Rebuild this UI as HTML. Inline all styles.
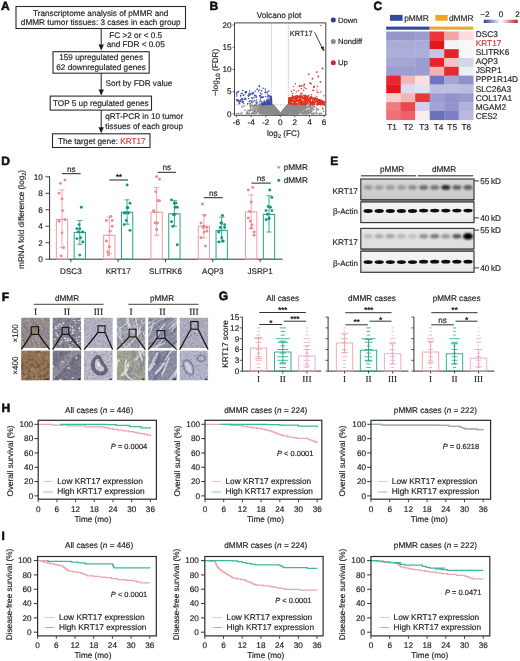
<!DOCTYPE html>
<html><head><meta charset="utf-8"><title>KRT17 figure</title>
<style>html,body{margin:0;padding:0;background:#fff;} svg{display:block;} text{font-family:'Liberation Sans', Arial, sans-serif;text-rendering:geometricPrecision;}</style>
</head><body>
<svg width="520" height="661" viewBox="0 0 520 661">
<rect x="0" y="0" width="520" height="661" fill="#fff"/>
<defs><filter id="gblur" x="0" y="0" width="100%" height="100%"><feGaussianBlur stdDeviation="0.3"/></filter></defs><g filter="url(#gblur)"><rect x="0" y="0" width="520" height="661" fill="#fff"/><text x="1.00" y="9.80" font-size="12" text-anchor="start" fill="#111" font-weight="bold" stroke="#111" stroke-width="0.55">A</text>
<rect x="16.00" y="6.50" width="169.50" height="22.00" fill="#fff" stroke="#2a2a2a" stroke-width="1.1" />
<text x="100.70" y="15.60" font-size="8.2" text-anchor="middle" fill="#222"  stroke="#222" stroke-width="0.16">Transcriptome analysis of pMMR and</text>
<text x="100.70" y="25.40" font-size="8.2" text-anchor="middle" fill="#222"  stroke="#222" stroke-width="0.16">dMMR tumor tissues: 3 cases in each group</text>
<line x1="101.20" y1="28.50" x2="101.20" y2="46.60" stroke="#222" stroke-width="1.0" />
<path d="M98.50,44.60 L103.90,44.60 L101.20,50.60 Z" fill="#1a1a1a"/>
<text x="135.70" y="37.60" font-size="8.2" text-anchor="middle" fill="#222"  stroke="#222" stroke-width="0.16">FC &gt;2 or &lt; 0.5</text>
<text x="135.70" y="47.30" font-size="8.2" text-anchor="middle" fill="#222"  stroke="#222" stroke-width="0.16">and FDR &lt; 0.05</text>
<rect x="53.00" y="51.70" width="96.20" height="21.50" fill="#fff" stroke="#2a2a2a" stroke-width="1.1" />
<text x="101.10" y="60.30" font-size="8.2" text-anchor="middle" fill="#222"  stroke="#222" stroke-width="0.16">159 upregulated genes</text>
<text x="101.10" y="69.60" font-size="8.2" text-anchor="middle" fill="#222"  stroke="#222" stroke-width="0.16">62 downregulated genes</text>
<line x1="101.20" y1="73.20" x2="101.20" y2="91.40" stroke="#222" stroke-width="1.0" />
<path d="M98.50,89.40 L103.90,89.40 L101.20,95.40 Z" fill="#1a1a1a"/>
<text x="105.50" y="86.40" font-size="8.2" text-anchor="start" fill="#222"  stroke="#222" stroke-width="0.16">Sort by FDR value</text>
<rect x="50.20" y="96.10" width="101.30" height="14.00" fill="#fff" stroke="#2a2a2a" stroke-width="1.1" />
<text x="100.85" y="105.60" font-size="8.2" text-anchor="middle" fill="#222"  stroke="#222" stroke-width="0.16">TOP 5 up regulated genes</text>
<line x1="101.20" y1="110.10" x2="101.20" y2="129.20" stroke="#222" stroke-width="1.0" />
<path d="M98.50,127.20 L103.90,127.20 L101.20,133.20 Z" fill="#1a1a1a"/>
<text x="105.20" y="119.40" font-size="8.2" text-anchor="start" fill="#222"  stroke="#222" stroke-width="0.16">qRT-PCR in 10 tumor</text>
<text x="105.20" y="129.40" font-size="8.2" text-anchor="start" fill="#222"  stroke="#222" stroke-width="0.16">tissues of each group</text>
<rect x="52.50" y="133.80" width="97.50" height="13.70" fill="#fff" stroke="#2a2a2a" stroke-width="1.1" />
<text x="57.90" y="144.00" font-size="8.2" text-anchor="start" fill="#222"  stroke="#222" stroke-width="0.16">The target gene: <tspan fill="#d8323c" stroke="#d8323c">KRT17</tspan></text>
<text x="209.50" y="9.80" font-size="12" text-anchor="start" fill="#111" font-weight="bold" stroke="#111" stroke-width="0.55">B</text>
<text x="279.00" y="18.20" font-size="8.2" text-anchor="middle" fill="#222"  stroke="#222" stroke-width="0.16">Volcano plot</text>
<defs><clipPath id="cpB"><rect x="235" y="23.4" width="90.3" height="91.4"/></clipPath></defs>
<g clip-path="url(#cpB)">
<line x1="271.54" y1="22.90" x2="271.54" y2="115.30" stroke="#888" stroke-width="0.6" stroke-dasharray="1,1"/>
<line x1="288.33" y1="22.90" x2="288.33" y2="115.30" stroke="#888" stroke-width="0.6" stroke-dasharray="1,1"/>
<line x1="234.50" y1="104.90" x2="325.80" y2="104.90" stroke="#888" stroke-width="0.6" stroke-dasharray="1.2,1.2"/>
<g fill="#8c8c8c">
<circle cx="263.3" cy="109.4" r="0.85"/>
<circle cx="285.5" cy="110.7" r="0.85"/>
<circle cx="286.9" cy="111.8" r="0.85"/>
<circle cx="295.5" cy="106.3" r="0.85"/>
<circle cx="301.6" cy="104.4" r="0.85"/>
<circle cx="293.9" cy="104.6" r="0.85"/>
<circle cx="269.4" cy="104.3" r="0.85"/>
<circle cx="264.5" cy="104.5" r="0.85"/>
<circle cx="284.1" cy="111.0" r="0.85"/>
<circle cx="289.9" cy="111.9" r="0.85"/>
<circle cx="260.6" cy="109.8" r="0.85"/>
<circle cx="277.9" cy="111.5" r="0.85"/>
<circle cx="279.6" cy="113.2" r="0.85"/>
<circle cx="276.3" cy="109.2" r="0.85"/>
<circle cx="289.5" cy="110.0" r="0.85"/>
<circle cx="288.1" cy="105.9" r="0.85"/>
<circle cx="269.0" cy="105.5" r="0.85"/>
<circle cx="293.5" cy="110.0" r="0.85"/>
<circle cx="271.9" cy="109.5" r="0.85"/>
<circle cx="282.3" cy="112.0" r="0.85"/>
<circle cx="269.5" cy="106.6" r="0.85"/>
<circle cx="288.0" cy="104.9" r="0.85"/>
<circle cx="287.3" cy="112.3" r="0.85"/>
<circle cx="266.2" cy="110.6" r="0.85"/>
<circle cx="274.8" cy="111.0" r="0.85"/>
<circle cx="291.1" cy="106.0" r="0.85"/>
<circle cx="290.0" cy="106.1" r="0.85"/>
<circle cx="270.7" cy="107.1" r="0.85"/>
<circle cx="307.5" cy="107.7" r="0.85"/>
<circle cx="304.9" cy="111.1" r="0.85"/>
<circle cx="274.8" cy="107.5" r="0.85"/>
<circle cx="290.5" cy="105.8" r="0.85"/>
<circle cx="269.5" cy="113.3" r="0.85"/>
<circle cx="272.4" cy="109.0" r="0.85"/>
<circle cx="286.2" cy="113.0" r="0.85"/>
<circle cx="273.7" cy="111.9" r="0.85"/>
<circle cx="288.7" cy="111.9" r="0.85"/>
<circle cx="301.4" cy="105.4" r="0.85"/>
<circle cx="268.8" cy="104.4" r="0.85"/>
<circle cx="271.5" cy="111.5" r="0.85"/>
<circle cx="277.3" cy="111.7" r="0.85"/>
<circle cx="270.0" cy="105.2" r="0.85"/>
<circle cx="279.3" cy="113.2" r="0.85"/>
<circle cx="275.2" cy="110.1" r="0.85"/>
<circle cx="274.5" cy="106.9" r="0.85"/>
<circle cx="310.7" cy="107.6" r="0.85"/>
<circle cx="288.3" cy="108.9" r="0.85"/>
<circle cx="283.5" cy="111.0" r="0.85"/>
<circle cx="310.4" cy="110.2" r="0.85"/>
<circle cx="282.7" cy="113.5" r="0.85"/>
<circle cx="283.2" cy="110.5" r="0.85"/>
<circle cx="299.8" cy="110.6" r="0.85"/>
<circle cx="282.9" cy="113.8" r="0.85"/>
<circle cx="295.8" cy="105.2" r="0.85"/>
<circle cx="288.2" cy="107.2" r="0.85"/>
<circle cx="288.6" cy="110.1" r="0.85"/>
<circle cx="250.6" cy="109.8" r="0.85"/>
<circle cx="287.3" cy="110.0" r="0.85"/>
<circle cx="263.8" cy="109.6" r="0.85"/>
<circle cx="270.9" cy="105.4" r="0.85"/>
<circle cx="278.4" cy="112.5" r="0.85"/>
<circle cx="266.7" cy="111.8" r="0.85"/>
<circle cx="300.3" cy="109.2" r="0.85"/>
<circle cx="291.9" cy="105.7" r="0.85"/>
<circle cx="275.1" cy="113.2" r="0.85"/>
<circle cx="264.9" cy="104.3" r="0.85"/>
<circle cx="273.7" cy="106.8" r="0.85"/>
<circle cx="300.1" cy="107.5" r="0.85"/>
<circle cx="290.7" cy="105.4" r="0.85"/>
<circle cx="257.5" cy="110.1" r="0.85"/>
<circle cx="290.9" cy="106.4" r="0.85"/>
<circle cx="291.0" cy="105.7" r="0.85"/>
<circle cx="292.6" cy="104.7" r="0.85"/>
<circle cx="278.9" cy="112.4" r="0.85"/>
<circle cx="288.6" cy="107.3" r="0.85"/>
<circle cx="268.9" cy="111.9" r="0.85"/>
<circle cx="268.8" cy="109.5" r="0.85"/>
<circle cx="283.4" cy="113.6" r="0.85"/>
<circle cx="281.9" cy="112.7" r="0.85"/>
<circle cx="271.4" cy="105.0" r="0.85"/>
<circle cx="303.2" cy="104.3" r="0.85"/>
<circle cx="285.2" cy="108.1" r="0.85"/>
<circle cx="271.3" cy="107.6" r="0.85"/>
<circle cx="266.4" cy="104.7" r="0.85"/>
<circle cx="265.6" cy="105.4" r="0.85"/>
<circle cx="271.7" cy="107.9" r="0.85"/>
<circle cx="281.7" cy="113.5" r="0.85"/>
<circle cx="278.5" cy="112.6" r="0.85"/>
<circle cx="293.0" cy="110.9" r="0.85"/>
<circle cx="261.0" cy="113.0" r="0.85"/>
<circle cx="295.5" cy="106.9" r="0.85"/>
<circle cx="290.7" cy="112.7" r="0.85"/>
<circle cx="291.4" cy="108.8" r="0.85"/>
<circle cx="298.3" cy="109.4" r="0.85"/>
<circle cx="263.3" cy="105.5" r="0.85"/>
<circle cx="275.8" cy="111.9" r="0.85"/>
<circle cx="311.8" cy="111.3" r="0.85"/>
<circle cx="303.3" cy="104.6" r="0.85"/>
<circle cx="265.7" cy="108.6" r="0.85"/>
<circle cx="282.1" cy="113.3" r="0.85"/>
<circle cx="264.4" cy="111.4" r="0.85"/>
<circle cx="286.1" cy="112.8" r="0.85"/>
<circle cx="291.4" cy="108.3" r="0.85"/>
<circle cx="275.9" cy="113.4" r="0.85"/>
<circle cx="285.9" cy="110.1" r="0.85"/>
<circle cx="278.5" cy="113.1" r="0.85"/>
<circle cx="269.5" cy="108.5" r="0.85"/>
<circle cx="267.4" cy="107.0" r="0.85"/>
<circle cx="297.1" cy="112.0" r="0.85"/>
<circle cx="255.7" cy="108.9" r="0.85"/>
<circle cx="285.5" cy="110.8" r="0.85"/>
<circle cx="296.7" cy="113.4" r="0.85"/>
<circle cx="266.3" cy="108.4" r="0.85"/>
<circle cx="278.9" cy="113.2" r="0.85"/>
<circle cx="296.1" cy="113.3" r="0.85"/>
<circle cx="287.2" cy="111.6" r="0.85"/>
<circle cx="273.2" cy="111.8" r="0.85"/>
<circle cx="281.5" cy="113.1" r="0.85"/>
<circle cx="276.6" cy="113.4" r="0.85"/>
<circle cx="288.5" cy="111.2" r="0.85"/>
<circle cx="289.3" cy="110.1" r="0.85"/>
<circle cx="281.6" cy="112.7" r="0.85"/>
<circle cx="275.5" cy="113.1" r="0.85"/>
<circle cx="275.8" cy="109.4" r="0.85"/>
<circle cx="285.8" cy="109.1" r="0.85"/>
<circle cx="296.4" cy="108.4" r="0.85"/>
<circle cx="285.3" cy="111.2" r="0.85"/>
<circle cx="288.2" cy="112.0" r="0.85"/>
<circle cx="262.6" cy="106.1" r="0.85"/>
<circle cx="290.2" cy="112.9" r="0.85"/>
<circle cx="273.4" cy="113.8" r="0.85"/>
<circle cx="286.0" cy="111.5" r="0.85"/>
<circle cx="275.5" cy="108.3" r="0.85"/>
<circle cx="287.5" cy="112.7" r="0.85"/>
<circle cx="267.7" cy="110.1" r="0.85"/>
<circle cx="289.5" cy="112.7" r="0.85"/>
<circle cx="281.3" cy="113.7" r="0.85"/>
<circle cx="279.5" cy="112.9" r="0.85"/>
<circle cx="286.2" cy="110.0" r="0.85"/>
<circle cx="283.1" cy="112.1" r="0.85"/>
<circle cx="285.7" cy="112.5" r="0.85"/>
<circle cx="287.4" cy="106.0" r="0.85"/>
<circle cx="284.4" cy="111.6" r="0.85"/>
<circle cx="283.1" cy="112.7" r="0.85"/>
<circle cx="264.0" cy="109.2" r="0.85"/>
<circle cx="283.7" cy="112.3" r="0.85"/>
<circle cx="285.2" cy="111.9" r="0.85"/>
<circle cx="273.0" cy="106.2" r="0.85"/>
<circle cx="288.8" cy="112.5" r="0.85"/>
<circle cx="294.6" cy="107.1" r="0.85"/>
<circle cx="292.8" cy="109.2" r="0.85"/>
<circle cx="265.3" cy="113.6" r="0.85"/>
<circle cx="283.9" cy="110.6" r="0.85"/>
<circle cx="270.2" cy="106.0" r="0.85"/>
<circle cx="255.8" cy="111.0" r="0.85"/>
<circle cx="296.8" cy="109.9" r="0.85"/>
<circle cx="279.4" cy="113.1" r="0.85"/>
<circle cx="275.1" cy="109.2" r="0.85"/>
<circle cx="267.8" cy="113.1" r="0.85"/>
<circle cx="265.5" cy="106.6" r="0.85"/>
<circle cx="270.6" cy="107.1" r="0.85"/>
<circle cx="265.1" cy="107.7" r="0.85"/>
<circle cx="273.2" cy="113.6" r="0.85"/>
<circle cx="257.9" cy="111.4" r="0.85"/>
<circle cx="276.7" cy="110.7" r="0.85"/>
<circle cx="282.9" cy="111.2" r="0.85"/>
<circle cx="294.8" cy="113.4" r="0.85"/>
<circle cx="270.5" cy="113.7" r="0.85"/>
<circle cx="264.0" cy="109.1" r="0.85"/>
<circle cx="261.0" cy="113.4" r="0.85"/>
<circle cx="287.7" cy="105.9" r="0.85"/>
<circle cx="276.8" cy="111.8" r="0.85"/>
<circle cx="311.5" cy="109.1" r="0.85"/>
<circle cx="292.3" cy="106.1" r="0.85"/>
<circle cx="270.3" cy="110.4" r="0.85"/>
<circle cx="265.6" cy="104.3" r="0.85"/>
<circle cx="280.4" cy="113.8" r="0.85"/>
<circle cx="284.4" cy="113.2" r="0.85"/>
<circle cx="280.3" cy="113.7" r="0.85"/>
<circle cx="275.9" cy="113.2" r="0.85"/>
<circle cx="266.0" cy="111.5" r="0.85"/>
<circle cx="287.1" cy="113.2" r="0.85"/>
<circle cx="277.6" cy="111.2" r="0.85"/>
<circle cx="264.9" cy="104.8" r="0.85"/>
<circle cx="269.4" cy="104.5" r="0.85"/>
<circle cx="269.5" cy="104.9" r="0.85"/>
<circle cx="261.0" cy="105.9" r="0.85"/>
<circle cx="287.5" cy="108.0" r="0.85"/>
<circle cx="283.3" cy="110.4" r="0.85"/>
<circle cx="263.5" cy="111.5" r="0.85"/>
<circle cx="302.4" cy="107.8" r="0.85"/>
<circle cx="299.5" cy="106.0" r="0.85"/>
<circle cx="273.2" cy="110.0" r="0.85"/>
<circle cx="263.9" cy="112.0" r="0.85"/>
<circle cx="280.6" cy="113.5" r="0.85"/>
<circle cx="290.5" cy="109.4" r="0.85"/>
<circle cx="284.4" cy="111.1" r="0.85"/>
<circle cx="285.6" cy="110.4" r="0.85"/>
<circle cx="282.9" cy="111.6" r="0.85"/>
<circle cx="270.8" cy="110.8" r="0.85"/>
<circle cx="281.6" cy="113.7" r="0.85"/>
<circle cx="298.7" cy="111.0" r="0.85"/>
<circle cx="297.6" cy="107.4" r="0.85"/>
<circle cx="279.0" cy="113.2" r="0.85"/>
<circle cx="305.5" cy="110.7" r="0.85"/>
<circle cx="258.4" cy="106.9" r="0.85"/>
<circle cx="273.4" cy="112.5" r="0.85"/>
<circle cx="285.4" cy="110.1" r="0.85"/>
<circle cx="283.0" cy="111.2" r="0.85"/>
<circle cx="281.2" cy="113.4" r="0.85"/>
<circle cx="274.9" cy="108.7" r="0.85"/>
<circle cx="277.0" cy="110.2" r="0.85"/>
<circle cx="278.3" cy="112.9" r="0.85"/>
<circle cx="267.2" cy="112.8" r="0.85"/>
<circle cx="308.8" cy="111.4" r="0.85"/>
<circle cx="269.0" cy="106.4" r="0.85"/>
<circle cx="254.1" cy="106.8" r="0.85"/>
<circle cx="299.4" cy="106.8" r="0.85"/>
<circle cx="269.4" cy="108.8" r="0.85"/>
<circle cx="288.7" cy="108.6" r="0.85"/>
<circle cx="289.5" cy="110.9" r="0.85"/>
<circle cx="265.0" cy="111.1" r="0.85"/>
<circle cx="296.8" cy="108.8" r="0.85"/>
<circle cx="282.6" cy="112.0" r="0.85"/>
<circle cx="282.0" cy="113.3" r="0.85"/>
<circle cx="275.5" cy="108.4" r="0.85"/>
<circle cx="277.9" cy="112.5" r="0.85"/>
<circle cx="279.8" cy="113.3" r="0.85"/>
<circle cx="260.2" cy="108.8" r="0.85"/>
<circle cx="281.6" cy="113.7" r="0.85"/>
<circle cx="266.5" cy="108.1" r="0.85"/>
<circle cx="258.7" cy="109.9" r="0.85"/>
<circle cx="275.1" cy="109.7" r="0.85"/>
<circle cx="295.5" cy="105.3" r="0.85"/>
<circle cx="260.3" cy="107.7" r="0.85"/>
<circle cx="258.7" cy="107.3" r="0.85"/>
<circle cx="277.0" cy="112.6" r="0.85"/>
<circle cx="293.7" cy="105.5" r="0.85"/>
<circle cx="279.5" cy="113.1" r="0.85"/>
<circle cx="285.1" cy="108.5" r="0.85"/>
<circle cx="279.4" cy="113.5" r="0.85"/>
<circle cx="282.4" cy="112.5" r="0.85"/>
<circle cx="284.8" cy="113.6" r="0.85"/>
<circle cx="287.2" cy="106.9" r="0.85"/>
<circle cx="285.9" cy="109.9" r="0.85"/>
<circle cx="281.7" cy="112.3" r="0.85"/>
<circle cx="289.1" cy="110.8" r="0.85"/>
<circle cx="272.7" cy="112.5" r="0.85"/>
<circle cx="291.2" cy="113.3" r="0.85"/>
<circle cx="273.8" cy="107.2" r="0.85"/>
<circle cx="312.3" cy="108.4" r="0.85"/>
<circle cx="290.6" cy="106.0" r="0.85"/>
<circle cx="300.6" cy="104.3" r="0.85"/>
<circle cx="279.1" cy="112.7" r="0.85"/>
<circle cx="286.7" cy="106.9" r="0.85"/>
<circle cx="275.6" cy="110.9" r="0.85"/>
<circle cx="290.0" cy="113.7" r="0.85"/>
<circle cx="278.5" cy="113.2" r="0.85"/>
<circle cx="297.4" cy="111.6" r="0.85"/>
<circle cx="294.9" cy="106.0" r="0.85"/>
<circle cx="259.1" cy="107.9" r="0.85"/>
<circle cx="287.1" cy="111.4" r="0.85"/>
<circle cx="283.8" cy="113.4" r="0.85"/>
<circle cx="266.3" cy="111.8" r="0.85"/>
<circle cx="264.0" cy="111.8" r="0.85"/>
<circle cx="275.7" cy="109.6" r="0.85"/>
<circle cx="290.8" cy="110.4" r="0.85"/>
<circle cx="285.7" cy="111.3" r="0.85"/>
<circle cx="291.2" cy="113.4" r="0.85"/>
<circle cx="288.9" cy="107.6" r="0.85"/>
<circle cx="293.8" cy="111.5" r="0.85"/>
<circle cx="281.3" cy="113.0" r="0.85"/>
<circle cx="323.1" cy="109.3" r="0.85"/>
<circle cx="283.1" cy="111.4" r="0.85"/>
<circle cx="269.0" cy="107.1" r="0.85"/>
<circle cx="277.4" cy="111.0" r="0.85"/>
<circle cx="287.3" cy="113.2" r="0.85"/>
<circle cx="301.7" cy="110.5" r="0.85"/>
<circle cx="267.5" cy="105.0" r="0.85"/>
<circle cx="302.9" cy="110.0" r="0.85"/>
<circle cx="278.0" cy="113.2" r="0.85"/>
<circle cx="271.9" cy="104.7" r="0.85"/>
<circle cx="281.5" cy="112.8" r="0.85"/>
<circle cx="288.3" cy="112.8" r="0.85"/>
<circle cx="265.4" cy="111.0" r="0.85"/>
<circle cx="287.7" cy="110.4" r="0.85"/>
<circle cx="273.3" cy="108.0" r="0.85"/>
<circle cx="292.8" cy="113.6" r="0.85"/>
<circle cx="285.3" cy="107.9" r="0.85"/>
<circle cx="260.6" cy="106.6" r="0.85"/>
<circle cx="276.5" cy="111.1" r="0.85"/>
<circle cx="275.0" cy="108.6" r="0.85"/>
<circle cx="274.1" cy="107.1" r="0.85"/>
<circle cx="275.1" cy="109.2" r="0.85"/>
<circle cx="272.6" cy="104.8" r="0.85"/>
<circle cx="280.3" cy="113.8" r="0.85"/>
<circle cx="285.0" cy="110.3" r="0.85"/>
<circle cx="272.4" cy="104.8" r="0.85"/>
<circle cx="280.9" cy="113.2" r="0.85"/>
<circle cx="298.5" cy="110.4" r="0.85"/>
<circle cx="273.4" cy="112.7" r="0.85"/>
<circle cx="281.9" cy="112.7" r="0.85"/>
<circle cx="263.8" cy="112.7" r="0.85"/>
<circle cx="273.7" cy="107.4" r="0.85"/>
<circle cx="274.6" cy="111.8" r="0.85"/>
<circle cx="276.1" cy="112.6" r="0.85"/>
<circle cx="268.6" cy="104.6" r="0.85"/>
<circle cx="288.9" cy="104.8" r="0.85"/>
<circle cx="282.0" cy="112.2" r="0.85"/>
<circle cx="269.5" cy="109.1" r="0.85"/>
<circle cx="260.3" cy="113.6" r="0.85"/>
<circle cx="285.2" cy="109.7" r="0.85"/>
<circle cx="295.1" cy="105.2" r="0.85"/>
<circle cx="269.5" cy="106.5" r="0.85"/>
<circle cx="279.0" cy="112.2" r="0.85"/>
<circle cx="276.6" cy="111.2" r="0.85"/>
<circle cx="273.5" cy="108.3" r="0.85"/>
<circle cx="265.2" cy="106.6" r="0.85"/>
<circle cx="265.4" cy="113.7" r="0.85"/>
<circle cx="294.7" cy="107.5" r="0.85"/>
<circle cx="294.3" cy="107.5" r="0.85"/>
<circle cx="270.8" cy="110.7" r="0.85"/>
<circle cx="301.3" cy="106.8" r="0.85"/>
<circle cx="287.8" cy="111.0" r="0.85"/>
<circle cx="274.0" cy="106.9" r="0.85"/>
<circle cx="297.8" cy="108.2" r="0.85"/>
<circle cx="276.7" cy="111.4" r="0.85"/>
<circle cx="283.0" cy="111.2" r="0.85"/>
<circle cx="272.2" cy="112.7" r="0.85"/>
<circle cx="286.5" cy="108.9" r="0.85"/>
<circle cx="290.0" cy="111.7" r="0.85"/>
<circle cx="269.5" cy="108.4" r="0.85"/>
<circle cx="285.5" cy="113.0" r="0.85"/>
<circle cx="276.7" cy="113.5" r="0.85"/>
<circle cx="290.7" cy="106.5" r="0.85"/>
<circle cx="280.3" cy="113.8" r="0.85"/>
<circle cx="285.9" cy="110.5" r="0.85"/>
<circle cx="267.5" cy="104.4" r="0.85"/>
<circle cx="289.9" cy="113.0" r="0.85"/>
<circle cx="273.2" cy="109.8" r="0.85"/>
<circle cx="283.4" cy="110.5" r="0.85"/>
<circle cx="291.5" cy="111.8" r="0.85"/>
<circle cx="270.8" cy="112.3" r="0.85"/>
<circle cx="292.7" cy="111.9" r="0.85"/>
<circle cx="274.2" cy="113.4" r="0.85"/>
<circle cx="273.6" cy="111.1" r="0.85"/>
<circle cx="268.8" cy="107.0" r="0.85"/>
<circle cx="307.8" cy="110.2" r="0.85"/>
<circle cx="294.2" cy="105.6" r="0.85"/>
<circle cx="274.6" cy="111.4" r="0.85"/>
<circle cx="283.2" cy="112.4" r="0.85"/>
<circle cx="288.6" cy="110.2" r="0.85"/>
<circle cx="265.2" cy="105.7" r="0.85"/>
<circle cx="298.7" cy="109.6" r="0.85"/>
<circle cx="271.2" cy="113.6" r="0.85"/>
<circle cx="264.5" cy="104.4" r="0.85"/>
<circle cx="286.5" cy="107.9" r="0.85"/>
<circle cx="280.2" cy="113.7" r="0.85"/>
<circle cx="305.3" cy="111.5" r="0.85"/>
<circle cx="277.1" cy="113.3" r="0.85"/>
<circle cx="297.5" cy="113.5" r="0.85"/>
<circle cx="285.8" cy="110.5" r="0.85"/>
<circle cx="287.8" cy="107.2" r="0.85"/>
<circle cx="296.3" cy="111.2" r="0.85"/>
<circle cx="263.9" cy="107.3" r="0.85"/>
<circle cx="278.6" cy="113.7" r="0.85"/>
<circle cx="291.4" cy="109.3" r="0.85"/>
<circle cx="301.7" cy="107.5" r="0.85"/>
<circle cx="283.8" cy="112.8" r="0.85"/>
<circle cx="283.6" cy="110.0" r="0.85"/>
<circle cx="298.3" cy="110.4" r="0.85"/>
<circle cx="267.9" cy="104.3" r="0.85"/>
<circle cx="265.5" cy="105.9" r="0.85"/>
<circle cx="280.7" cy="113.8" r="0.85"/>
<circle cx="295.3" cy="111.3" r="0.85"/>
<circle cx="270.4" cy="105.0" r="0.85"/>
<circle cx="278.8" cy="113.0" r="0.85"/>
<circle cx="284.1" cy="110.1" r="0.85"/>
<circle cx="275.2" cy="112.8" r="0.85"/>
<circle cx="277.1" cy="110.4" r="0.85"/>
<circle cx="270.8" cy="113.2" r="0.85"/>
<circle cx="273.9" cy="113.5" r="0.85"/>
<circle cx="287.6" cy="111.2" r="0.85"/>
<circle cx="288.0" cy="110.9" r="0.85"/>
<circle cx="279.6" cy="113.1" r="0.85"/>
<circle cx="286.2" cy="108.2" r="0.85"/>
<circle cx="275.4" cy="108.2" r="0.85"/>
<circle cx="290.2" cy="106.8" r="0.85"/>
<circle cx="281.6" cy="112.5" r="0.85"/>
<circle cx="290.8" cy="113.0" r="0.85"/>
<circle cx="272.0" cy="108.0" r="0.85"/>
<circle cx="289.8" cy="107.2" r="0.85"/>
<circle cx="277.5" cy="112.5" r="0.85"/>
<circle cx="276.4" cy="111.1" r="0.85"/>
<circle cx="292.0" cy="111.9" r="0.85"/>
<circle cx="270.2" cy="111.2" r="0.85"/>
<circle cx="283.1" cy="112.0" r="0.85"/>
<circle cx="292.8" cy="105.5" r="0.85"/>
<circle cx="283.7" cy="111.1" r="0.85"/>
<circle cx="295.5" cy="107.3" r="0.85"/>
<circle cx="286.4" cy="106.8" r="0.85"/>
<circle cx="273.2" cy="107.6" r="0.85"/>
<circle cx="279.9" cy="113.4" r="0.85"/>
<circle cx="283.0" cy="113.5" r="0.85"/>
<circle cx="277.9" cy="111.2" r="0.85"/>
<circle cx="269.6" cy="110.4" r="0.85"/>
<circle cx="282.5" cy="113.7" r="0.85"/>
<circle cx="276.0" cy="112.1" r="0.85"/>
<circle cx="284.1" cy="111.4" r="0.85"/>
<circle cx="293.4" cy="104.4" r="0.85"/>
<circle cx="285.0" cy="111.1" r="0.85"/>
<circle cx="292.1" cy="108.6" r="0.85"/>
<circle cx="282.7" cy="112.8" r="0.85"/>
<circle cx="278.8" cy="112.2" r="0.85"/>
<circle cx="302.6" cy="106.1" r="0.85"/>
<circle cx="277.0" cy="113.1" r="0.85"/>
<circle cx="266.5" cy="106.2" r="0.85"/>
<circle cx="274.9" cy="107.4" r="0.85"/>
<circle cx="288.3" cy="108.8" r="0.85"/>
<circle cx="293.9" cy="109.9" r="0.85"/>
<circle cx="245.0" cy="110.1" r="0.85"/>
<circle cx="263.0" cy="111.6" r="0.85"/>
<circle cx="250.4" cy="107.4" r="0.85"/>
<circle cx="276.5" cy="110.3" r="0.85"/>
<circle cx="283.4" cy="110.9" r="0.85"/>
<circle cx="287.9" cy="105.6" r="0.85"/>
<circle cx="292.1" cy="105.7" r="0.85"/>
<circle cx="290.9" cy="105.1" r="0.85"/>
<circle cx="287.3" cy="110.7" r="0.85"/>
<circle cx="260.0" cy="107.1" r="0.85"/>
<circle cx="273.2" cy="105.7" r="0.85"/>
<circle cx="276.5" cy="111.5" r="0.85"/>
<circle cx="282.9" cy="111.4" r="0.85"/>
<circle cx="280.2" cy="113.8" r="0.85"/>
<circle cx="283.3" cy="110.8" r="0.85"/>
<circle cx="275.9" cy="111.4" r="0.85"/>
<circle cx="272.6" cy="110.5" r="0.85"/>
<circle cx="250.9" cy="109.4" r="0.85"/>
<circle cx="265.0" cy="107.3" r="0.85"/>
<circle cx="276.0" cy="111.9" r="0.85"/>
<circle cx="306.0" cy="113.4" r="0.85"/>
<circle cx="291.1" cy="106.8" r="0.85"/>
<circle cx="292.7" cy="112.4" r="0.85"/>
<circle cx="283.8" cy="110.2" r="0.85"/>
<circle cx="289.6" cy="108.6" r="0.85"/>
<circle cx="272.2" cy="109.7" r="0.85"/>
<circle cx="286.6" cy="110.4" r="0.85"/>
<circle cx="256.0" cy="106.7" r="0.85"/>
<circle cx="270.6" cy="110.8" r="0.85"/>
<circle cx="275.8" cy="113.5" r="0.85"/>
<circle cx="259.4" cy="109.4" r="0.85"/>
<circle cx="262.5" cy="106.1" r="0.85"/>
<circle cx="281.3" cy="113.1" r="0.85"/>
<circle cx="281.2" cy="112.9" r="0.85"/>
<circle cx="290.8" cy="104.9" r="0.85"/>
<circle cx="285.1" cy="111.7" r="0.85"/>
<circle cx="282.3" cy="112.3" r="0.85"/>
<circle cx="282.5" cy="113.4" r="0.85"/>
<circle cx="264.6" cy="113.3" r="0.85"/>
<circle cx="279.9" cy="113.6" r="0.85"/>
<circle cx="296.8" cy="111.4" r="0.85"/>
<circle cx="277.7" cy="112.9" r="0.85"/>
<circle cx="268.2" cy="105.9" r="0.85"/>
<circle cx="267.1" cy="107.9" r="0.85"/>
<circle cx="274.3" cy="108.1" r="0.85"/>
<circle cx="289.8" cy="105.7" r="0.85"/>
<circle cx="289.9" cy="104.3" r="0.85"/>
<circle cx="252.0" cy="110.1" r="0.85"/>
<circle cx="263.4" cy="109.5" r="0.85"/>
<circle cx="254.6" cy="110.4" r="0.85"/>
<circle cx="299.8" cy="104.4" r="0.85"/>
<circle cx="275.3" cy="113.1" r="0.85"/>
<circle cx="302.2" cy="104.3" r="0.85"/>
<circle cx="264.9" cy="106.3" r="0.85"/>
<circle cx="276.1" cy="109.6" r="0.85"/>
<circle cx="277.4" cy="112.8" r="0.85"/>
<circle cx="293.8" cy="110.1" r="0.85"/>
<circle cx="274.3" cy="112.8" r="0.85"/>
<circle cx="263.9" cy="104.8" r="0.85"/>
<circle cx="289.9" cy="104.9" r="0.85"/>
<circle cx="276.0" cy="108.8" r="0.85"/>
<circle cx="273.2" cy="107.0" r="0.85"/>
<circle cx="277.2" cy="111.5" r="0.85"/>
<circle cx="273.1" cy="105.6" r="0.85"/>
<circle cx="288.3" cy="110.9" r="0.85"/>
<circle cx="288.1" cy="113.8" r="0.85"/>
<circle cx="284.5" cy="113.0" r="0.85"/>
<circle cx="266.0" cy="110.0" r="0.85"/>
<circle cx="281.7" cy="112.9" r="0.85"/>
<circle cx="269.6" cy="113.0" r="0.85"/>
<circle cx="264.1" cy="104.3" r="0.85"/>
<circle cx="255.7" cy="104.3" r="0.85"/>
<circle cx="289.5" cy="104.9" r="0.85"/>
<circle cx="292.0" cy="110.8" r="0.85"/>
<circle cx="286.2" cy="106.8" r="0.85"/>
<circle cx="289.0" cy="108.4" r="0.85"/>
<circle cx="314.3" cy="106.8" r="0.85"/>
<circle cx="260.1" cy="106.5" r="0.85"/>
<circle cx="295.1" cy="112.8" r="0.85"/>
<circle cx="293.7" cy="111.4" r="0.85"/>
<circle cx="276.0" cy="113.7" r="0.85"/>
<circle cx="271.5" cy="106.9" r="0.85"/>
<circle cx="275.7" cy="112.5" r="0.85"/>
<circle cx="267.3" cy="106.1" r="0.85"/>
<circle cx="295.2" cy="110.7" r="0.85"/>
<circle cx="290.7" cy="111.8" r="0.85"/>
<circle cx="287.3" cy="109.3" r="0.85"/>
<circle cx="276.6" cy="109.8" r="0.85"/>
<circle cx="272.5" cy="107.6" r="0.85"/>
<circle cx="296.7" cy="106.4" r="0.85"/>
<circle cx="281.3" cy="113.7" r="0.85"/>
<circle cx="288.3" cy="110.9" r="0.85"/>
<circle cx="307.7" cy="113.6" r="0.85"/>
<circle cx="295.4" cy="110.3" r="0.85"/>
<circle cx="285.2" cy="113.4" r="0.85"/>
<circle cx="290.3" cy="105.3" r="0.85"/>
<circle cx="313.0" cy="109.6" r="0.85"/>
<circle cx="284.8" cy="109.2" r="0.85"/>
<circle cx="299.0" cy="108.2" r="0.85"/>
<circle cx="274.1" cy="108.7" r="0.85"/>
<circle cx="277.5" cy="112.4" r="0.85"/>
<circle cx="268.3" cy="109.2" r="0.85"/>
<circle cx="286.9" cy="109.3" r="0.85"/>
<circle cx="299.4" cy="109.1" r="0.85"/>
<circle cx="284.2" cy="113.4" r="0.85"/>
<circle cx="289.3" cy="106.8" r="0.85"/>
<circle cx="293.0" cy="110.7" r="0.85"/>
<circle cx="294.3" cy="112.6" r="0.85"/>
<circle cx="279.4" cy="113.3" r="0.85"/>
<circle cx="282.9" cy="113.5" r="0.85"/>
<circle cx="306.7" cy="106.2" r="0.85"/>
<circle cx="277.1" cy="111.1" r="0.85"/>
<circle cx="280.2" cy="113.7" r="0.85"/>
<circle cx="305.5" cy="111.9" r="0.85"/>
<circle cx="276.6" cy="111.5" r="0.85"/>
<circle cx="299.9" cy="109.1" r="0.85"/>
<circle cx="281.6" cy="112.6" r="0.85"/>
<circle cx="305.2" cy="112.6" r="0.85"/>
<circle cx="282.6" cy="111.2" r="0.85"/>
<circle cx="272.7" cy="107.0" r="0.85"/>
<circle cx="297.7" cy="105.3" r="0.85"/>
<circle cx="260.6" cy="112.0" r="0.85"/>
<circle cx="260.3" cy="111.8" r="0.85"/>
<circle cx="260.8" cy="111.9" r="0.85"/>
<circle cx="259.7" cy="104.3" r="0.85"/>
<circle cx="273.9" cy="107.6" r="0.85"/>
<circle cx="290.5" cy="110.2" r="0.85"/>
<circle cx="283.4" cy="111.5" r="0.85"/>
<circle cx="286.9" cy="106.5" r="0.85"/>
<circle cx="298.0" cy="105.4" r="0.85"/>
<circle cx="273.4" cy="108.1" r="0.85"/>
<circle cx="279.2" cy="112.9" r="0.85"/>
<circle cx="267.2" cy="109.5" r="0.85"/>
<circle cx="292.0" cy="108.2" r="0.85"/>
<circle cx="292.2" cy="111.6" r="0.85"/>
<circle cx="275.7" cy="109.4" r="0.85"/>
<circle cx="288.2" cy="107.4" r="0.85"/>
<circle cx="272.1" cy="113.0" r="0.85"/>
<circle cx="262.9" cy="107.6" r="0.85"/>
<circle cx="295.1" cy="107.3" r="0.85"/>
<circle cx="277.4" cy="112.8" r="0.85"/>
<circle cx="295.0" cy="109.9" r="0.85"/>
<circle cx="280.8" cy="113.7" r="0.85"/>
<circle cx="294.6" cy="107.4" r="0.85"/>
<circle cx="266.3" cy="108.2" r="0.85"/>
<circle cx="301.9" cy="104.7" r="0.85"/>
<circle cx="285.0" cy="109.7" r="0.85"/>
<circle cx="276.7" cy="110.9" r="0.85"/>
<circle cx="263.8" cy="113.6" r="0.85"/>
<circle cx="304.9" cy="107.8" r="0.85"/>
<circle cx="270.3" cy="109.9" r="0.85"/>
<circle cx="292.1" cy="113.4" r="0.85"/>
<circle cx="273.9" cy="108.9" r="0.85"/>
<circle cx="265.7" cy="107.8" r="0.85"/>
<circle cx="263.8" cy="113.7" r="0.85"/>
<circle cx="292.1" cy="106.9" r="0.85"/>
<circle cx="289.0" cy="113.0" r="0.85"/>
<circle cx="291.2" cy="109.7" r="0.85"/>
<circle cx="264.0" cy="111.5" r="0.85"/>
<circle cx="264.4" cy="106.4" r="0.85"/>
<circle cx="291.7" cy="112.1" r="0.85"/>
<circle cx="291.0" cy="105.2" r="0.85"/>
<circle cx="293.1" cy="108.5" r="0.85"/>
<circle cx="282.3" cy="113.2" r="0.85"/>
<circle cx="275.0" cy="110.6" r="0.85"/>
<circle cx="295.9" cy="104.7" r="0.85"/>
<circle cx="268.8" cy="111.4" r="0.85"/>
<circle cx="279.4" cy="112.8" r="0.85"/>
<circle cx="283.4" cy="111.5" r="0.85"/>
<circle cx="295.2" cy="112.8" r="0.85"/>
<circle cx="285.0" cy="110.9" r="0.85"/>
<circle cx="273.8" cy="110.2" r="0.85"/>
<circle cx="303.7" cy="104.3" r="0.85"/>
<circle cx="289.7" cy="112.3" r="0.85"/>
<circle cx="286.9" cy="113.5" r="0.85"/>
<circle cx="281.5" cy="113.5" r="0.85"/>
<circle cx="294.1" cy="105.9" r="0.85"/>
<circle cx="284.4" cy="113.3" r="0.85"/>
<circle cx="272.7" cy="112.5" r="0.85"/>
<circle cx="294.4" cy="108.4" r="0.85"/>
<circle cx="280.1" cy="113.7" r="0.85"/>
<circle cx="279.6" cy="113.3" r="0.85"/>
<circle cx="293.6" cy="107.4" r="0.85"/>
<circle cx="276.1" cy="113.5" r="0.85"/>
<circle cx="281.6" cy="112.9" r="0.85"/>
<circle cx="272.3" cy="107.0" r="0.85"/>
<circle cx="286.1" cy="109.6" r="0.85"/>
<circle cx="283.1" cy="110.4" r="0.85"/>
<circle cx="303.2" cy="113.4" r="0.85"/>
<circle cx="298.9" cy="110.3" r="0.85"/>
<circle cx="281.1" cy="113.1" r="0.85"/>
<circle cx="274.3" cy="108.3" r="0.85"/>
<circle cx="298.3" cy="108.3" r="0.85"/>
<circle cx="280.4" cy="113.7" r="0.85"/>
<circle cx="275.7" cy="112.4" r="0.85"/>
<circle cx="292.7" cy="110.0" r="0.85"/>
<circle cx="314.6" cy="106.4" r="0.85"/>
<circle cx="300.7" cy="106.3" r="0.85"/>
<circle cx="277.3" cy="113.6" r="0.85"/>
<circle cx="276.6" cy="111.4" r="0.85"/>
<circle cx="298.1" cy="113.0" r="0.85"/>
<circle cx="271.6" cy="108.3" r="0.85"/>
<circle cx="303.0" cy="110.0" r="0.85"/>
<circle cx="281.1" cy="112.9" r="0.85"/>
<circle cx="301.9" cy="110.8" r="0.85"/>
<circle cx="291.3" cy="107.6" r="0.85"/>
<circle cx="273.9" cy="111.3" r="0.85"/>
<circle cx="283.0" cy="110.8" r="0.85"/>
<circle cx="290.7" cy="104.8" r="0.85"/>
<circle cx="262.5" cy="106.3" r="0.85"/>
<circle cx="297.3" cy="111.8" r="0.85"/>
<circle cx="275.2" cy="110.5" r="0.85"/>
<circle cx="284.1" cy="111.7" r="0.85"/>
<circle cx="274.3" cy="109.1" r="0.85"/>
<circle cx="265.4" cy="109.1" r="0.85"/>
<circle cx="294.8" cy="107.0" r="0.85"/>
<circle cx="281.5" cy="113.6" r="0.85"/>
<circle cx="273.9" cy="107.1" r="0.85"/>
<circle cx="275.6" cy="111.0" r="0.85"/>
<circle cx="287.1" cy="108.1" r="0.85"/>
<circle cx="268.3" cy="107.9" r="0.85"/>
<circle cx="292.6" cy="105.7" r="0.85"/>
<circle cx="278.8" cy="113.2" r="0.85"/>
<circle cx="270.8" cy="111.7" r="0.85"/>
<circle cx="275.4" cy="111.8" r="0.85"/>
<circle cx="262.8" cy="113.5" r="0.85"/>
<circle cx="288.2" cy="109.5" r="0.85"/>
<circle cx="270.3" cy="112.8" r="0.85"/>
<circle cx="281.1" cy="113.6" r="0.85"/>
<circle cx="301.3" cy="108.7" r="0.85"/>
<circle cx="285.0" cy="108.7" r="0.85"/>
<circle cx="302.8" cy="112.9" r="0.85"/>
<circle cx="273.1" cy="111.9" r="0.85"/>
<circle cx="285.7" cy="107.8" r="0.85"/>
<circle cx="296.6" cy="108.2" r="0.85"/>
<circle cx="305.7" cy="106.8" r="0.85"/>
<circle cx="261.7" cy="106.9" r="0.85"/>
<circle cx="273.3" cy="111.6" r="0.85"/>
<circle cx="306.8" cy="104.3" r="0.85"/>
<circle cx="270.0" cy="105.9" r="0.85"/>
<circle cx="277.8" cy="112.0" r="0.85"/>
<circle cx="278.7" cy="112.7" r="0.85"/>
<circle cx="291.5" cy="112.3" r="0.85"/>
<circle cx="297.6" cy="108.6" r="0.85"/>
<circle cx="259.3" cy="109.8" r="0.85"/>
<circle cx="301.2" cy="104.5" r="0.85"/>
<circle cx="268.7" cy="110.3" r="0.85"/>
<circle cx="282.6" cy="111.8" r="0.85"/>
<circle cx="270.5" cy="104.8" r="0.85"/>
<circle cx="262.4" cy="105.7" r="0.85"/>
<circle cx="279.7" cy="113.7" r="0.85"/>
<circle cx="299.2" cy="112.6" r="0.85"/>
<circle cx="272.9" cy="109.2" r="0.85"/>
<circle cx="310.7" cy="112.2" r="0.85"/>
<circle cx="308.7" cy="109.9" r="0.85"/>
<circle cx="283.4" cy="113.7" r="0.85"/>
<circle cx="281.7" cy="113.5" r="0.85"/>
<circle cx="284.0" cy="111.4" r="0.85"/>
<circle cx="263.9" cy="108.4" r="0.85"/>
<circle cx="270.4" cy="110.3" r="0.85"/>
<circle cx="293.2" cy="108.0" r="0.85"/>
<circle cx="294.4" cy="113.5" r="0.85"/>
<circle cx="287.9" cy="105.4" r="0.85"/>
<circle cx="276.4" cy="109.5" r="0.85"/>
<circle cx="292.2" cy="104.7" r="0.85"/>
<circle cx="304.8" cy="113.6" r="0.85"/>
<circle cx="267.9" cy="109.1" r="0.85"/>
<circle cx="272.8" cy="113.0" r="0.85"/>
<circle cx="262.7" cy="108.3" r="0.85"/>
<circle cx="283.7" cy="113.1" r="0.85"/>
<circle cx="279.4" cy="113.8" r="0.85"/>
<circle cx="305.9" cy="108.3" r="0.85"/>
<circle cx="285.5" cy="111.9" r="0.85"/>
<circle cx="280.5" cy="113.7" r="0.85"/>
<circle cx="279.8" cy="113.3" r="0.85"/>
<circle cx="269.8" cy="104.3" r="0.85"/>
<circle cx="287.2" cy="111.7" r="0.85"/>
<circle cx="265.7" cy="110.0" r="0.85"/>
<circle cx="271.6" cy="105.7" r="0.85"/>
<circle cx="286.7" cy="107.5" r="0.85"/>
<circle cx="274.5" cy="111.9" r="0.85"/>
<circle cx="275.2" cy="108.8" r="0.85"/>
<circle cx="289.2" cy="105.9" r="0.85"/>
<circle cx="286.6" cy="107.9" r="0.85"/>
<circle cx="274.1" cy="111.3" r="0.85"/>
<circle cx="269.1" cy="104.6" r="0.85"/>
<circle cx="258.5" cy="105.6" r="0.85"/>
<circle cx="301.8" cy="112.7" r="0.85"/>
<circle cx="294.0" cy="111.3" r="0.85"/>
<circle cx="279.5" cy="113.5" r="0.85"/>
<circle cx="283.7" cy="111.8" r="0.85"/>
<circle cx="267.2" cy="109.3" r="0.85"/>
<circle cx="281.3" cy="113.0" r="0.85"/>
<circle cx="278.2" cy="113.5" r="0.85"/>
<circle cx="286.1" cy="107.1" r="0.85"/>
<circle cx="287.7" cy="110.8" r="0.85"/>
<circle cx="287.3" cy="106.0" r="0.85"/>
<circle cx="277.1" cy="110.3" r="0.85"/>
<circle cx="267.8" cy="104.7" r="0.85"/>
<circle cx="275.4" cy="113.3" r="0.85"/>
<circle cx="285.3" cy="108.5" r="0.85"/>
<circle cx="277.8" cy="111.1" r="0.85"/>
<circle cx="283.9" cy="111.4" r="0.85"/>
<circle cx="262.9" cy="108.8" r="0.85"/>
<circle cx="275.8" cy="113.4" r="0.85"/>
<circle cx="281.2" cy="113.5" r="0.85"/>
<circle cx="285.8" cy="110.5" r="0.85"/>
<circle cx="286.9" cy="107.5" r="0.85"/>
<circle cx="290.8" cy="104.5" r="0.85"/>
<circle cx="262.0" cy="109.4" r="0.85"/>
<circle cx="285.0" cy="113.4" r="0.85"/>
<circle cx="283.4" cy="112.3" r="0.85"/>
<circle cx="279.9" cy="113.3" r="0.85"/>
<circle cx="290.8" cy="104.3" r="0.85"/>
<circle cx="300.4" cy="111.4" r="0.85"/>
<circle cx="260.1" cy="105.3" r="0.85"/>
<circle cx="280.4" cy="113.7" r="0.85"/>
<circle cx="290.7" cy="106.9" r="0.85"/>
<circle cx="283.1" cy="112.3" r="0.85"/>
<circle cx="275.0" cy="110.1" r="0.85"/>
<circle cx="292.2" cy="108.5" r="0.85"/>
<circle cx="268.2" cy="111.6" r="0.85"/>
<circle cx="283.4" cy="110.7" r="0.85"/>
<circle cx="286.4" cy="113.7" r="0.85"/>
<circle cx="274.7" cy="107.8" r="0.85"/>
<circle cx="278.6" cy="112.0" r="0.85"/>
<circle cx="270.3" cy="111.1" r="0.85"/>
<circle cx="297.6" cy="108.7" r="0.85"/>
<circle cx="292.4" cy="112.9" r="0.85"/>
<circle cx="266.8" cy="108.1" r="0.85"/>
<circle cx="279.1" cy="113.1" r="0.85"/>
<circle cx="269.9" cy="108.1" r="0.85"/>
<circle cx="268.9" cy="109.6" r="0.85"/>
<circle cx="291.3" cy="104.6" r="0.85"/>
<circle cx="278.2" cy="113.2" r="0.85"/>
<circle cx="292.1" cy="112.6" r="0.85"/>
<circle cx="264.5" cy="109.1" r="0.85"/>
<circle cx="288.2" cy="106.3" r="0.85"/>
<circle cx="289.2" cy="105.4" r="0.85"/>
<circle cx="266.5" cy="111.8" r="0.85"/>
<circle cx="293.0" cy="107.3" r="0.85"/>
<circle cx="244.0" cy="106.1" r="0.85"/>
<circle cx="283.0" cy="112.8" r="0.85"/>
<circle cx="272.1" cy="112.8" r="0.85"/>
<circle cx="296.7" cy="111.3" r="0.85"/>
<circle cx="282.7" cy="113.5" r="0.85"/>
<circle cx="298.5" cy="109.9" r="0.85"/>
<circle cx="272.1" cy="113.6" r="0.85"/>
<circle cx="288.6" cy="110.2" r="0.85"/>
<circle cx="271.6" cy="104.4" r="0.85"/>
<circle cx="275.2" cy="113.4" r="0.85"/>
<circle cx="275.3" cy="109.2" r="0.85"/>
<circle cx="286.5" cy="113.3" r="0.85"/>
<circle cx="252.8" cy="107.0" r="0.85"/>
<circle cx="278.5" cy="113.2" r="0.85"/>
<circle cx="282.7" cy="112.6" r="0.85"/>
<circle cx="283.7" cy="110.7" r="0.85"/>
<circle cx="288.0" cy="113.1" r="0.85"/>
<circle cx="298.8" cy="112.9" r="0.85"/>
<circle cx="290.1" cy="107.9" r="0.85"/>
<circle cx="274.2" cy="108.2" r="0.85"/>
<circle cx="274.7" cy="109.8" r="0.85"/>
<circle cx="290.0" cy="112.1" r="0.85"/>
<circle cx="265.0" cy="111.4" r="0.85"/>
<circle cx="276.8" cy="111.7" r="0.85"/>
<circle cx="281.0" cy="113.0" r="0.85"/>
<circle cx="292.6" cy="108.4" r="0.85"/>
<circle cx="299.1" cy="107.2" r="0.85"/>
<circle cx="274.0" cy="109.2" r="0.85"/>
<circle cx="287.1" cy="110.7" r="0.85"/>
<circle cx="278.5" cy="112.6" r="0.85"/>
<circle cx="259.6" cy="108.6" r="0.85"/>
<circle cx="254.9" cy="105.4" r="0.85"/>
<circle cx="280.8" cy="113.5" r="0.85"/>
<circle cx="275.6" cy="111.8" r="0.85"/>
<circle cx="278.5" cy="112.4" r="0.85"/>
<circle cx="268.3" cy="109.4" r="0.85"/>
<circle cx="274.3" cy="113.4" r="0.85"/>
<circle cx="283.0" cy="113.6" r="0.85"/>
<circle cx="290.2" cy="107.5" r="0.85"/>
<circle cx="285.0" cy="110.0" r="0.85"/>
<circle cx="270.1" cy="110.1" r="0.85"/>
<circle cx="277.1" cy="113.3" r="0.85"/>
<circle cx="277.5" cy="111.7" r="0.85"/>
<circle cx="285.7" cy="109.8" r="0.85"/>
<circle cx="280.9" cy="113.8" r="0.85"/>
<circle cx="289.9" cy="106.4" r="0.85"/>
<circle cx="267.5" cy="112.7" r="0.85"/>
<circle cx="277.0" cy="111.8" r="0.85"/>
<circle cx="289.5" cy="107.1" r="0.85"/>
<circle cx="288.4" cy="107.0" r="0.85"/>
<circle cx="273.3" cy="107.8" r="0.85"/>
<circle cx="266.2" cy="109.4" r="0.85"/>
<circle cx="286.2" cy="108.3" r="0.85"/>
<circle cx="282.5" cy="113.4" r="0.85"/>
<circle cx="265.2" cy="106.9" r="0.85"/>
<circle cx="310.7" cy="110.0" r="0.85"/>
<circle cx="257.6" cy="111.0" r="0.85"/>
<circle cx="274.8" cy="111.1" r="0.85"/>
<circle cx="274.6" cy="110.2" r="0.85"/>
<circle cx="272.1" cy="110.5" r="0.85"/>
<circle cx="279.7" cy="113.6" r="0.85"/>
<circle cx="277.8" cy="112.4" r="0.85"/>
<circle cx="282.8" cy="113.2" r="0.85"/>
<circle cx="294.0" cy="113.2" r="0.85"/>
<circle cx="258.0" cy="109.1" r="0.85"/>
<circle cx="267.5" cy="106.5" r="0.85"/>
<circle cx="279.9" cy="113.6" r="0.85"/>
<circle cx="262.1" cy="108.6" r="0.85"/>
<circle cx="287.8" cy="110.9" r="0.85"/>
<circle cx="279.7" cy="113.1" r="0.85"/>
<circle cx="277.6" cy="111.8" r="0.85"/>
<circle cx="298.0" cy="109.4" r="0.85"/>
<circle cx="296.3" cy="111.5" r="0.85"/>
<circle cx="267.6" cy="105.0" r="0.85"/>
<circle cx="268.2" cy="113.7" r="0.85"/>
<circle cx="270.8" cy="113.2" r="0.85"/>
<circle cx="266.2" cy="106.3" r="0.85"/>
<circle cx="299.0" cy="110.1" r="0.85"/>
<circle cx="286.7" cy="108.2" r="0.85"/>
<circle cx="268.3" cy="104.3" r="0.85"/>
<circle cx="266.0" cy="106.3" r="0.85"/>
<circle cx="294.7" cy="104.9" r="0.85"/>
<circle cx="280.3" cy="113.8" r="0.85"/>
<circle cx="289.0" cy="106.7" r="0.85"/>
<circle cx="278.8" cy="112.1" r="0.85"/>
<circle cx="296.3" cy="105.6" r="0.85"/>
<circle cx="285.5" cy="109.1" r="0.85"/>
<circle cx="301.3" cy="111.7" r="0.85"/>
<circle cx="268.4" cy="111.5" r="0.85"/>
<circle cx="282.3" cy="112.7" r="0.85"/>
<circle cx="290.1" cy="109.4" r="0.85"/>
<circle cx="279.5" cy="113.8" r="0.85"/>
<circle cx="272.2" cy="111.7" r="0.85"/>
<circle cx="292.8" cy="107.3" r="0.85"/>
<circle cx="286.5" cy="112.2" r="0.85"/>
<circle cx="291.7" cy="105.5" r="0.85"/>
<circle cx="282.2" cy="113.0" r="0.85"/>
<circle cx="293.4" cy="110.2" r="0.85"/>
<circle cx="304.9" cy="109.0" r="0.85"/>
<circle cx="290.5" cy="104.4" r="0.85"/>
<circle cx="256.1" cy="113.2" r="0.85"/>
<circle cx="301.5" cy="106.0" r="0.85"/>
<circle cx="283.1" cy="112.5" r="0.85"/>
<circle cx="273.5" cy="109.5" r="0.85"/>
<circle cx="294.3" cy="106.8" r="0.85"/>
<circle cx="280.4" cy="113.7" r="0.85"/>
<circle cx="291.8" cy="109.1" r="0.85"/>
<circle cx="279.5" cy="113.4" r="0.85"/>
<circle cx="287.0" cy="107.6" r="0.85"/>
<circle cx="297.9" cy="109.8" r="0.85"/>
<circle cx="265.2" cy="108.1" r="0.85"/>
<circle cx="268.5" cy="107.8" r="0.85"/>
<circle cx="287.5" cy="109.1" r="0.85"/>
<circle cx="287.3" cy="105.5" r="0.85"/>
<circle cx="304.6" cy="106.1" r="0.85"/>
<circle cx="285.2" cy="112.8" r="0.85"/>
<circle cx="291.1" cy="110.8" r="0.85"/>
<circle cx="262.3" cy="107.1" r="0.85"/>
<circle cx="253.3" cy="105.8" r="0.85"/>
<circle cx="271.0" cy="105.8" r="0.85"/>
<circle cx="297.4" cy="106.3" r="0.85"/>
<circle cx="277.2" cy="111.9" r="0.85"/>
<circle cx="285.8" cy="113.7" r="0.85"/>
<circle cx="280.0" cy="113.5" r="0.85"/>
<circle cx="276.0" cy="113.4" r="0.85"/>
<circle cx="275.1" cy="112.0" r="0.85"/>
<circle cx="264.9" cy="107.8" r="0.85"/>
<circle cx="270.3" cy="107.4" r="0.85"/>
<circle cx="283.4" cy="111.0" r="0.85"/>
<circle cx="295.1" cy="109.5" r="0.85"/>
<circle cx="290.0" cy="105.5" r="0.85"/>
<circle cx="281.4" cy="113.4" r="0.85"/>
<circle cx="262.7" cy="104.7" r="0.85"/>
<circle cx="310.5" cy="105.9" r="0.85"/>
<circle cx="289.1" cy="113.3" r="0.85"/>
<circle cx="282.6" cy="111.1" r="0.85"/>
<circle cx="273.0" cy="108.4" r="0.85"/>
<circle cx="292.1" cy="111.7" r="0.85"/>
<circle cx="277.1" cy="112.1" r="0.85"/>
<circle cx="261.2" cy="110.4" r="0.85"/>
<circle cx="297.6" cy="108.1" r="0.85"/>
<circle cx="290.4" cy="112.8" r="0.85"/>
<circle cx="278.3" cy="111.5" r="0.85"/>
<circle cx="284.3" cy="112.9" r="0.85"/>
<circle cx="289.7" cy="104.4" r="0.85"/>
<circle cx="270.9" cy="110.5" r="0.85"/>
<circle cx="263.2" cy="104.5" r="0.85"/>
<circle cx="266.7" cy="104.4" r="0.85"/>
<circle cx="281.0" cy="113.8" r="0.85"/>
<circle cx="271.7" cy="109.1" r="0.85"/>
<circle cx="289.3" cy="112.1" r="0.85"/>
<circle cx="264.0" cy="108.4" r="0.85"/>
<circle cx="280.3" cy="113.8" r="0.85"/>
<circle cx="279.4" cy="113.8" r="0.85"/>
<circle cx="274.8" cy="109.7" r="0.85"/>
<circle cx="291.0" cy="106.5" r="0.85"/>
<circle cx="264.3" cy="113.3" r="0.85"/>
<circle cx="283.9" cy="109.6" r="0.85"/>
<circle cx="273.3" cy="112.5" r="0.85"/>
<circle cx="276.0" cy="112.8" r="0.85"/>
<circle cx="284.3" cy="113.3" r="0.85"/>
<circle cx="286.9" cy="106.9" r="0.85"/>
<circle cx="281.9" cy="112.2" r="0.85"/>
<circle cx="275.0" cy="110.3" r="0.85"/>
<circle cx="273.8" cy="106.7" r="0.85"/>
<circle cx="265.3" cy="107.9" r="0.85"/>
<circle cx="273.4" cy="110.0" r="0.85"/>
<circle cx="284.7" cy="113.1" r="0.85"/>
<circle cx="292.1" cy="107.1" r="0.85"/>
<circle cx="271.8" cy="110.3" r="0.85"/>
<circle cx="265.2" cy="113.4" r="0.85"/>
<circle cx="295.9" cy="106.2" r="0.85"/>
<circle cx="280.3" cy="113.8" r="0.85"/>
<circle cx="259.0" cy="113.5" r="0.85"/>
<circle cx="297.2" cy="105.5" r="0.85"/>
<circle cx="268.1" cy="105.2" r="0.85"/>
<circle cx="294.7" cy="112.5" r="0.85"/>
<circle cx="306.8" cy="113.3" r="0.85"/>
<circle cx="280.1" cy="113.7" r="0.85"/>
<circle cx="273.5" cy="113.3" r="0.85"/>
<circle cx="277.4" cy="111.0" r="0.85"/>
<circle cx="271.9" cy="107.6" r="0.85"/>
<circle cx="297.3" cy="104.4" r="0.85"/>
<circle cx="279.3" cy="112.7" r="0.85"/>
<circle cx="293.5" cy="111.9" r="0.85"/>
<circle cx="268.5" cy="104.3" r="0.85"/>
<circle cx="275.9" cy="109.8" r="0.85"/>
<circle cx="273.6" cy="106.0" r="0.85"/>
<circle cx="322.5" cy="107.9" r="0.85"/>
<circle cx="275.6" cy="111.5" r="0.85"/>
<circle cx="270.7" cy="109.4" r="0.85"/>
<circle cx="287.5" cy="106.0" r="0.85"/>
<circle cx="287.7" cy="109.7" r="0.85"/>
<circle cx="294.3" cy="110.6" r="0.85"/>
<circle cx="283.5" cy="112.3" r="0.85"/>
<circle cx="285.0" cy="108.3" r="0.85"/>
<circle cx="279.3" cy="113.5" r="0.85"/>
<circle cx="273.2" cy="110.7" r="0.85"/>
<circle cx="264.3" cy="109.6" r="0.85"/>
<circle cx="290.2" cy="105.1" r="0.85"/>
<circle cx="281.9" cy="112.7" r="0.85"/>
<circle cx="293.4" cy="110.5" r="0.85"/>
<circle cx="293.9" cy="109.9" r="0.85"/>
<circle cx="276.4" cy="111.5" r="0.85"/>
<circle cx="251.8" cy="113.5" r="0.85"/>
<circle cx="274.8" cy="109.7" r="0.85"/>
<circle cx="303.6" cy="107.9" r="0.85"/>
<circle cx="278.7" cy="112.7" r="0.85"/>
<circle cx="299.0" cy="104.9" r="0.85"/>
<circle cx="263.9" cy="106.2" r="0.85"/>
<circle cx="267.2" cy="107.7" r="0.85"/>
<circle cx="279.4" cy="113.3" r="0.85"/>
<circle cx="267.6" cy="113.8" r="0.85"/>
<circle cx="289.8" cy="107.2" r="0.85"/>
<circle cx="298.6" cy="105.1" r="0.85"/>
<circle cx="290.3" cy="109.2" r="0.85"/>
<circle cx="281.6" cy="112.7" r="0.85"/>
<circle cx="265.3" cy="111.8" r="0.85"/>
<circle cx="309.1" cy="104.9" r="0.85"/>
<circle cx="282.4" cy="113.5" r="0.85"/>
<circle cx="280.3" cy="113.8" r="0.85"/>
<circle cx="275.2" cy="110.9" r="0.85"/>
<circle cx="290.5" cy="111.2" r="0.85"/>
<circle cx="283.3" cy="111.6" r="0.85"/>
<circle cx="282.7" cy="111.5" r="0.85"/>
<circle cx="281.4" cy="113.0" r="0.85"/>
<circle cx="284.4" cy="113.3" r="0.85"/>
<circle cx="285.4" cy="113.2" r="0.85"/>
<circle cx="299.5" cy="107.9" r="0.85"/>
<circle cx="270.8" cy="106.2" r="0.85"/>
<circle cx="300.4" cy="108.2" r="0.85"/>
<circle cx="291.4" cy="105.5" r="0.85"/>
<circle cx="293.7" cy="108.7" r="0.85"/>
<circle cx="276.8" cy="110.7" r="0.85"/>
<circle cx="288.0" cy="107.6" r="0.85"/>
<circle cx="272.9" cy="105.6" r="0.85"/>
<circle cx="292.9" cy="109.6" r="0.85"/>
<circle cx="303.0" cy="106.9" r="0.85"/>
<circle cx="297.2" cy="104.9" r="0.85"/>
<circle cx="313.9" cy="109.3" r="0.85"/>
<circle cx="282.7" cy="111.1" r="0.85"/>
<circle cx="261.5" cy="109.7" r="0.85"/>
<circle cx="270.3" cy="109.7" r="0.85"/>
<circle cx="290.4" cy="106.7" r="0.85"/>
<circle cx="294.5" cy="111.9" r="0.85"/>
<circle cx="259.9" cy="109.6" r="0.85"/>
<circle cx="280.2" cy="113.8" r="0.85"/>
<circle cx="292.4" cy="110.9" r="0.85"/>
<circle cx="275.3" cy="111.2" r="0.85"/>
<circle cx="285.1" cy="113.3" r="0.85"/>
<circle cx="279.6" cy="113.7" r="0.85"/>
<circle cx="303.7" cy="107.9" r="0.85"/>
<circle cx="283.7" cy="110.5" r="0.85"/>
<circle cx="291.3" cy="113.5" r="0.85"/>
<circle cx="264.2" cy="105.4" r="0.85"/>
<circle cx="261.2" cy="104.6" r="0.85"/>
<circle cx="285.2" cy="110.0" r="0.85"/>
<circle cx="262.1" cy="106.4" r="0.85"/>
<circle cx="294.5" cy="113.5" r="0.85"/>
<circle cx="283.4" cy="113.4" r="0.85"/>
<circle cx="292.5" cy="111.5" r="0.85"/>
<circle cx="266.9" cy="108.7" r="0.85"/>
<circle cx="285.3" cy="108.4" r="0.85"/>
<circle cx="283.8" cy="111.4" r="0.85"/>
<circle cx="308.0" cy="107.6" r="0.85"/>
<circle cx="283.9" cy="111.4" r="0.85"/>
<circle cx="260.0" cy="108.3" r="0.85"/>
<circle cx="275.4" cy="112.3" r="0.85"/>
<circle cx="259.7" cy="105.0" r="0.85"/>
<circle cx="288.1" cy="110.9" r="0.85"/>
<circle cx="282.7" cy="112.0" r="0.85"/>
<circle cx="270.0" cy="110.6" r="0.85"/>
<circle cx="275.9" cy="109.6" r="0.85"/>
<circle cx="297.8" cy="112.4" r="0.85"/>
<circle cx="280.4" cy="113.7" r="0.85"/>
<circle cx="282.5" cy="112.0" r="0.85"/>
<circle cx="261.9" cy="105.5" r="0.85"/>
<circle cx="269.9" cy="104.8" r="0.85"/>
<circle cx="282.8" cy="111.2" r="0.85"/>
<circle cx="262.4" cy="113.6" r="0.85"/>
<circle cx="276.5" cy="112.1" r="0.85"/>
<circle cx="294.4" cy="112.1" r="0.85"/>
<circle cx="302.1" cy="106.0" r="0.85"/>
<circle cx="289.1" cy="105.2" r="0.85"/>
<circle cx="276.7" cy="113.2" r="0.85"/>
<circle cx="293.6" cy="106.7" r="0.85"/>
<circle cx="271.9" cy="109.7" r="0.85"/>
<circle cx="275.8" cy="110.4" r="0.85"/>
<circle cx="269.8" cy="110.4" r="0.85"/>
<circle cx="291.4" cy="108.8" r="0.85"/>
<circle cx="282.9" cy="111.5" r="0.85"/>
<circle cx="283.6" cy="110.0" r="0.85"/>
<circle cx="250.7" cy="106.4" r="0.85"/>
<circle cx="295.2" cy="106.3" r="0.85"/>
<circle cx="292.4" cy="110.2" r="0.85"/>
<circle cx="294.4" cy="104.8" r="0.85"/>
<circle cx="303.8" cy="110.5" r="0.85"/>
<circle cx="282.5" cy="113.6" r="0.85"/>
<circle cx="284.8" cy="109.9" r="0.85"/>
<circle cx="291.5" cy="107.7" r="0.85"/>
<circle cx="270.7" cy="111.3" r="0.85"/>
<circle cx="292.7" cy="105.0" r="0.85"/>
<circle cx="252.1" cy="113.7" r="0.85"/>
<circle cx="282.7" cy="112.0" r="0.85"/>
<circle cx="273.7" cy="108.4" r="0.85"/>
<circle cx="288.8" cy="108.9" r="0.85"/>
<circle cx="308.7" cy="106.1" r="0.85"/>
<circle cx="276.5" cy="111.1" r="0.85"/>
<circle cx="294.2" cy="113.1" r="0.85"/>
<circle cx="280.9" cy="113.2" r="0.85"/>
<circle cx="302.8" cy="104.5" r="0.85"/>
<circle cx="265.4" cy="108.8" r="0.85"/>
<circle cx="289.4" cy="104.3" r="0.85"/>
<circle cx="274.6" cy="108.9" r="0.85"/>
<circle cx="269.1" cy="104.5" r="0.85"/>
<circle cx="276.9" cy="109.8" r="0.85"/>
<circle cx="291.5" cy="104.3" r="0.85"/>
<circle cx="289.8" cy="108.4" r="0.85"/>
<circle cx="271.3" cy="104.7" r="0.85"/>
<circle cx="284.2" cy="110.3" r="0.85"/>
<circle cx="263.0" cy="109.0" r="0.85"/>
<circle cx="287.2" cy="107.8" r="0.85"/>
<circle cx="254.9" cy="108.5" r="0.85"/>
<circle cx="265.4" cy="105.6" r="0.85"/>
<circle cx="272.2" cy="110.8" r="0.85"/>
<circle cx="266.3" cy="113.3" r="0.85"/>
<circle cx="267.8" cy="106.9" r="0.85"/>
<circle cx="288.2" cy="105.2" r="0.85"/>
<circle cx="277.6" cy="112.3" r="0.85"/>
<circle cx="279.2" cy="113.8" r="0.85"/>
<circle cx="268.5" cy="110.6" r="0.85"/>
<circle cx="297.7" cy="104.6" r="0.85"/>
<circle cx="263.7" cy="106.8" r="0.85"/>
<circle cx="310.4" cy="104.4" r="0.85"/>
<circle cx="292.3" cy="106.6" r="0.85"/>
<circle cx="303.2" cy="112.6" r="0.85"/>
<circle cx="297.9" cy="106.0" r="0.85"/>
<circle cx="277.2" cy="111.2" r="0.85"/>
<circle cx="274.4" cy="109.2" r="0.85"/>
<circle cx="253.2" cy="105.9" r="0.85"/>
<circle cx="261.6" cy="105.8" r="0.85"/>
<circle cx="261.0" cy="106.7" r="0.85"/>
<circle cx="285.3" cy="112.0" r="0.85"/>
<circle cx="286.3" cy="111.4" r="0.85"/>
<circle cx="281.0" cy="113.8" r="0.85"/>
<circle cx="281.1" cy="112.9" r="0.85"/>
<circle cx="290.6" cy="104.7" r="0.85"/>
<circle cx="316.5" cy="110.8" r="0.85"/>
<circle cx="272.7" cy="109.2" r="0.85"/>
<circle cx="278.0" cy="111.7" r="0.85"/>
<circle cx="297.1" cy="105.0" r="0.85"/>
<circle cx="289.7" cy="113.3" r="0.85"/>
<circle cx="278.6" cy="111.9" r="0.85"/>
<circle cx="294.9" cy="108.4" r="0.85"/>
<circle cx="277.3" cy="113.6" r="0.85"/>
<circle cx="278.4" cy="111.5" r="0.85"/>
<circle cx="264.4" cy="110.0" r="0.85"/>
<circle cx="269.5" cy="109.6" r="0.85"/>
<circle cx="261.9" cy="112.6" r="0.85"/>
<circle cx="276.2" cy="109.5" r="0.85"/>
<circle cx="272.9" cy="105.0" r="0.85"/>
<circle cx="264.5" cy="105.8" r="0.85"/>
<circle cx="281.7" cy="113.2" r="0.85"/>
<circle cx="290.0" cy="107.3" r="0.85"/>
<circle cx="308.0" cy="110.6" r="0.85"/>
<circle cx="283.9" cy="110.6" r="0.85"/>
<circle cx="277.5" cy="110.5" r="0.85"/>
<circle cx="284.8" cy="113.2" r="0.85"/>
<circle cx="271.0" cy="104.6" r="0.85"/>
<circle cx="263.8" cy="104.3" r="0.85"/>
<circle cx="278.0" cy="112.6" r="0.85"/>
<circle cx="280.9" cy="113.4" r="0.85"/>
<circle cx="279.4" cy="113.1" r="0.85"/>
<circle cx="281.3" cy="113.1" r="0.85"/>
<circle cx="294.7" cy="109.4" r="0.85"/>
<circle cx="261.2" cy="110.0" r="0.85"/>
<circle cx="292.6" cy="113.7" r="0.85"/>
<circle cx="281.2" cy="113.0" r="0.85"/>
<circle cx="278.0" cy="111.9" r="0.85"/>
<circle cx="274.5" cy="110.4" r="0.85"/>
<circle cx="291.9" cy="111.9" r="0.85"/>
<circle cx="270.6" cy="106.3" r="0.85"/>
<circle cx="278.4" cy="113.1" r="0.85"/>
<circle cx="263.4" cy="108.5" r="0.85"/>
<circle cx="281.5" cy="112.7" r="0.85"/>
<circle cx="274.8" cy="109.2" r="0.85"/>
<circle cx="305.2" cy="112.2" r="0.85"/>
<circle cx="280.0" cy="113.7" r="0.85"/>
<circle cx="275.6" cy="108.3" r="0.85"/>
<circle cx="281.6" cy="113.1" r="0.85"/>
<circle cx="272.3" cy="105.0" r="0.85"/>
<circle cx="296.6" cy="113.6" r="0.85"/>
<circle cx="277.0" cy="110.0" r="0.85"/>
<circle cx="275.1" cy="108.9" r="0.85"/>
<circle cx="270.9" cy="106.4" r="0.85"/>
<circle cx="264.9" cy="105.3" r="0.85"/>
<circle cx="254.4" cy="111.7" r="0.85"/>
<circle cx="295.8" cy="104.7" r="0.85"/>
<circle cx="290.1" cy="112.6" r="0.85"/>
<circle cx="276.8" cy="112.7" r="0.85"/>
<circle cx="263.7" cy="112.4" r="0.85"/>
<circle cx="287.1" cy="105.8" r="0.85"/>
<circle cx="265.5" cy="104.4" r="0.85"/>
<circle cx="249.1" cy="110.5" r="0.85"/>
<circle cx="275.1" cy="111.8" r="0.85"/>
<circle cx="282.8" cy="112.1" r="0.85"/>
<circle cx="262.2" cy="106.1" r="0.85"/>
<circle cx="290.2" cy="110.3" r="0.85"/>
<circle cx="272.0" cy="104.3" r="0.85"/>
<circle cx="302.8" cy="108.2" r="0.85"/>
<circle cx="275.0" cy="108.1" r="0.85"/>
<circle cx="298.5" cy="113.3" r="0.85"/>
<circle cx="286.1" cy="107.9" r="0.85"/>
<circle cx="281.7" cy="112.8" r="0.85"/>
<circle cx="288.0" cy="107.2" r="0.85"/>
<circle cx="291.8" cy="108.7" r="0.85"/>
<circle cx="276.7" cy="109.5" r="0.85"/>
<circle cx="262.4" cy="111.6" r="0.85"/>
<circle cx="270.2" cy="111.5" r="0.85"/>
<circle cx="310.5" cy="108.6" r="0.85"/>
<circle cx="274.0" cy="108.4" r="0.85"/>
<circle cx="284.7" cy="108.7" r="0.85"/>
<circle cx="277.5" cy="112.6" r="0.85"/>
<circle cx="291.6" cy="107.5" r="0.85"/>
<circle cx="286.7" cy="110.6" r="0.85"/>
<circle cx="294.4" cy="107.6" r="0.85"/>
<circle cx="290.1" cy="111.3" r="0.85"/>
<circle cx="284.9" cy="112.4" r="0.85"/>
<circle cx="271.0" cy="108.7" r="0.85"/>
<circle cx="258.9" cy="105.6" r="0.85"/>
<circle cx="275.3" cy="110.2" r="0.85"/>
<circle cx="276.9" cy="112.3" r="0.85"/>
<circle cx="297.6" cy="104.4" r="0.85"/>
<circle cx="303.9" cy="105.4" r="0.85"/>
<circle cx="302.6" cy="113.6" r="0.85"/>
<circle cx="291.0" cy="111.8" r="0.85"/>
<circle cx="299.9" cy="104.9" r="0.85"/>
<circle cx="302.0" cy="107.9" r="0.85"/>
<circle cx="292.8" cy="109.6" r="0.85"/>
<circle cx="285.1" cy="111.3" r="0.85"/>
<circle cx="285.9" cy="108.3" r="0.85"/>
<circle cx="288.0" cy="108.3" r="0.85"/>
<circle cx="289.3" cy="112.2" r="0.85"/>
<circle cx="269.8" cy="112.7" r="0.85"/>
<circle cx="257.4" cy="106.1" r="0.85"/>
<circle cx="283.0" cy="112.9" r="0.85"/>
<circle cx="292.8" cy="113.6" r="0.85"/>
<circle cx="276.7" cy="109.6" r="0.85"/>
<circle cx="294.6" cy="105.4" r="0.85"/>
<circle cx="290.1" cy="104.5" r="0.85"/>
<circle cx="275.2" cy="113.4" r="0.85"/>
<circle cx="272.5" cy="104.8" r="0.85"/>
<circle cx="280.0" cy="113.5" r="0.85"/>
<circle cx="258.1" cy="109.4" r="0.85"/>
<circle cx="293.0" cy="104.5" r="0.85"/>
<circle cx="284.7" cy="109.0" r="0.85"/>
<circle cx="262.8" cy="104.5" r="0.85"/>
<circle cx="284.4" cy="109.3" r="0.85"/>
<circle cx="284.2" cy="111.0" r="0.85"/>
<circle cx="292.1" cy="106.0" r="0.85"/>
<circle cx="267.2" cy="108.2" r="0.85"/>
<circle cx="268.4" cy="105.4" r="0.85"/>
<circle cx="264.7" cy="111.9" r="0.85"/>
<circle cx="297.7" cy="104.4" r="0.85"/>
<circle cx="273.8" cy="108.5" r="0.85"/>
<circle cx="288.9" cy="104.3" r="0.85"/>
<circle cx="276.3" cy="112.7" r="0.85"/>
<circle cx="285.8" cy="110.4" r="0.85"/>
<circle cx="274.5" cy="110.6" r="0.85"/>
<circle cx="299.9" cy="109.2" r="0.85"/>
<circle cx="268.2" cy="110.9" r="0.85"/>
<circle cx="278.9" cy="113.6" r="0.85"/>
<circle cx="308.2" cy="113.2" r="0.85"/>
<circle cx="271.0" cy="106.3" r="0.85"/>
<circle cx="275.0" cy="107.6" r="0.85"/>
<circle cx="272.4" cy="111.2" r="0.85"/>
<circle cx="273.7" cy="111.4" r="0.85"/>
<circle cx="278.4" cy="111.9" r="0.85"/>
<circle cx="293.3" cy="104.4" r="0.85"/>
<circle cx="254.5" cy="106.5" r="0.85"/>
<circle cx="260.6" cy="108.8" r="0.85"/>
<circle cx="280.7" cy="113.5" r="0.85"/>
<circle cx="300.2" cy="104.3" r="0.85"/>
<circle cx="270.4" cy="108.6" r="0.85"/>
<circle cx="291.3" cy="109.2" r="0.85"/>
<circle cx="260.6" cy="108.7" r="0.85"/>
<circle cx="273.5" cy="106.2" r="0.85"/>
<circle cx="253.4" cy="108.9" r="0.85"/>
<circle cx="291.0" cy="107.7" r="0.85"/>
<circle cx="291.0" cy="105.7" r="0.85"/>
<circle cx="302.3" cy="105.5" r="0.85"/>
<circle cx="282.3" cy="111.7" r="0.85"/>
<circle cx="285.6" cy="110.8" r="0.85"/>
<circle cx="269.1" cy="106.2" r="0.85"/>
<circle cx="269.1" cy="110.1" r="0.85"/>
<circle cx="285.2" cy="113.6" r="0.85"/>
<circle cx="302.3" cy="108.6" r="0.85"/>
<circle cx="281.6" cy="112.8" r="0.85"/>
<circle cx="268.9" cy="106.9" r="0.85"/>
<circle cx="293.9" cy="109.1" r="0.85"/>
<circle cx="311.9" cy="107.0" r="0.85"/>
<circle cx="282.5" cy="112.9" r="0.85"/>
<circle cx="281.6" cy="113.4" r="0.85"/>
<circle cx="259.3" cy="108.6" r="0.85"/>
<circle cx="289.2" cy="108.7" r="0.85"/>
<circle cx="297.8" cy="109.7" r="0.85"/>
<circle cx="291.5" cy="109.2" r="0.85"/>
<circle cx="288.6" cy="105.2" r="0.85"/>
<circle cx="294.7" cy="112.1" r="0.85"/>
<circle cx="278.3" cy="113.8" r="0.85"/>
<circle cx="272.1" cy="112.1" r="0.85"/>
<circle cx="318.5" cy="109.6" r="0.85"/>
<circle cx="281.7" cy="112.3" r="0.85"/>
<circle cx="271.1" cy="112.7" r="0.85"/>
<circle cx="292.1" cy="107.8" r="0.85"/>
<circle cx="272.3" cy="113.2" r="0.85"/>
<circle cx="271.3" cy="112.2" r="0.85"/>
<circle cx="273.9" cy="110.5" r="0.85"/>
<circle cx="268.9" cy="105.7" r="0.85"/>
<circle cx="281.2" cy="113.1" r="0.85"/>
<circle cx="271.4" cy="107.9" r="0.85"/>
<circle cx="273.7" cy="107.5" r="0.85"/>
<circle cx="283.4" cy="111.0" r="0.85"/>
<circle cx="276.9" cy="110.4" r="0.85"/>
<circle cx="265.8" cy="111.3" r="0.85"/>
<circle cx="290.5" cy="108.9" r="0.85"/>
<circle cx="269.4" cy="108.6" r="0.85"/>
<circle cx="248.8" cy="113.6" r="0.85"/>
<circle cx="267.7" cy="104.5" r="0.85"/>
<circle cx="284.9" cy="108.9" r="0.85"/>
<circle cx="270.2" cy="111.9" r="0.85"/>
<circle cx="288.6" cy="104.5" r="0.85"/>
<circle cx="281.3" cy="113.1" r="0.85"/>
<circle cx="300.0" cy="108.2" r="0.85"/>
<circle cx="276.4" cy="110.7" r="0.85"/>
<circle cx="281.1" cy="112.9" r="0.85"/>
<circle cx="293.7" cy="109.2" r="0.85"/>
<circle cx="285.3" cy="112.2" r="0.85"/>
<circle cx="295.7" cy="104.7" r="0.85"/>
<circle cx="280.8" cy="113.6" r="0.85"/>
<circle cx="289.2" cy="110.1" r="0.85"/>
<circle cx="260.5" cy="110.6" r="0.85"/>
<circle cx="268.4" cy="109.5" r="0.85"/>
<circle cx="271.6" cy="109.7" r="0.85"/>
<circle cx="279.8" cy="113.2" r="0.85"/>
<circle cx="295.3" cy="105.9" r="0.85"/>
<circle cx="289.1" cy="109.5" r="0.85"/>
<circle cx="292.9" cy="107.9" r="0.85"/>
<circle cx="297.0" cy="108.5" r="0.85"/>
<circle cx="272.6" cy="111.5" r="0.85"/>
<circle cx="255.0" cy="104.9" r="0.85"/>
<circle cx="271.4" cy="106.1" r="0.85"/>
<circle cx="279.9" cy="113.6" r="0.85"/>
<circle cx="293.7" cy="111.0" r="0.85"/>
<circle cx="274.5" cy="113.1" r="0.85"/>
<circle cx="284.5" cy="109.9" r="0.85"/>
<circle cx="267.4" cy="111.1" r="0.85"/>
<circle cx="278.3" cy="112.3" r="0.85"/>
<circle cx="272.5" cy="111.5" r="0.85"/>
<circle cx="279.7" cy="113.2" r="0.85"/>
<circle cx="268.2" cy="107.4" r="0.85"/>
<circle cx="271.8" cy="108.5" r="0.85"/>
<circle cx="293.1" cy="106.2" r="0.85"/>
<circle cx="290.2" cy="109.2" r="0.85"/>
<circle cx="279.7" cy="113.2" r="0.85"/>
<circle cx="272.2" cy="104.9" r="0.85"/>
<circle cx="310.2" cy="110.3" r="0.85"/>
<circle cx="285.0" cy="112.0" r="0.85"/>
<circle cx="278.1" cy="113.6" r="0.85"/>
<circle cx="276.7" cy="112.6" r="0.85"/>
<circle cx="281.4" cy="113.5" r="0.85"/>
<circle cx="270.2" cy="108.4" r="0.85"/>
<circle cx="282.4" cy="112.4" r="0.85"/>
<circle cx="285.1" cy="110.2" r="0.85"/>
<circle cx="268.6" cy="107.3" r="0.85"/>
<circle cx="266.8" cy="108.7" r="0.85"/>
<circle cx="309.9" cy="106.4" r="0.85"/>
<circle cx="252.6" cy="105.8" r="0.85"/>
<circle cx="296.6" cy="109.3" r="0.85"/>
<circle cx="292.5" cy="109.2" r="0.85"/>
<circle cx="271.0" cy="110.2" r="0.85"/>
<circle cx="284.7" cy="112.1" r="0.85"/>
<circle cx="274.4" cy="110.7" r="0.85"/>
<circle cx="294.2" cy="106.5" r="0.85"/>
<circle cx="288.4" cy="109.5" r="0.85"/>
<circle cx="273.3" cy="110.3" r="0.85"/>
<circle cx="270.5" cy="108.3" r="0.85"/>
<circle cx="279.0" cy="112.8" r="0.85"/>
<circle cx="281.8" cy="113.6" r="0.85"/>
<circle cx="310.8" cy="111.1" r="0.85"/>
<circle cx="284.1" cy="113.4" r="0.85"/>
<circle cx="276.7" cy="112.9" r="0.85"/>
<circle cx="284.7" cy="108.9" r="0.85"/>
<circle cx="272.8" cy="108.5" r="0.85"/>
<circle cx="285.0" cy="108.7" r="0.85"/>
<circle cx="269.8" cy="104.5" r="0.85"/>
<circle cx="264.2" cy="109.8" r="0.85"/>
<circle cx="271.3" cy="106.9" r="0.85"/>
<circle cx="268.6" cy="108.7" r="0.85"/>
<circle cx="252.2" cy="113.1" r="0.85"/>
<circle cx="260.1" cy="105.5" r="0.85"/>
<circle cx="281.8" cy="112.8" r="0.85"/>
<circle cx="260.8" cy="107.8" r="0.85"/>
<circle cx="267.7" cy="105.1" r="0.85"/>
<circle cx="283.0" cy="110.8" r="0.85"/>
<circle cx="297.0" cy="110.0" r="0.85"/>
<circle cx="283.2" cy="111.7" r="0.85"/>
<circle cx="274.1" cy="111.2" r="0.85"/>
<circle cx="270.7" cy="111.5" r="0.85"/>
<circle cx="300.4" cy="110.6" r="0.85"/>
<circle cx="274.0" cy="108.5" r="0.85"/>
<circle cx="271.3" cy="105.1" r="0.85"/>
<circle cx="289.0" cy="104.7" r="0.85"/>
<circle cx="284.0" cy="111.9" r="0.85"/>
<circle cx="267.9" cy="105.4" r="0.85"/>
<circle cx="273.0" cy="105.7" r="0.85"/>
<circle cx="275.9" cy="109.8" r="0.85"/>
<circle cx="277.4" cy="110.4" r="0.85"/>
<circle cx="280.4" cy="113.7" r="0.85"/>
<circle cx="274.8" cy="109.7" r="0.85"/>
<circle cx="292.6" cy="109.4" r="0.85"/>
<circle cx="296.7" cy="113.3" r="0.85"/>
<circle cx="269.8" cy="113.3" r="0.85"/>
<circle cx="283.8" cy="110.3" r="0.85"/>
<circle cx="260.1" cy="113.0" r="0.85"/>
<circle cx="275.8" cy="112.0" r="0.85"/>
<circle cx="259.0" cy="104.4" r="0.85"/>
<circle cx="280.9" cy="113.2" r="0.85"/>
<circle cx="285.0" cy="108.3" r="0.85"/>
<circle cx="290.7" cy="110.9" r="0.85"/>
<circle cx="283.6" cy="113.5" r="0.85"/>
<circle cx="285.5" cy="110.1" r="0.85"/>
<circle cx="273.2" cy="109.0" r="0.85"/>
<circle cx="303.6" cy="104.3" r="0.85"/>
<circle cx="286.2" cy="113.1" r="0.85"/>
<circle cx="267.9" cy="108.5" r="0.85"/>
<circle cx="283.4" cy="110.4" r="0.85"/>
<circle cx="284.8" cy="110.9" r="0.85"/>
<circle cx="278.3" cy="111.6" r="0.85"/>
<circle cx="261.6" cy="107.6" r="0.85"/>
<circle cx="278.5" cy="111.8" r="0.85"/>
<circle cx="276.6" cy="111.7" r="0.85"/>
<circle cx="274.8" cy="108.6" r="0.85"/>
<circle cx="303.9" cy="104.3" r="0.85"/>
<circle cx="283.8" cy="110.1" r="0.85"/>
<circle cx="281.7" cy="113.7" r="0.85"/>
<circle cx="260.0" cy="107.5" r="0.85"/>
<circle cx="275.2" cy="109.6" r="0.85"/>
<circle cx="273.0" cy="106.3" r="0.85"/>
<circle cx="269.9" cy="107.4" r="0.85"/>
<circle cx="275.7" cy="111.9" r="0.85"/>
<circle cx="279.5" cy="113.2" r="0.85"/>
<circle cx="299.3" cy="106.4" r="0.85"/>
<circle cx="279.6" cy="113.5" r="0.85"/>
<circle cx="261.9" cy="107.8" r="0.85"/>
<circle cx="294.5" cy="108.7" r="0.85"/>
<circle cx="277.3" cy="112.4" r="0.85"/>
<circle cx="263.1" cy="108.0" r="0.85"/>
<circle cx="272.9" cy="111.5" r="0.85"/>
<circle cx="284.9" cy="108.4" r="0.85"/>
<circle cx="260.7" cy="105.3" r="0.85"/>
<circle cx="263.0" cy="112.1" r="0.85"/>
<circle cx="264.9" cy="106.0" r="0.85"/>
<circle cx="279.5" cy="112.9" r="0.85"/>
<circle cx="299.6" cy="105.8" r="0.85"/>
<circle cx="285.4" cy="111.2" r="0.85"/>
<circle cx="249.7" cy="110.8" r="0.85"/>
<circle cx="288.9" cy="110.9" r="0.85"/>
<circle cx="300.7" cy="108.1" r="0.85"/>
<circle cx="289.9" cy="110.8" r="0.85"/>
<circle cx="291.5" cy="109.6" r="0.85"/>
<circle cx="302.4" cy="106.8" r="0.85"/>
<circle cx="279.6" cy="113.2" r="0.85"/>
<circle cx="273.6" cy="108.8" r="0.85"/>
<circle cx="281.0" cy="113.1" r="0.85"/>
<circle cx="286.0" cy="112.4" r="0.85"/>
<circle cx="280.3" cy="113.8" r="0.85"/>
<circle cx="278.4" cy="113.7" r="0.85"/>
<circle cx="292.3" cy="111.2" r="0.85"/>
<circle cx="299.4" cy="112.0" r="0.85"/>
<circle cx="310.1" cy="104.6" r="0.85"/>
<circle cx="274.7" cy="109.5" r="0.85"/>
<circle cx="291.8" cy="113.5" r="0.85"/>
<circle cx="259.9" cy="107.6" r="0.85"/>
<circle cx="264.4" cy="113.1" r="0.85"/>
<circle cx="261.7" cy="112.5" r="0.85"/>
<circle cx="289.5" cy="109.2" r="0.85"/>
<circle cx="271.4" cy="113.3" r="0.85"/>
<circle cx="259.5" cy="109.9" r="0.85"/>
<circle cx="272.3" cy="105.7" r="0.85"/>
<circle cx="278.3" cy="112.5" r="0.85"/>
<circle cx="293.3" cy="104.5" r="0.85"/>
<circle cx="285.7" cy="108.8" r="0.85"/>
<circle cx="277.3" cy="113.0" r="0.85"/>
<circle cx="295.5" cy="104.3" r="0.85"/>
<circle cx="276.0" cy="111.4" r="0.85"/>
<circle cx="281.6" cy="112.9" r="0.85"/>
<circle cx="296.4" cy="106.3" r="0.85"/>
<circle cx="287.9" cy="105.6" r="0.85"/>
<circle cx="267.1" cy="110.0" r="0.85"/>
<circle cx="281.7" cy="113.0" r="0.85"/>
<circle cx="279.1" cy="113.1" r="0.85"/>
<circle cx="303.2" cy="106.2" r="0.85"/>
<circle cx="250.3" cy="110.4" r="0.85"/>
<circle cx="274.4" cy="110.6" r="0.85"/>
<circle cx="286.3" cy="110.8" r="0.85"/>
<circle cx="286.5" cy="113.1" r="0.85"/>
<circle cx="286.2" cy="108.4" r="0.85"/>
<circle cx="264.3" cy="104.8" r="0.85"/>
<circle cx="288.4" cy="113.6" r="0.85"/>
<circle cx="271.9" cy="111.1" r="0.85"/>
<circle cx="290.9" cy="109.7" r="0.85"/>
<circle cx="310.9" cy="110.0" r="0.85"/>
<circle cx="285.0" cy="108.4" r="0.85"/>
<circle cx="301.2" cy="105.1" r="0.85"/>
<circle cx="292.9" cy="104.7" r="0.85"/>
<circle cx="283.1" cy="111.7" r="0.85"/>
<circle cx="264.0" cy="105.2" r="0.85"/>
<circle cx="283.9" cy="110.4" r="0.85"/>
<circle cx="284.8" cy="113.5" r="0.85"/>
<circle cx="280.7" cy="113.8" r="0.85"/>
<circle cx="273.3" cy="109.7" r="0.85"/>
<circle cx="268.2" cy="105.0" r="0.85"/>
<circle cx="273.2" cy="107.7" r="0.85"/>
<circle cx="265.1" cy="106.7" r="0.85"/>
<circle cx="297.9" cy="107.7" r="0.85"/>
<circle cx="272.3" cy="108.3" r="0.85"/>
<circle cx="287.1" cy="109.3" r="0.85"/>
<circle cx="283.5" cy="111.9" r="0.85"/>
<circle cx="272.2" cy="111.9" r="0.85"/>
<circle cx="300.3" cy="105.2" r="0.85"/>
<circle cx="275.3" cy="113.1" r="0.85"/>
<circle cx="299.2" cy="107.3" r="0.85"/>
<circle cx="294.0" cy="112.0" r="0.85"/>
<circle cx="287.0" cy="109.5" r="0.85"/>
<circle cx="275.4" cy="111.0" r="0.85"/>
<circle cx="274.4" cy="106.8" r="0.85"/>
<circle cx="270.8" cy="105.6" r="0.85"/>
<circle cx="273.4" cy="110.1" r="0.85"/>
<circle cx="297.8" cy="105.7" r="0.85"/>
<circle cx="280.7" cy="113.5" r="0.85"/>
<circle cx="286.1" cy="112.7" r="0.85"/>
<circle cx="287.8" cy="108.2" r="0.85"/>
<circle cx="278.3" cy="112.1" r="0.85"/>
<circle cx="272.6" cy="106.2" r="0.85"/>
<circle cx="289.4" cy="107.6" r="0.85"/>
<circle cx="270.3" cy="105.3" r="0.85"/>
<circle cx="281.5" cy="113.5" r="0.85"/>
<circle cx="266.3" cy="110.4" r="0.85"/>
<circle cx="298.8" cy="110.4" r="0.85"/>
<circle cx="287.0" cy="111.0" r="0.85"/>
<circle cx="293.1" cy="108.1" r="0.85"/>
<circle cx="287.1" cy="108.0" r="0.85"/>
<circle cx="262.8" cy="110.7" r="0.85"/>
<circle cx="269.0" cy="109.8" r="0.85"/>
<circle cx="273.3" cy="108.9" r="0.85"/>
<circle cx="272.0" cy="104.3" r="0.85"/>
<circle cx="300.6" cy="109.4" r="0.85"/>
<circle cx="263.7" cy="104.8" r="0.85"/>
<circle cx="293.0" cy="113.5" r="0.85"/>
<circle cx="296.4" cy="109.3" r="0.85"/>
<circle cx="290.8" cy="108.2" r="0.85"/>
<circle cx="308.4" cy="111.5" r="0.85"/>
<circle cx="278.4" cy="113.3" r="0.85"/>
<circle cx="285.6" cy="108.4" r="0.85"/>
<circle cx="280.2" cy="113.7" r="0.85"/>
<circle cx="282.7" cy="111.8" r="0.85"/>
<circle cx="296.1" cy="112.5" r="0.85"/>
<circle cx="285.7" cy="111.9" r="0.85"/>
<circle cx="277.5" cy="112.8" r="0.85"/>
<circle cx="277.1" cy="110.8" r="0.85"/>
<circle cx="291.7" cy="112.9" r="0.85"/>
<circle cx="264.4" cy="106.9" r="0.85"/>
<circle cx="264.1" cy="104.7" r="0.85"/>
<circle cx="285.3" cy="109.2" r="0.85"/>
<circle cx="289.8" cy="104.7" r="0.85"/>
<circle cx="270.3" cy="108.3" r="0.85"/>
<circle cx="256.9" cy="108.5" r="0.85"/>
<circle cx="281.4" cy="112.8" r="0.85"/>
<circle cx="277.5" cy="112.7" r="0.85"/>
<circle cx="282.0" cy="112.9" r="0.85"/>
<circle cx="287.8" cy="108.1" r="0.85"/>
<circle cx="278.0" cy="112.3" r="0.85"/>
<circle cx="277.9" cy="112.4" r="0.85"/>
<circle cx="276.5" cy="113.4" r="0.85"/>
<circle cx="290.5" cy="106.5" r="0.85"/>
<circle cx="286.8" cy="106.4" r="0.85"/>
<circle cx="259.3" cy="112.6" r="0.85"/>
<circle cx="253.1" cy="111.9" r="0.85"/>
<circle cx="264.7" cy="104.7" r="0.85"/>
<circle cx="269.2" cy="107.5" r="0.85"/>
<circle cx="295.6" cy="110.2" r="0.85"/>
<circle cx="289.4" cy="104.3" r="0.85"/>
<circle cx="285.8" cy="110.1" r="0.85"/>
<circle cx="275.6" cy="112.2" r="0.85"/>
<circle cx="278.8" cy="112.2" r="0.85"/>
<circle cx="273.5" cy="106.1" r="0.85"/>
<circle cx="277.3" cy="112.3" r="0.85"/>
<circle cx="295.2" cy="110.6" r="0.85"/>
<circle cx="274.7" cy="111.4" r="0.85"/>
<circle cx="288.0" cy="105.8" r="0.85"/>
<circle cx="292.9" cy="109.3" r="0.85"/>
<circle cx="271.0" cy="110.5" r="0.85"/>
<circle cx="275.1" cy="109.8" r="0.85"/>
<circle cx="280.1" cy="113.6" r="0.85"/>
<circle cx="291.8" cy="104.4" r="0.85"/>
<circle cx="281.1" cy="113.6" r="0.85"/>
<circle cx="291.1" cy="112.4" r="0.85"/>
<circle cx="286.3" cy="109.6" r="0.85"/>
<circle cx="286.9" cy="107.2" r="0.85"/>
<circle cx="282.0" cy="112.3" r="0.85"/>
<circle cx="278.3" cy="111.4" r="0.85"/>
<circle cx="276.0" cy="112.7" r="0.85"/>
<circle cx="286.2" cy="107.6" r="0.85"/>
<circle cx="284.2" cy="109.8" r="0.85"/>
<circle cx="274.8" cy="113.8" r="0.85"/>
<circle cx="275.3" cy="113.6" r="0.85"/>
<circle cx="258.2" cy="105.6" r="0.85"/>
<circle cx="296.9" cy="112.1" r="0.85"/>
<circle cx="285.5" cy="108.7" r="0.85"/>
<circle cx="282.3" cy="111.5" r="0.85"/>
<circle cx="304.2" cy="107.5" r="0.85"/>
<circle cx="274.0" cy="113.2" r="0.85"/>
<circle cx="273.2" cy="108.7" r="0.85"/>
<circle cx="303.1" cy="112.8" r="0.85"/>
<circle cx="287.4" cy="112.3" r="0.85"/>
<circle cx="268.3" cy="106.4" r="0.85"/>
<circle cx="293.7" cy="113.4" r="0.85"/>
<circle cx="284.4" cy="111.5" r="0.85"/>
<circle cx="290.3" cy="111.0" r="0.85"/>
<circle cx="284.4" cy="110.6" r="0.85"/>
<circle cx="273.9" cy="109.8" r="0.85"/>
<circle cx="276.9" cy="112.2" r="0.85"/>
<circle cx="290.9" cy="113.0" r="0.85"/>
<circle cx="279.7" cy="113.4" r="0.85"/>
<circle cx="292.1" cy="112.6" r="0.85"/>
<circle cx="302.9" cy="104.6" r="0.85"/>
<circle cx="265.2" cy="108.4" r="0.85"/>
<circle cx="299.6" cy="106.4" r="0.85"/>
<circle cx="290.1" cy="113.1" r="0.85"/>
<circle cx="277.6" cy="113.4" r="0.85"/>
<circle cx="271.0" cy="107.0" r="0.85"/>
<circle cx="272.9" cy="113.0" r="0.85"/>
<circle cx="293.2" cy="107.0" r="0.85"/>
<circle cx="246.9" cy="111.9" r="0.85"/>
<circle cx="288.2" cy="106.3" r="0.85"/>
<circle cx="257.1" cy="105.7" r="0.85"/>
<circle cx="280.5" cy="113.6" r="0.85"/>
<circle cx="279.8" cy="113.4" r="0.85"/>
<circle cx="274.3" cy="112.9" r="0.85"/>
<circle cx="273.1" cy="109.1" r="0.85"/>
<circle cx="287.7" cy="113.2" r="0.85"/>
<circle cx="270.5" cy="104.4" r="0.85"/>
<circle cx="269.3" cy="109.3" r="0.85"/>
<circle cx="263.8" cy="112.7" r="0.85"/>
<circle cx="280.8" cy="113.3" r="0.85"/>
<circle cx="283.6" cy="111.2" r="0.85"/>
<circle cx="268.7" cy="110.9" r="0.85"/>
<circle cx="294.9" cy="110.5" r="0.85"/>
<circle cx="290.3" cy="110.4" r="0.85"/>
<circle cx="275.7" cy="110.9" r="0.85"/>
<circle cx="275.8" cy="110.4" r="0.85"/>
<circle cx="297.1" cy="111.2" r="0.85"/>
<circle cx="284.3" cy="111.6" r="0.85"/>
<circle cx="281.0" cy="113.4" r="0.85"/>
<circle cx="286.7" cy="107.9" r="0.85"/>
<circle cx="256.4" cy="107.0" r="0.85"/>
<circle cx="265.2" cy="104.8" r="0.85"/>
<circle cx="267.9" cy="104.7" r="0.85"/>
<circle cx="265.2" cy="105.7" r="0.85"/>
<circle cx="266.6" cy="112.7" r="0.85"/>
<circle cx="265.4" cy="105.5" r="0.85"/>
<circle cx="291.1" cy="109.3" r="0.85"/>
<circle cx="288.1" cy="112.1" r="0.85"/>
<circle cx="265.1" cy="110.6" r="0.85"/>
<circle cx="300.0" cy="109.8" r="0.85"/>
<circle cx="293.2" cy="110.2" r="0.85"/>
<circle cx="282.7" cy="113.8" r="0.85"/>
<circle cx="262.2" cy="109.4" r="0.85"/>
<circle cx="268.8" cy="106.0" r="0.85"/>
<circle cx="277.7" cy="110.9" r="0.85"/>
<circle cx="289.9" cy="108.2" r="0.85"/>
<circle cx="304.4" cy="110.7" r="0.85"/>
<circle cx="278.8" cy="112.7" r="0.85"/>
<circle cx="297.0" cy="104.8" r="0.85"/>
<circle cx="282.1" cy="112.2" r="0.85"/>
<circle cx="270.7" cy="104.9" r="0.85"/>
<circle cx="281.8" cy="112.0" r="0.85"/>
<circle cx="286.7" cy="112.6" r="0.85"/>
<circle cx="276.4" cy="109.6" r="0.85"/>
<circle cx="259.1" cy="110.8" r="0.85"/>
<circle cx="251.5" cy="105.2" r="0.85"/>
<circle cx="303.4" cy="107.1" r="0.85"/>
<circle cx="276.0" cy="111.2" r="0.85"/>
<circle cx="296.6" cy="107.6" r="0.85"/>
<circle cx="272.6" cy="107.3" r="0.85"/>
<circle cx="248.1" cy="110.3" r="0.85"/>
<circle cx="283.8" cy="113.8" r="0.85"/>
<circle cx="293.9" cy="113.7" r="0.85"/>
<circle cx="274.6" cy="108.5" r="0.85"/>
<circle cx="284.4" cy="110.6" r="0.85"/>
<circle cx="300.2" cy="112.7" r="0.85"/>
<circle cx="277.1" cy="111.0" r="0.85"/>
<circle cx="294.0" cy="105.5" r="0.85"/>
<circle cx="258.0" cy="110.0" r="0.85"/>
<circle cx="276.0" cy="109.6" r="0.85"/>
<circle cx="282.2" cy="112.0" r="0.85"/>
<circle cx="283.2" cy="113.2" r="0.85"/>
<circle cx="280.7" cy="113.6" r="0.85"/>
<circle cx="272.0" cy="105.1" r="0.85"/>
<circle cx="288.4" cy="104.8" r="0.85"/>
<circle cx="275.0" cy="111.5" r="0.85"/>
<circle cx="270.8" cy="105.7" r="0.85"/>
<circle cx="287.3" cy="113.5" r="0.85"/>
<circle cx="270.3" cy="113.6" r="0.85"/>
<circle cx="274.7" cy="110.5" r="0.85"/>
<circle cx="304.6" cy="111.4" r="0.85"/>
<circle cx="290.9" cy="105.2" r="0.85"/>
<circle cx="283.5" cy="110.0" r="0.85"/>
<circle cx="305.6" cy="107.0" r="0.85"/>
<circle cx="295.9" cy="110.7" r="0.85"/>
<circle cx="282.4" cy="112.3" r="0.85"/>
<circle cx="260.0" cy="107.7" r="0.85"/>
<circle cx="260.3" cy="108.3" r="0.85"/>
<circle cx="273.1" cy="108.0" r="0.85"/>
<circle cx="282.9" cy="113.6" r="0.85"/>
<circle cx="287.4" cy="112.5" r="0.85"/>
<circle cx="301.3" cy="110.8" r="0.85"/>
<circle cx="275.6" cy="113.5" r="0.85"/>
<circle cx="260.6" cy="109.5" r="0.85"/>
<circle cx="280.1" cy="113.7" r="0.85"/>
<circle cx="261.4" cy="111.8" r="0.85"/>
<circle cx="289.4" cy="105.9" r="0.85"/>
<circle cx="295.9" cy="113.4" r="0.85"/>
<circle cx="276.4" cy="109.9" r="0.85"/>
<circle cx="273.1" cy="105.6" r="0.85"/>
<circle cx="280.2" cy="113.7" r="0.85"/>
<circle cx="285.2" cy="108.6" r="0.85"/>
<circle cx="273.2" cy="108.7" r="0.85"/>
<circle cx="265.2" cy="110.0" r="0.85"/>
<circle cx="276.6" cy="110.2" r="0.85"/>
<circle cx="277.9" cy="112.0" r="0.85"/>
<circle cx="282.7" cy="112.0" r="0.85"/>
<circle cx="297.3" cy="107.0" r="0.85"/>
<circle cx="295.0" cy="106.0" r="0.85"/>
<circle cx="291.7" cy="113.6" r="0.85"/>
<circle cx="267.1" cy="106.4" r="0.85"/>
<circle cx="262.4" cy="113.1" r="0.85"/>
<circle cx="271.2" cy="106.9" r="0.85"/>
<circle cx="280.3" cy="113.8" r="0.85"/>
<circle cx="262.7" cy="104.6" r="0.85"/>
<circle cx="250.7" cy="108.0" r="0.85"/>
<circle cx="273.1" cy="107.0" r="0.85"/>
<circle cx="287.9" cy="108.8" r="0.85"/>
<circle cx="293.2" cy="106.2" r="0.85"/>
<circle cx="262.4" cy="112.7" r="0.85"/>
<circle cx="275.3" cy="112.7" r="0.85"/>
<circle cx="297.3" cy="110.8" r="0.85"/>
<circle cx="268.2" cy="110.2" r="0.85"/>
<circle cx="260.7" cy="105.3" r="0.85"/>
<circle cx="279.7" cy="113.3" r="0.85"/>
<circle cx="275.8" cy="110.7" r="0.85"/>
<circle cx="260.2" cy="109.7" r="0.85"/>
<circle cx="286.1" cy="108.2" r="0.85"/>
<circle cx="290.4" cy="112.1" r="0.85"/>
<circle cx="267.7" cy="110.1" r="0.85"/>
<circle cx="264.8" cy="109.7" r="0.85"/>
<circle cx="286.5" cy="107.3" r="0.85"/>
<circle cx="302.6" cy="112.8" r="0.85"/>
<circle cx="281.5" cy="112.7" r="0.85"/>
<circle cx="287.5" cy="109.7" r="0.85"/>
<circle cx="263.5" cy="109.3" r="0.85"/>
<circle cx="276.4" cy="110.5" r="0.85"/>
<circle cx="273.2" cy="110.1" r="0.85"/>
<circle cx="293.6" cy="105.7" r="0.85"/>
<circle cx="287.8" cy="111.2" r="0.85"/>
<circle cx="264.7" cy="112.3" r="0.85"/>
<circle cx="281.2" cy="113.3" r="0.85"/>
<circle cx="272.1" cy="112.8" r="0.85"/>
<circle cx="290.0" cy="108.9" r="0.85"/>
<circle cx="281.3" cy="113.4" r="0.85"/>
<circle cx="268.2" cy="109.6" r="0.85"/>
<circle cx="277.9" cy="113.7" r="0.85"/>
<circle cx="283.9" cy="109.6" r="0.85"/>
<circle cx="269.3" cy="106.3" r="0.85"/>
<circle cx="293.2" cy="107.8" r="0.85"/>
<circle cx="287.1" cy="109.6" r="0.85"/>
<circle cx="295.6" cy="109.5" r="0.85"/>
<circle cx="288.0" cy="106.7" r="0.85"/>
<circle cx="312.6" cy="105.5" r="0.85"/>
<circle cx="287.8" cy="109.5" r="0.85"/>
<circle cx="271.3" cy="107.5" r="0.85"/>
<circle cx="292.0" cy="105.6" r="0.85"/>
<circle cx="293.1" cy="112.7" r="0.85"/>
<circle cx="260.4" cy="113.1" r="0.85"/>
<circle cx="285.6" cy="112.8" r="0.85"/>
<circle cx="292.9" cy="111.8" r="0.85"/>
<circle cx="285.9" cy="112.6" r="0.85"/>
<circle cx="281.2" cy="113.3" r="0.85"/>
<circle cx="266.0" cy="112.6" r="0.85"/>
<circle cx="296.7" cy="111.1" r="0.85"/>
<circle cx="268.5" cy="107.0" r="0.85"/>
<circle cx="280.3" cy="113.8" r="0.85"/>
<circle cx="281.4" cy="112.6" r="0.85"/>
<circle cx="260.0" cy="106.5" r="0.85"/>
<circle cx="265.7" cy="104.4" r="0.85"/>
<circle cx="287.8" cy="106.7" r="0.85"/>
<circle cx="278.7" cy="111.9" r="0.85"/>
<circle cx="280.1" cy="113.7" r="0.85"/>
<circle cx="308.8" cy="104.8" r="0.85"/>
<circle cx="281.7" cy="113.2" r="0.85"/>
<circle cx="303.0" cy="112.2" r="0.85"/>
<circle cx="282.7" cy="113.0" r="0.85"/>
<circle cx="298.2" cy="112.6" r="0.85"/>
<circle cx="266.0" cy="105.5" r="0.85"/>
<circle cx="264.7" cy="113.1" r="0.85"/>
<circle cx="292.7" cy="105.9" r="0.85"/>
<circle cx="281.5" cy="112.9" r="0.85"/>
<circle cx="294.7" cy="113.2" r="0.85"/>
<circle cx="296.5" cy="109.2" r="0.85"/>
<circle cx="293.2" cy="107.2" r="0.85"/>
<circle cx="268.4" cy="112.7" r="0.85"/>
<circle cx="261.5" cy="112.4" r="0.85"/>
<circle cx="267.1" cy="108.9" r="0.85"/>
<circle cx="276.6" cy="111.0" r="0.85"/>
<circle cx="291.4" cy="108.3" r="0.85"/>
<circle cx="263.5" cy="112.6" r="0.85"/>
<circle cx="288.6" cy="111.7" r="0.85"/>
<circle cx="278.5" cy="112.7" r="0.85"/>
<circle cx="309.2" cy="113.1" r="0.85"/>
<circle cx="264.5" cy="107.7" r="0.85"/>
<circle cx="273.7" cy="108.7" r="0.85"/>
<circle cx="279.8" cy="113.2" r="0.85"/>
<circle cx="285.8" cy="107.5" r="0.85"/>
<circle cx="290.3" cy="108.6" r="0.85"/>
<circle cx="273.5" cy="111.0" r="0.85"/>
<circle cx="269.9" cy="104.5" r="0.85"/>
<circle cx="309.8" cy="107.2" r="0.85"/>
<circle cx="278.6" cy="112.6" r="0.85"/>
<circle cx="300.1" cy="108.5" r="0.85"/>
<circle cx="264.4" cy="108.9" r="0.85"/>
<circle cx="291.5" cy="105.0" r="0.85"/>
<circle cx="269.0" cy="107.2" r="0.85"/>
<circle cx="298.2" cy="111.1" r="0.85"/>
<circle cx="276.8" cy="111.4" r="0.85"/>
<circle cx="274.4" cy="106.8" r="0.85"/>
<circle cx="271.3" cy="105.9" r="0.85"/>
<circle cx="277.1" cy="113.4" r="0.85"/>
<circle cx="286.1" cy="108.3" r="0.85"/>
<circle cx="277.2" cy="110.6" r="0.85"/>
<circle cx="278.0" cy="112.3" r="0.85"/>
<circle cx="260.3" cy="112.1" r="0.85"/>
<circle cx="278.1" cy="111.2" r="0.85"/>
<circle cx="279.8" cy="113.3" r="0.85"/>
<circle cx="280.1" cy="113.7" r="0.85"/>
<circle cx="279.4" cy="113.5" r="0.85"/>
<circle cx="273.9" cy="111.3" r="0.85"/>
<circle cx="277.8" cy="111.7" r="0.85"/>
<circle cx="293.2" cy="109.7" r="0.85"/>
<circle cx="274.4" cy="112.0" r="0.85"/>
<circle cx="263.0" cy="112.1" r="0.85"/>
<circle cx="299.8" cy="107.6" r="0.85"/>
<circle cx="302.2" cy="109.3" r="0.85"/>
<circle cx="301.7" cy="113.2" r="0.85"/>
<circle cx="301.2" cy="109.8" r="0.85"/>
<circle cx="277.7" cy="111.9" r="0.85"/>
<circle cx="281.9" cy="112.7" r="0.85"/>
<circle cx="288.1" cy="107.0" r="0.85"/>
<circle cx="266.0" cy="109.8" r="0.85"/>
<circle cx="290.5" cy="111.2" r="0.85"/>
<circle cx="276.8" cy="109.7" r="0.85"/>
<circle cx="293.4" cy="104.3" r="0.85"/>
<circle cx="268.3" cy="113.4" r="0.85"/>
<circle cx="286.5" cy="113.1" r="0.85"/>
<circle cx="286.6" cy="110.3" r="0.85"/>
<circle cx="268.9" cy="104.3" r="0.85"/>
<circle cx="294.6" cy="104.3" r="0.85"/>
<circle cx="295.6" cy="111.0" r="0.85"/>
<circle cx="271.1" cy="107.3" r="0.85"/>
<circle cx="294.3" cy="111.4" r="0.85"/>
<circle cx="294.2" cy="108.7" r="0.85"/>
<circle cx="267.3" cy="107.0" r="0.85"/>
<circle cx="298.2" cy="112.9" r="0.85"/>
<circle cx="293.3" cy="109.3" r="0.85"/>
<circle cx="262.3" cy="113.4" r="0.85"/>
<circle cx="266.9" cy="110.7" r="0.85"/>
<circle cx="255.9" cy="111.1" r="0.85"/>
<circle cx="273.3" cy="111.2" r="0.85"/>
<circle cx="281.0" cy="113.3" r="0.85"/>
<circle cx="281.5" cy="113.3" r="0.85"/>
<circle cx="278.3" cy="112.9" r="0.85"/>
<circle cx="270.1" cy="107.4" r="0.85"/>
<circle cx="275.2" cy="107.8" r="0.85"/>
<circle cx="276.0" cy="113.2" r="0.85"/>
<circle cx="296.7" cy="108.4" r="0.85"/>
<circle cx="301.4" cy="112.8" r="0.85"/>
<circle cx="273.3" cy="108.6" r="0.85"/>
<circle cx="273.3" cy="108.6" r="0.85"/>
<circle cx="276.0" cy="112.7" r="0.85"/>
<circle cx="277.9" cy="111.3" r="0.85"/>
<circle cx="294.5" cy="109.9" r="0.85"/>
<circle cx="309.8" cy="106.9" r="0.85"/>
<circle cx="302.7" cy="105.6" r="0.85"/>
<circle cx="259.9" cy="104.8" r="0.85"/>
<circle cx="288.1" cy="110.5" r="0.85"/>
<circle cx="277.3" cy="112.3" r="0.85"/>
<circle cx="279.4" cy="113.4" r="0.85"/>
<circle cx="309.3" cy="104.4" r="0.85"/>
<circle cx="277.9" cy="111.6" r="0.85"/>
<circle cx="292.0" cy="112.2" r="0.85"/>
<circle cx="283.5" cy="110.5" r="0.85"/>
<circle cx="293.3" cy="113.7" r="0.85"/>
<circle cx="273.1" cy="107.0" r="0.85"/>
<circle cx="278.6" cy="113.6" r="0.85"/>
<circle cx="279.0" cy="113.4" r="0.85"/>
<circle cx="265.7" cy="109.6" r="0.85"/>
<circle cx="283.1" cy="112.7" r="0.85"/>
<circle cx="301.9" cy="108.6" r="0.85"/>
<circle cx="273.0" cy="109.8" r="0.85"/>
<circle cx="294.6" cy="110.8" r="0.85"/>
<circle cx="275.8" cy="110.9" r="0.85"/>
<circle cx="254.9" cy="110.3" r="0.85"/>
<circle cx="272.1" cy="107.2" r="0.85"/>
<circle cx="303.0" cy="106.9" r="0.85"/>
<circle cx="300.5" cy="104.6" r="0.85"/>
<circle cx="275.0" cy="109.2" r="0.85"/>
<circle cx="291.5" cy="107.3" r="0.85"/>
<circle cx="287.0" cy="109.4" r="0.85"/>
<circle cx="283.4" cy="111.4" r="0.85"/>
<circle cx="269.9" cy="110.8" r="0.85"/>
<circle cx="292.4" cy="107.8" r="0.85"/>
<circle cx="305.0" cy="108.4" r="0.85"/>
<circle cx="273.9" cy="108.3" r="0.85"/>
<circle cx="293.8" cy="107.4" r="0.85"/>
<circle cx="287.3" cy="112.0" r="0.85"/>
<circle cx="296.4" cy="106.3" r="0.85"/>
<circle cx="285.2" cy="111.1" r="0.85"/>
<circle cx="273.3" cy="105.7" r="0.85"/>
<circle cx="286.5" cy="107.9" r="0.85"/>
<circle cx="284.0" cy="113.0" r="0.85"/>
<circle cx="270.2" cy="112.1" r="0.85"/>
<circle cx="292.5" cy="104.4" r="0.85"/>
<circle cx="283.3" cy="112.2" r="0.85"/>
<circle cx="264.0" cy="110.4" r="0.85"/>
<circle cx="280.1" cy="113.6" r="0.85"/>
<circle cx="304.9" cy="111.4" r="0.85"/>
<circle cx="274.2" cy="107.5" r="0.85"/>
<circle cx="288.5" cy="110.8" r="0.85"/>
<circle cx="267.9" cy="106.0" r="0.85"/>
<circle cx="288.2" cy="111.3" r="0.85"/>
<circle cx="276.0" cy="111.9" r="0.85"/>
<circle cx="260.8" cy="111.8" r="0.85"/>
<circle cx="272.3" cy="105.2" r="0.85"/>
<circle cx="281.1" cy="113.2" r="0.85"/>
<circle cx="304.4" cy="109.0" r="0.85"/>
<circle cx="286.2" cy="110.7" r="0.85"/>
<circle cx="292.0" cy="104.4" r="0.85"/>
<circle cx="279.8" cy="113.2" r="0.85"/>
<circle cx="286.8" cy="106.7" r="0.85"/>
<circle cx="279.1" cy="112.7" r="0.85"/>
<circle cx="260.2" cy="108.6" r="0.85"/>
<circle cx="273.6" cy="110.2" r="0.85"/>
<circle cx="277.2" cy="112.3" r="0.85"/>
<circle cx="283.1" cy="113.2" r="0.85"/>
<circle cx="285.9" cy="107.2" r="0.85"/>
<circle cx="268.2" cy="111.8" r="0.85"/>
<circle cx="295.7" cy="108.4" r="0.85"/>
<circle cx="272.3" cy="108.6" r="0.85"/>
<circle cx="276.2" cy="112.3" r="0.85"/>
<circle cx="301.0" cy="107.7" r="0.85"/>
<circle cx="284.0" cy="109.5" r="0.85"/>
<circle cx="293.3" cy="112.9" r="0.85"/>
<circle cx="256.8" cy="112.4" r="0.85"/>
<circle cx="292.5" cy="105.5" r="0.85"/>
<circle cx="281.4" cy="112.6" r="0.85"/>
<circle cx="289.6" cy="106.7" r="0.85"/>
<circle cx="278.3" cy="112.4" r="0.85"/>
<circle cx="280.9" cy="113.2" r="0.85"/>
<circle cx="286.3" cy="113.7" r="0.85"/>
<circle cx="261.7" cy="110.7" r="0.85"/>
<circle cx="287.1" cy="107.2" r="0.85"/>
<circle cx="291.5" cy="104.3" r="0.85"/>
<circle cx="266.8" cy="111.1" r="0.85"/>
<circle cx="262.8" cy="109.4" r="0.85"/>
<circle cx="261.8" cy="104.4" r="0.85"/>
<circle cx="272.2" cy="108.4" r="0.85"/>
<circle cx="262.5" cy="105.2" r="0.85"/>
<circle cx="285.8" cy="111.2" r="0.85"/>
<circle cx="289.5" cy="105.2" r="0.85"/>
<circle cx="263.7" cy="109.8" r="0.85"/>
<circle cx="283.3" cy="113.6" r="0.85"/>
<circle cx="299.0" cy="108.4" r="0.85"/>
<circle cx="274.7" cy="108.5" r="0.85"/>
<circle cx="299.2" cy="106.0" r="0.85"/>
<circle cx="290.0" cy="113.7" r="0.85"/>
<circle cx="260.0" cy="113.1" r="0.85"/>
<circle cx="273.3" cy="109.6" r="0.85"/>
<circle cx="291.6" cy="105.5" r="0.85"/>
<circle cx="289.9" cy="112.7" r="0.85"/>
<circle cx="283.8" cy="113.1" r="0.85"/>
<circle cx="292.5" cy="108.5" r="0.85"/>
<circle cx="297.4" cy="106.4" r="0.85"/>
<circle cx="285.3" cy="113.8" r="0.85"/>
<circle cx="269.5" cy="106.3" r="0.85"/>
<circle cx="284.7" cy="109.7" r="0.85"/>
<circle cx="275.7" cy="108.4" r="0.85"/>
<circle cx="268.2" cy="111.0" r="0.85"/>
<circle cx="276.8" cy="111.5" r="0.85"/>
<circle cx="307.0" cy="111.8" r="0.85"/>
<circle cx="280.5" cy="113.7" r="0.85"/>
<circle cx="277.7" cy="111.1" r="0.85"/>
<circle cx="289.8" cy="110.2" r="0.85"/>
<circle cx="279.4" cy="113.0" r="0.85"/>
<circle cx="283.1" cy="112.4" r="0.85"/>
<circle cx="280.6" cy="113.8" r="0.85"/>
<circle cx="270.1" cy="112.6" r="0.85"/>
<circle cx="262.2" cy="106.9" r="0.85"/>
<circle cx="284.9" cy="108.5" r="0.85"/>
<circle cx="263.5" cy="105.1" r="0.85"/>
<circle cx="291.0" cy="109.7" r="0.85"/>
<circle cx="258.9" cy="107.0" r="0.85"/>
<circle cx="278.9" cy="113.7" r="0.85"/>
<circle cx="282.0" cy="112.8" r="0.85"/>
<circle cx="295.3" cy="104.3" r="0.85"/>
<circle cx="279.6" cy="113.2" r="0.85"/>
<circle cx="273.9" cy="106.2" r="0.85"/>
<circle cx="289.2" cy="111.9" r="0.85"/>
<circle cx="277.6" cy="111.9" r="0.85"/>
<circle cx="272.5" cy="111.3" r="0.85"/>
<circle cx="285.0" cy="110.3" r="0.85"/>
<circle cx="304.8" cy="104.9" r="0.85"/>
<circle cx="292.4" cy="109.9" r="0.85"/>
<circle cx="247.5" cy="112.5" r="0.85"/>
<circle cx="281.7" cy="112.6" r="0.85"/>
<circle cx="285.1" cy="108.7" r="0.85"/>
<circle cx="273.2" cy="109.6" r="0.85"/>
<circle cx="271.8" cy="112.0" r="0.85"/>
<circle cx="281.2" cy="113.4" r="0.85"/>
<circle cx="275.9" cy="112.8" r="0.85"/>
<circle cx="287.8" cy="108.1" r="0.85"/>
<circle cx="274.0" cy="110.1" r="0.85"/>
<circle cx="261.1" cy="112.7" r="0.85"/>
<circle cx="301.3" cy="107.2" r="0.85"/>
<circle cx="292.2" cy="109.8" r="0.85"/>
<circle cx="260.3" cy="110.0" r="0.85"/>
<circle cx="261.4" cy="110.1" r="0.85"/>
<circle cx="273.1" cy="106.1" r="0.85"/>
<circle cx="271.6" cy="113.4" r="0.85"/>
<circle cx="271.5" cy="112.3" r="0.85"/>
<circle cx="297.8" cy="104.7" r="0.85"/>
<circle cx="261.3" cy="105.5" r="0.85"/>
<circle cx="305.2" cy="104.3" r="0.85"/>
<circle cx="276.9" cy="111.3" r="0.85"/>
<circle cx="255.1" cy="113.4" r="0.85"/>
<circle cx="271.7" cy="107.8" r="0.85"/>
<circle cx="286.3" cy="108.1" r="0.85"/>
<circle cx="288.6" cy="105.9" r="0.85"/>
<circle cx="279.5" cy="113.7" r="0.85"/>
<circle cx="287.0" cy="108.7" r="0.85"/>
<circle cx="307.4" cy="111.2" r="0.85"/>
<circle cx="309.5" cy="106.1" r="0.85"/>
<circle cx="265.1" cy="108.4" r="0.85"/>
<circle cx="281.6" cy="113.7" r="0.85"/>
<circle cx="277.3" cy="111.4" r="0.85"/>
<circle cx="291.0" cy="104.9" r="0.85"/>
<circle cx="284.6" cy="113.6" r="0.85"/>
<circle cx="282.0" cy="112.0" r="0.85"/>
<circle cx="267.9" cy="111.4" r="0.85"/>
<circle cx="269.9" cy="106.3" r="0.85"/>
<circle cx="290.2" cy="109.2" r="0.85"/>
<circle cx="283.2" cy="112.1" r="0.85"/>
<circle cx="279.0" cy="112.6" r="0.85"/>
<circle cx="293.2" cy="104.3" r="0.85"/>
<circle cx="275.1" cy="110.3" r="0.85"/>
<circle cx="284.8" cy="109.2" r="0.85"/>
<circle cx="292.1" cy="112.0" r="0.85"/>
<circle cx="271.0" cy="107.0" r="0.85"/>
<circle cx="303.8" cy="105.0" r="0.85"/>
<circle cx="289.9" cy="111.8" r="0.85"/>
<circle cx="274.6" cy="112.2" r="0.85"/>
<circle cx="263.8" cy="113.1" r="0.85"/>
<circle cx="292.1" cy="107.4" r="0.85"/>
<circle cx="274.3" cy="107.7" r="0.85"/>
<circle cx="269.5" cy="109.9" r="0.85"/>
<circle cx="288.1" cy="109.5" r="0.85"/>
<circle cx="277.6" cy="112.6" r="0.85"/>
<circle cx="277.0" cy="113.4" r="0.85"/>
<circle cx="255.0" cy="111.6" r="0.85"/>
<circle cx="283.2" cy="111.9" r="0.85"/>
<circle cx="288.8" cy="110.5" r="0.85"/>
<circle cx="304.2" cy="104.4" r="0.85"/>
<circle cx="269.7" cy="109.0" r="0.85"/>
<circle cx="285.3" cy="107.9" r="0.85"/>
<circle cx="253.2" cy="110.0" r="0.85"/>
<circle cx="279.2" cy="113.0" r="0.85"/>
<circle cx="278.5" cy="112.3" r="0.85"/>
<circle cx="274.8" cy="112.7" r="0.85"/>
<circle cx="287.0" cy="109.4" r="0.85"/>
<circle cx="281.8" cy="112.4" r="0.85"/>
<circle cx="288.0" cy="113.1" r="0.85"/>
<circle cx="279.0" cy="112.3" r="0.85"/>
<circle cx="290.2" cy="106.2" r="0.85"/>
<circle cx="276.1" cy="111.1" r="0.85"/>
<circle cx="282.8" cy="111.3" r="0.85"/>
<circle cx="285.7" cy="111.1" r="0.85"/>
<circle cx="265.4" cy="105.0" r="0.85"/>
<circle cx="286.9" cy="113.6" r="0.85"/>
<circle cx="279.0" cy="112.6" r="0.85"/>
<circle cx="285.8" cy="112.3" r="0.85"/>
<circle cx="286.1" cy="110.4" r="0.85"/>
<circle cx="273.2" cy="108.5" r="0.85"/>
<circle cx="284.9" cy="112.7" r="0.85"/>
<circle cx="295.3" cy="109.0" r="0.85"/>
<circle cx="273.9" cy="109.3" r="0.85"/>
<circle cx="270.3" cy="113.3" r="0.85"/>
<circle cx="294.0" cy="110.1" r="0.85"/>
<circle cx="269.0" cy="104.3" r="0.85"/>
<circle cx="283.8" cy="111.4" r="0.85"/>
<circle cx="300.1" cy="108.5" r="0.85"/>
<circle cx="271.6" cy="113.6" r="0.85"/>
<circle cx="264.7" cy="104.3" r="0.85"/>
<circle cx="267.5" cy="107.4" r="0.85"/>
<circle cx="286.8" cy="113.2" r="0.85"/>
<circle cx="269.0" cy="109.1" r="0.85"/>
<circle cx="278.8" cy="113.4" r="0.85"/>
<circle cx="250.1" cy="105.2" r="0.85"/>
<circle cx="289.0" cy="104.5" r="0.85"/>
<circle cx="281.9" cy="111.9" r="0.85"/>
<circle cx="276.5" cy="113.1" r="0.85"/>
<circle cx="272.3" cy="110.6" r="0.85"/>
<circle cx="261.4" cy="111.4" r="0.85"/>
<circle cx="289.0" cy="104.5" r="0.85"/>
<circle cx="293.3" cy="112.8" r="0.85"/>
<circle cx="299.6" cy="105.3" r="0.85"/>
<circle cx="292.1" cy="107.7" r="0.85"/>
<circle cx="267.4" cy="109.2" r="0.85"/>
<circle cx="271.2" cy="111.4" r="0.85"/>
<circle cx="266.1" cy="110.4" r="0.85"/>
<circle cx="276.0" cy="109.7" r="0.85"/>
<circle cx="277.7" cy="110.9" r="0.85"/>
<circle cx="270.3" cy="108.2" r="0.85"/>
<circle cx="294.2" cy="109.6" r="0.85"/>
<circle cx="287.6" cy="110.7" r="0.85"/>
<circle cx="269.5" cy="108.9" r="0.85"/>
<circle cx="281.3" cy="112.7" r="0.85"/>
<circle cx="274.7" cy="112.4" r="0.85"/>
<circle cx="302.0" cy="113.4" r="0.85"/>
<circle cx="258.6" cy="105.8" r="0.85"/>
<circle cx="268.3" cy="105.3" r="0.85"/>
<circle cx="316.7" cy="107.9" r="0.85"/>
<circle cx="281.0" cy="113.6" r="0.85"/>
<circle cx="275.6" cy="111.9" r="0.85"/>
<circle cx="283.8" cy="112.3" r="0.85"/>
<circle cx="293.2" cy="104.9" r="0.85"/>
<circle cx="294.1" cy="107.2" r="0.85"/>
<circle cx="308.2" cy="111.7" r="0.85"/>
<circle cx="290.5" cy="112.2" r="0.85"/>
<circle cx="277.0" cy="110.0" r="0.85"/>
<circle cx="288.1" cy="110.0" r="0.85"/>
<circle cx="296.9" cy="106.1" r="0.85"/>
<circle cx="277.8" cy="113.4" r="0.85"/>
<circle cx="290.2" cy="105.4" r="0.85"/>
<circle cx="305.5" cy="105.7" r="0.85"/>
<circle cx="277.9" cy="111.1" r="0.85"/>
<circle cx="282.4" cy="111.5" r="0.85"/>
<circle cx="277.1" cy="110.0" r="0.85"/>
<circle cx="271.1" cy="106.6" r="0.85"/>
<circle cx="287.9" cy="112.3" r="0.85"/>
<circle cx="275.3" cy="110.2" r="0.85"/>
<circle cx="268.8" cy="108.1" r="0.85"/>
<circle cx="281.4" cy="112.5" r="0.85"/>
<circle cx="277.3" cy="112.5" r="0.85"/>
<circle cx="293.5" cy="109.3" r="0.85"/>
<circle cx="261.8" cy="108.4" r="0.85"/>
<circle cx="268.6" cy="108.7" r="0.85"/>
<circle cx="303.6" cy="104.4" r="0.85"/>
<circle cx="292.4" cy="109.0" r="0.85"/>
<circle cx="293.9" cy="112.5" r="0.85"/>
<circle cx="275.6" cy="109.5" r="0.85"/>
<circle cx="266.4" cy="105.2" r="0.85"/>
<circle cx="285.3" cy="111.6" r="0.85"/>
<circle cx="264.0" cy="106.1" r="0.85"/>
<circle cx="273.7" cy="113.6" r="0.85"/>
<circle cx="289.9" cy="111.6" r="0.85"/>
<circle cx="281.9" cy="112.3" r="0.85"/>
<circle cx="296.6" cy="107.7" r="0.85"/>
<circle cx="293.2" cy="108.1" r="0.85"/>
<circle cx="304.6" cy="112.2" r="0.85"/>
<circle cx="284.9" cy="113.7" r="0.85"/>
<circle cx="305.6" cy="112.3" r="0.85"/>
<circle cx="276.5" cy="110.1" r="0.85"/>
<circle cx="289.7" cy="105.1" r="0.85"/>
<circle cx="309.4" cy="112.9" r="0.85"/>
<circle cx="292.5" cy="106.7" r="0.85"/>
<circle cx="302.3" cy="105.9" r="0.85"/>
<circle cx="268.7" cy="113.7" r="0.85"/>
<circle cx="288.7" cy="106.7" r="0.85"/>
<circle cx="280.9" cy="113.6" r="0.85"/>
<circle cx="289.2" cy="110.8" r="0.85"/>
<circle cx="266.0" cy="107.3" r="0.85"/>
<circle cx="269.3" cy="108.5" r="0.85"/>
<circle cx="265.1" cy="107.6" r="0.85"/>
<circle cx="289.4" cy="104.8" r="0.85"/>
<circle cx="269.2" cy="104.5" r="0.85"/>
<circle cx="300.1" cy="109.4" r="0.85"/>
<circle cx="286.6" cy="110.1" r="0.85"/>
<circle cx="288.1" cy="111.7" r="0.85"/>
<circle cx="285.6" cy="111.1" r="0.85"/>
<circle cx="312.6" cy="113.7" r="0.85"/>
<circle cx="276.9" cy="111.8" r="0.85"/>
<circle cx="275.0" cy="107.7" r="0.85"/>
<circle cx="280.5" cy="113.7" r="0.85"/>
<circle cx="274.3" cy="108.1" r="0.85"/>
<circle cx="282.6" cy="112.3" r="0.85"/>
<circle cx="268.9" cy="109.1" r="0.85"/>
<circle cx="267.6" cy="107.6" r="0.85"/>
<circle cx="284.9" cy="108.7" r="0.85"/>
<circle cx="282.4" cy="112.3" r="0.85"/>
<circle cx="273.9" cy="106.9" r="0.85"/>
<circle cx="281.0" cy="113.0" r="0.85"/>
<circle cx="282.2" cy="112.7" r="0.85"/>
<circle cx="270.0" cy="110.2" r="0.85"/>
<circle cx="289.3" cy="110.3" r="0.85"/>
<circle cx="265.1" cy="108.9" r="0.85"/>
<circle cx="280.8" cy="113.2" r="0.85"/>
<circle cx="303.8" cy="108.1" r="0.85"/>
<circle cx="284.6" cy="108.9" r="0.85"/>
<circle cx="261.6" cy="108.5" r="0.85"/>
<circle cx="270.2" cy="105.1" r="0.85"/>
<circle cx="279.2" cy="113.1" r="0.85"/>
<circle cx="313.3" cy="106.6" r="0.85"/>
<circle cx="266.3" cy="104.5" r="0.85"/>
<circle cx="290.4" cy="113.0" r="0.85"/>
<circle cx="261.5" cy="112.7" r="0.85"/>
<circle cx="299.8" cy="105.1" r="0.85"/>
<circle cx="261.7" cy="105.2" r="0.85"/>
<circle cx="286.7" cy="112.4" r="0.85"/>
<circle cx="284.6" cy="110.0" r="0.85"/>
<circle cx="280.1" cy="113.6" r="0.85"/>
<circle cx="278.9" cy="112.5" r="0.85"/>
<circle cx="298.7" cy="106.1" r="0.85"/>
<circle cx="284.2" cy="112.8" r="0.85"/>
<circle cx="279.4" cy="113.0" r="0.85"/>
<circle cx="281.5" cy="112.5" r="0.85"/>
<circle cx="275.5" cy="112.3" r="0.85"/>
<circle cx="283.5" cy="110.1" r="0.85"/>
<circle cx="283.7" cy="110.9" r="0.85"/>
<circle cx="272.0" cy="105.0" r="0.85"/>
<circle cx="262.4" cy="112.6" r="0.85"/>
<circle cx="284.1" cy="112.7" r="0.85"/>
<circle cx="284.7" cy="109.6" r="0.85"/>
<circle cx="273.4" cy="107.0" r="0.85"/>
<circle cx="270.0" cy="104.8" r="0.85"/>
<circle cx="277.4" cy="112.3" r="0.85"/>
<circle cx="260.0" cy="105.3" r="0.85"/>
<circle cx="278.7" cy="113.2" r="0.85"/>
<circle cx="278.6" cy="112.1" r="0.85"/>
<circle cx="265.0" cy="107.7" r="0.85"/>
<circle cx="284.7" cy="111.9" r="0.85"/>
<circle cx="267.7" cy="110.9" r="0.85"/>
<circle cx="276.9" cy="111.5" r="0.85"/>
<circle cx="304.4" cy="107.2" r="0.85"/>
<circle cx="282.9" cy="112.1" r="0.85"/>
<circle cx="278.0" cy="112.8" r="0.85"/>
<circle cx="271.7" cy="105.1" r="0.85"/>
<circle cx="259.9" cy="106.1" r="0.85"/>
<circle cx="296.8" cy="109.3" r="0.85"/>
<circle cx="280.9" cy="113.4" r="0.85"/>
<circle cx="297.3" cy="107.6" r="0.85"/>
<circle cx="284.4" cy="113.2" r="0.85"/>
<circle cx="264.6" cy="108.2" r="0.85"/>
<circle cx="268.4" cy="112.6" r="0.85"/>
<circle cx="278.0" cy="112.9" r="0.85"/>
<circle cx="262.6" cy="109.3" r="0.85"/>
<circle cx="287.3" cy="112.4" r="0.85"/>
<circle cx="302.5" cy="106.3" r="0.85"/>
<circle cx="297.6" cy="112.0" r="0.85"/>
<circle cx="275.8" cy="109.6" r="0.85"/>
<circle cx="278.2" cy="112.2" r="0.85"/>
<circle cx="297.6" cy="104.5" r="0.85"/>
<circle cx="291.4" cy="112.3" r="0.85"/>
<circle cx="293.5" cy="104.3" r="0.85"/>
<circle cx="307.6" cy="110.9" r="0.85"/>
<circle cx="290.0" cy="104.6" r="0.85"/>
<circle cx="306.0" cy="110.7" r="0.85"/>
<circle cx="281.1" cy="113.2" r="0.85"/>
<circle cx="281.2" cy="113.3" r="0.85"/>
<circle cx="281.2" cy="113.3" r="0.85"/>
<circle cx="280.8" cy="113.3" r="0.85"/>
<circle cx="261.4" cy="105.5" r="0.85"/>
<circle cx="267.6" cy="113.6" r="0.85"/>
<circle cx="290.2" cy="106.2" r="0.85"/>
<circle cx="278.5" cy="112.1" r="0.85"/>
<circle cx="293.9" cy="104.6" r="0.85"/>
<circle cx="279.9" cy="113.8" r="0.85"/>
<circle cx="285.2" cy="108.1" r="0.85"/>
<circle cx="271.3" cy="113.3" r="0.85"/>
<circle cx="272.3" cy="111.6" r="0.85"/>
<circle cx="289.8" cy="104.6" r="0.85"/>
<circle cx="282.8" cy="111.5" r="0.85"/>
<circle cx="277.2" cy="111.7" r="0.85"/>
<circle cx="296.6" cy="108.0" r="0.85"/>
<circle cx="293.3" cy="112.1" r="0.85"/>
<circle cx="266.4" cy="104.3" r="0.85"/>
<circle cx="294.1" cy="111.3" r="0.85"/>
<circle cx="265.4" cy="104.6" r="0.85"/>
<circle cx="288.3" cy="113.0" r="0.85"/>
<circle cx="260.0" cy="108.9" r="0.85"/>
<circle cx="300.4" cy="104.5" r="0.85"/>
<circle cx="298.8" cy="110.8" r="0.85"/>
<circle cx="281.4" cy="112.6" r="0.85"/>
<circle cx="293.5" cy="109.1" r="0.85"/>
<circle cx="268.2" cy="108.9" r="0.85"/>
<circle cx="265.9" cy="113.4" r="0.85"/>
<circle cx="275.6" cy="110.5" r="0.85"/>
<circle cx="297.0" cy="107.8" r="0.85"/>
<circle cx="290.9" cy="107.1" r="0.85"/>
<circle cx="282.1" cy="111.8" r="0.85"/>
<circle cx="290.0" cy="110.5" r="0.85"/>
<circle cx="301.9" cy="105.5" r="0.85"/>
<circle cx="296.3" cy="110.2" r="0.85"/>
<circle cx="279.9" cy="113.8" r="0.85"/>
<circle cx="280.8" cy="113.4" r="0.85"/>
<circle cx="275.2" cy="112.7" r="0.85"/>
<circle cx="277.1" cy="110.9" r="0.85"/>
<circle cx="287.8" cy="111.4" r="0.85"/>
<circle cx="271.5" cy="111.1" r="0.85"/>
<circle cx="289.8" cy="108.3" r="0.85"/>
<circle cx="279.2" cy="113.1" r="0.85"/>
<circle cx="285.2" cy="111.5" r="0.85"/>
<circle cx="288.5" cy="107.8" r="0.85"/>
<circle cx="273.6" cy="109.2" r="0.85"/>
<circle cx="289.7" cy="105.3" r="0.85"/>
<circle cx="276.6" cy="110.5" r="0.85"/>
<circle cx="293.2" cy="110.2" r="0.85"/>
<circle cx="292.1" cy="111.7" r="0.85"/>
<circle cx="290.1" cy="108.9" r="0.85"/>
<circle cx="295.2" cy="109.2" r="0.85"/>
<circle cx="269.6" cy="106.1" r="0.85"/>
<circle cx="297.9" cy="112.6" r="0.85"/>
<circle cx="277.7" cy="113.4" r="0.85"/>
<circle cx="300.7" cy="104.5" r="0.85"/>
<circle cx="284.2" cy="110.2" r="0.85"/>
<circle cx="282.3" cy="113.5" r="0.85"/>
<circle cx="292.1" cy="107.3" r="0.85"/>
<circle cx="285.4" cy="113.5" r="0.85"/>
<circle cx="288.7" cy="113.3" r="0.85"/>
<circle cx="297.0" cy="113.4" r="0.85"/>
<circle cx="286.8" cy="107.4" r="0.85"/>
<circle cx="291.7" cy="106.7" r="0.85"/>
<circle cx="293.8" cy="112.1" r="0.85"/>
<circle cx="286.1" cy="113.0" r="0.85"/>
<circle cx="300.1" cy="110.9" r="0.85"/>
<circle cx="242.0" cy="106.9" r="0.85"/>
<circle cx="303.1" cy="107.8" r="0.85"/>
<circle cx="262.5" cy="109.7" r="0.85"/>
<circle cx="268.7" cy="109.9" r="0.85"/>
<circle cx="279.0" cy="112.4" r="0.85"/>
<circle cx="290.8" cy="106.3" r="0.85"/>
<circle cx="271.7" cy="105.1" r="0.85"/>
<circle cx="323.7" cy="111.5" r="0.85"/>
<circle cx="297.6" cy="105.0" r="0.85"/>
<circle cx="264.2" cy="106.5" r="0.85"/>
<circle cx="294.0" cy="106.0" r="0.85"/>
<circle cx="281.4" cy="112.7" r="0.85"/>
<circle cx="271.7" cy="104.3" r="0.85"/>
<circle cx="282.2" cy="112.5" r="0.85"/>
<circle cx="276.6" cy="111.6" r="0.85"/>
<circle cx="303.3" cy="113.4" r="0.85"/>
<circle cx="282.8" cy="113.2" r="0.85"/>
<circle cx="282.9" cy="110.8" r="0.85"/>
<circle cx="287.6" cy="112.1" r="0.85"/>
<circle cx="281.6" cy="112.6" r="0.85"/>
<circle cx="281.8" cy="112.5" r="0.85"/>
<circle cx="286.2" cy="107.5" r="0.85"/>
<circle cx="292.9" cy="105.4" r="0.85"/>
<circle cx="279.1" cy="112.4" r="0.85"/>
<circle cx="283.9" cy="110.9" r="0.85"/>
<circle cx="271.6" cy="104.7" r="0.85"/>
<circle cx="277.2" cy="112.7" r="0.85"/>
<circle cx="298.3" cy="109.0" r="0.85"/>
<circle cx="277.3" cy="112.3" r="0.85"/>
<circle cx="274.8" cy="113.6" r="0.85"/>
<circle cx="266.0" cy="110.8" r="0.85"/>
<circle cx="291.1" cy="106.8" r="0.85"/>
<circle cx="282.2" cy="112.6" r="0.85"/>
<circle cx="268.3" cy="107.9" r="0.85"/>
<circle cx="270.8" cy="104.9" r="0.85"/>
<circle cx="270.9" cy="111.8" r="0.85"/>
<circle cx="279.2" cy="113.4" r="0.85"/>
<circle cx="279.1" cy="113.3" r="0.85"/>
<circle cx="285.8" cy="113.3" r="0.85"/>
<circle cx="286.9" cy="107.8" r="0.85"/>
<circle cx="290.1" cy="104.8" r="0.85"/>
<circle cx="279.5" cy="113.2" r="0.85"/>
<circle cx="271.7" cy="104.7" r="0.85"/>
<circle cx="290.4" cy="108.5" r="0.85"/>
<circle cx="281.9" cy="113.6" r="0.85"/>
<circle cx="274.9" cy="111.6" r="0.85"/>
<circle cx="288.4" cy="111.2" r="0.85"/>
<circle cx="272.5" cy="108.3" r="0.85"/>
<circle cx="298.6" cy="105.5" r="0.85"/>
<circle cx="280.4" cy="113.8" r="0.85"/>
<circle cx="289.9" cy="106.6" r="0.85"/>
<circle cx="273.2" cy="107.8" r="0.85"/>
<circle cx="282.8" cy="112.2" r="0.85"/>
<circle cx="279.7" cy="113.2" r="0.85"/>
<circle cx="277.7" cy="113.4" r="0.85"/>
<circle cx="265.9" cy="110.3" r="0.85"/>
<circle cx="287.9" cy="106.7" r="0.85"/>
<circle cx="276.7" cy="113.3" r="0.85"/>
<circle cx="291.1" cy="108.8" r="0.85"/>
<circle cx="293.1" cy="110.0" r="0.85"/>
<circle cx="270.7" cy="106.8" r="0.85"/>
<circle cx="267.5" cy="106.5" r="0.85"/>
<circle cx="284.9" cy="109.8" r="0.85"/>
<circle cx="300.0" cy="108.6" r="0.85"/>
<circle cx="317.0" cy="109.2" r="0.85"/>
<circle cx="283.7" cy="111.7" r="0.85"/>
<circle cx="286.6" cy="108.9" r="0.85"/>
<circle cx="272.4" cy="112.5" r="0.85"/>
<circle cx="279.5" cy="113.0" r="0.85"/>
<circle cx="287.6" cy="107.1" r="0.85"/>
<circle cx="298.3" cy="104.9" r="0.85"/>
<circle cx="304.3" cy="107.1" r="0.85"/>
<circle cx="282.2" cy="112.2" r="0.85"/>
<circle cx="280.0" cy="113.6" r="0.85"/>
<circle cx="270.9" cy="105.9" r="0.85"/>
<circle cx="285.6" cy="109.5" r="0.85"/>
<circle cx="288.3" cy="105.1" r="0.85"/>
<circle cx="286.5" cy="108.0" r="0.85"/>
<circle cx="293.0" cy="110.7" r="0.85"/>
<circle cx="291.5" cy="110.1" r="0.85"/>
<circle cx="291.1" cy="107.1" r="0.85"/>
<circle cx="288.2" cy="112.4" r="0.85"/>
<circle cx="285.0" cy="112.2" r="0.85"/>
<circle cx="283.6" cy="111.1" r="0.85"/>
<circle cx="271.1" cy="109.6" r="0.85"/>
<circle cx="267.2" cy="108.1" r="0.85"/>
<circle cx="278.5" cy="113.6" r="0.85"/>
<circle cx="294.7" cy="107.2" r="0.85"/>
<circle cx="263.2" cy="109.9" r="0.85"/>
<circle cx="288.4" cy="106.1" r="0.85"/>
<circle cx="278.2" cy="113.6" r="0.85"/>
<circle cx="285.3" cy="109.7" r="0.85"/>
<circle cx="297.1" cy="107.6" r="0.85"/>
<circle cx="272.3" cy="106.6" r="0.85"/>
<circle cx="288.5" cy="104.5" r="0.85"/>
<circle cx="296.8" cy="108.0" r="0.85"/>
<circle cx="285.3" cy="112.7" r="0.85"/>
<circle cx="297.3" cy="110.2" r="0.85"/>
<circle cx="267.4" cy="104.6" r="0.85"/>
<circle cx="306.4" cy="107.4" r="0.85"/>
<circle cx="300.5" cy="105.4" r="0.85"/>
<circle cx="298.7" cy="105.8" r="0.85"/>
<circle cx="272.7" cy="108.5" r="0.85"/>
<circle cx="293.5" cy="111.8" r="0.85"/>
<circle cx="308.0" cy="111.5" r="0.85"/>
<circle cx="266.6" cy="107.0" r="0.85"/>
<circle cx="277.4" cy="113.5" r="0.85"/>
<circle cx="260.2" cy="111.5" r="0.85"/>
<circle cx="271.5" cy="109.4" r="0.85"/>
<circle cx="278.4" cy="111.6" r="0.85"/>
<circle cx="266.1" cy="113.5" r="0.85"/>
<circle cx="267.4" cy="104.9" r="0.85"/>
<circle cx="301.9" cy="107.8" r="0.85"/>
<circle cx="267.4" cy="109.4" r="0.85"/>
<circle cx="263.1" cy="104.5" r="0.85"/>
<circle cx="282.2" cy="112.5" r="0.85"/>
<circle cx="298.2" cy="104.3" r="0.85"/>
<circle cx="302.9" cy="109.9" r="0.85"/>
<circle cx="279.7" cy="113.3" r="0.85"/>
<circle cx="265.2" cy="106.2" r="0.85"/>
<circle cx="278.1" cy="112.6" r="0.85"/>
<circle cx="294.9" cy="107.7" r="0.85"/>
<circle cx="274.5" cy="111.5" r="0.85"/>
<circle cx="286.7" cy="106.7" r="0.85"/>
<circle cx="265.7" cy="111.7" r="0.85"/>
<circle cx="267.5" cy="106.5" r="0.85"/>
<circle cx="261.2" cy="105.5" r="0.85"/>
<circle cx="274.5" cy="108.2" r="0.85"/>
<circle cx="292.2" cy="104.8" r="0.85"/>
<circle cx="266.4" cy="106.9" r="0.85"/>
<circle cx="275.2" cy="108.3" r="0.85"/>
<circle cx="296.0" cy="113.0" r="0.85"/>
<circle cx="293.2" cy="104.3" r="0.85"/>
<circle cx="294.9" cy="112.4" r="0.85"/>
<circle cx="310.6" cy="104.8" r="0.85"/>
<circle cx="288.4" cy="106.8" r="0.85"/>
<circle cx="271.1" cy="109.5" r="0.85"/>
<circle cx="285.0" cy="111.8" r="0.85"/>
<circle cx="278.4" cy="112.4" r="0.85"/>
<circle cx="279.7" cy="113.4" r="0.85"/>
<circle cx="283.5" cy="111.6" r="0.85"/>
<circle cx="269.1" cy="104.5" r="0.85"/>
<circle cx="272.5" cy="109.7" r="0.85"/>
<circle cx="269.9" cy="113.1" r="0.85"/>
<circle cx="278.3" cy="113.6" r="0.85"/>
<circle cx="267.9" cy="106.9" r="0.85"/>
<circle cx="274.2" cy="108.9" r="0.85"/>
<circle cx="257.2" cy="105.9" r="0.85"/>
<circle cx="273.6" cy="111.7" r="0.85"/>
<circle cx="272.4" cy="112.0" r="0.85"/>
<circle cx="274.7" cy="109.1" r="0.85"/>
<circle cx="286.1" cy="110.0" r="0.85"/>
<circle cx="279.0" cy="113.7" r="0.85"/>
<circle cx="265.1" cy="109.1" r="0.85"/>
<circle cx="271.6" cy="104.5" r="0.85"/>
<circle cx="276.7" cy="112.8" r="0.85"/>
<circle cx="279.6" cy="113.1" r="0.85"/>
<circle cx="289.4" cy="111.4" r="0.85"/>
<circle cx="279.5" cy="113.1" r="0.85"/>
<circle cx="294.4" cy="105.0" r="0.85"/>
<circle cx="299.8" cy="105.2" r="0.85"/>
<circle cx="286.9" cy="112.3" r="0.85"/>
<circle cx="301.7" cy="107.6" r="0.85"/>
<circle cx="287.1" cy="111.2" r="0.85"/>
<circle cx="295.9" cy="109.2" r="0.85"/>
<circle cx="272.0" cy="104.5" r="0.85"/>
<circle cx="294.7" cy="113.4" r="0.85"/>
<circle cx="247.4" cy="113.4" r="0.85"/>
<circle cx="273.6" cy="113.2" r="0.85"/>
<circle cx="279.0" cy="113.6" r="0.85"/>
<circle cx="254.0" cy="113.1" r="0.85"/>
<circle cx="286.5" cy="113.1" r="0.85"/>
<circle cx="253.4" cy="113.4" r="0.85"/>
<circle cx="246.7" cy="113.6" r="0.85"/>
<circle cx="267.1" cy="113.6" r="0.85"/>
<circle cx="320.0" cy="113.7" r="0.85"/>
<circle cx="281.4" cy="113.7" r="0.85"/>
<circle cx="314.1" cy="113.7" r="0.85"/>
<circle cx="311.5" cy="113.5" r="0.85"/>
<circle cx="267.9" cy="113.7" r="0.85"/>
<circle cx="291.4" cy="113.7" r="0.85"/>
<circle cx="295.0" cy="113.3" r="0.85"/>
<circle cx="260.6" cy="113.2" r="0.85"/>
<circle cx="298.6" cy="113.7" r="0.85"/>
<circle cx="316.5" cy="113.0" r="0.85"/>
<circle cx="306.4" cy="113.0" r="0.85"/>
<circle cx="266.6" cy="113.7" r="0.85"/>
<circle cx="274.3" cy="113.0" r="0.85"/>
<circle cx="296.0" cy="113.7" r="0.85"/>
<circle cx="302.3" cy="113.1" r="0.85"/>
<circle cx="276.9" cy="113.2" r="0.85"/>
<circle cx="312.8" cy="113.4" r="0.85"/>
<circle cx="305.6" cy="113.3" r="0.85"/>
<circle cx="305.3" cy="113.0" r="0.85"/>
<circle cx="249.4" cy="113.6" r="0.85"/>
<circle cx="287.9" cy="113.5" r="0.85"/>
<circle cx="262.5" cy="113.8" r="0.85"/>
<circle cx="275.3" cy="112.9" r="0.85"/>
<circle cx="272.3" cy="113.6" r="0.85"/>
<circle cx="269.1" cy="113.3" r="0.85"/>
<circle cx="238.8" cy="113.6" r="0.85"/>
<circle cx="282.5" cy="113.5" r="0.85"/>
<circle cx="297.4" cy="113.7" r="0.85"/>
<circle cx="242.0" cy="113.0" r="0.85"/>
<circle cx="302.3" cy="113.2" r="0.85"/>
<circle cx="289.3" cy="113.6" r="0.85"/>
<circle cx="249.6" cy="113.4" r="0.85"/>
<circle cx="296.4" cy="113.4" r="0.85"/>
<circle cx="280.3" cy="113.7" r="0.85"/>
<circle cx="319.6" cy="113.6" r="0.85"/>
<circle cx="270.6" cy="113.1" r="0.85"/>
<circle cx="319.4" cy="113.5" r="0.85"/>
<circle cx="276.0" cy="113.1" r="0.85"/>
<circle cx="279.3" cy="113.7" r="0.85"/>
<circle cx="255.5" cy="113.5" r="0.85"/>
<circle cx="236.8" cy="113.7" r="0.85"/>
<circle cx="314.8" cy="113.1" r="0.85"/>
<circle cx="309.1" cy="113.5" r="0.85"/>
<circle cx="267.0" cy="113.0" r="0.85"/>
<circle cx="241.1" cy="113.4" r="0.85"/>
<circle cx="268.3" cy="113.1" r="0.85"/>
<circle cx="296.5" cy="112.9" r="0.85"/>
<circle cx="321.2" cy="113.3" r="0.85"/>
<circle cx="316.9" cy="113.3" r="0.85"/>
<circle cx="254.6" cy="113.3" r="0.85"/>
<circle cx="260.0" cy="113.0" r="0.85"/>
<circle cx="306.7" cy="113.7" r="0.85"/>
<circle cx="293.4" cy="113.2" r="0.85"/>
<circle cx="304.0" cy="113.7" r="0.85"/>
<circle cx="287.5" cy="113.7" r="0.85"/>
<circle cx="273.9" cy="113.5" r="0.85"/>
<circle cx="267.7" cy="113.4" r="0.85"/>
<circle cx="281.6" cy="113.7" r="0.85"/>
<circle cx="282.7" cy="113.7" r="0.85"/>
<circle cx="297.9" cy="113.8" r="0.85"/>
<circle cx="278.9" cy="113.8" r="0.85"/>
</g>
<g fill="#3a48aa">
<circle cx="264.6" cy="101.8" r="0.8"/>
<circle cx="265.2" cy="103.4" r="0.8"/>
<circle cx="268.6" cy="100.2" r="0.8"/>
<circle cx="271.4" cy="102.1" r="0.8"/>
<circle cx="268.4" cy="104.0" r="0.8"/>
<circle cx="268.6" cy="102.9" r="0.8"/>
<circle cx="271.1" cy="100.2" r="0.8"/>
<circle cx="268.8" cy="104.2" r="0.8"/>
<circle cx="267.8" cy="103.8" r="0.8"/>
<circle cx="267.4" cy="103.3" r="0.8"/>
<circle cx="265.5" cy="102.6" r="0.8"/>
<circle cx="271.5" cy="102.2" r="0.8"/>
<circle cx="265.0" cy="103.8" r="0.8"/>
<circle cx="264.8" cy="102.0" r="0.8"/>
<circle cx="262.5" cy="103.6" r="0.8"/>
<circle cx="268.9" cy="101.9" r="0.8"/>
<circle cx="271.3" cy="102.7" r="0.8"/>
<circle cx="270.3" cy="98.8" r="0.8"/>
<circle cx="264.6" cy="103.0" r="0.8"/>
<circle cx="264.9" cy="103.5" r="0.8"/>
<circle cx="266.5" cy="103.4" r="0.8"/>
<circle cx="271.5" cy="100.6" r="0.8"/>
<circle cx="263.3" cy="103.9" r="0.8"/>
<circle cx="262.9" cy="104.3" r="0.8"/>
<circle cx="270.4" cy="103.9" r="0.8"/>
<circle cx="268.9" cy="103.1" r="0.8"/>
<circle cx="271.2" cy="102.5" r="0.8"/>
<circle cx="262.1" cy="103.6" r="0.8"/>
<circle cx="269.0" cy="103.5" r="0.8"/>
<circle cx="268.2" cy="103.1" r="0.8"/>
<circle cx="266.8" cy="103.7" r="0.8"/>
<circle cx="266.8" cy="101.2" r="0.8"/>
<circle cx="270.2" cy="103.4" r="0.8"/>
<circle cx="267.4" cy="101.9" r="0.8"/>
<circle cx="263.2" cy="103.2" r="0.8"/>
<circle cx="268.6" cy="101.9" r="0.8"/>
<circle cx="264.6" cy="103.2" r="0.8"/>
<circle cx="271.2" cy="101.9" r="0.8"/>
<circle cx="271.2" cy="99.4" r="0.8"/>
<circle cx="264.7" cy="102.9" r="0.8"/>
<circle cx="271.4" cy="101.7" r="0.8"/>
<circle cx="271.5" cy="99.1" r="0.8"/>
<circle cx="265.1" cy="104.3" r="0.8"/>
<circle cx="265.6" cy="104.8" r="0.8"/>
<circle cx="271.1" cy="97.1" r="0.8"/>
<circle cx="270.7" cy="99.8" r="0.8"/>
<circle cx="262.4" cy="103.6" r="0.8"/>
<circle cx="268.6" cy="102.4" r="0.8"/>
<circle cx="269.2" cy="104.0" r="0.8"/>
<circle cx="264.6" cy="103.3" r="0.8"/>
<circle cx="264.9" cy="103.4" r="0.8"/>
<circle cx="270.5" cy="103.1" r="0.8"/>
<circle cx="271.2" cy="98.9" r="0.8"/>
<circle cx="268.2" cy="102.8" r="0.8"/>
<circle cx="261.7" cy="104.3" r="0.8"/>
<circle cx="269.6" cy="103.5" r="0.8"/>
<circle cx="270.2" cy="103.2" r="0.8"/>
<circle cx="268.0" cy="102.6" r="0.8"/>
<circle cx="268.5" cy="99.7" r="0.8"/>
<circle cx="269.6" cy="100.7" r="0.8"/>
<circle cx="268.0" cy="99.2" r="0.8"/>
<circle cx="267.1" cy="100.1" r="0.8"/>
<circle cx="269.5" cy="103.7" r="0.8"/>
<circle cx="270.7" cy="98.3" r="0.8"/>
<circle cx="271.2" cy="102.7" r="0.8"/>
<circle cx="263.7" cy="104.8" r="0.8"/>
<circle cx="265.7" cy="103.4" r="0.8"/>
<circle cx="270.6" cy="97.3" r="0.8"/>
<circle cx="263.5" cy="104.5" r="0.8"/>
<circle cx="271.1" cy="100.4" r="0.8"/>
<circle cx="271.4" cy="96.7" r="0.8"/>
<circle cx="269.8" cy="102.8" r="0.8"/>
<circle cx="271.4" cy="100.9" r="0.8"/>
<circle cx="267.5" cy="104.3" r="0.8"/>
<circle cx="265.8" cy="102.9" r="0.8"/>
<circle cx="264.1" cy="102.3" r="0.8"/>
<circle cx="263.3" cy="104.0" r="0.8"/>
<circle cx="269.7" cy="100.4" r="0.8"/>
<circle cx="269.1" cy="102.0" r="0.8"/>
<circle cx="270.4" cy="103.9" r="0.8"/>
<circle cx="271.3" cy="99.7" r="0.8"/>
<circle cx="262.7" cy="103.2" r="0.8"/>
<circle cx="270.3" cy="103.5" r="0.8"/>
<circle cx="271.3" cy="104.2" r="0.8"/>
<circle cx="264.1" cy="104.0" r="0.8"/>
<circle cx="269.5" cy="103.7" r="0.8"/>
<circle cx="265.8" cy="104.2" r="0.8"/>
<circle cx="262.1" cy="104.9" r="0.8"/>
<circle cx="262.5" cy="104.3" r="0.8"/>
<circle cx="268.8" cy="101.8" r="0.8"/>
<circle cx="270.5" cy="97.6" r="0.8"/>
<circle cx="268.0" cy="101.9" r="0.8"/>
<circle cx="263.3" cy="103.5" r="0.8"/>
<circle cx="263.8" cy="104.7" r="0.8"/>
<circle cx="270.1" cy="103.5" r="0.8"/>
<circle cx="252.0" cy="100.4" r="0.75"/>
<circle cx="239.7" cy="101.1" r="0.75"/>
<circle cx="256.1" cy="97.3" r="0.75"/>
<circle cx="258.6" cy="90.9" r="0.75"/>
<circle cx="252.7" cy="92.9" r="0.75"/>
<circle cx="257.4" cy="89.3" r="0.75"/>
<circle cx="241.7" cy="98.5" r="0.75"/>
<circle cx="238.5" cy="91.2" r="0.75"/>
<circle cx="261.9" cy="94.1" r="0.75"/>
<circle cx="240.5" cy="100.9" r="0.75"/>
<circle cx="240.6" cy="99.8" r="0.75"/>
<circle cx="242.1" cy="98.8" r="0.75"/>
<circle cx="238.2" cy="91.9" r="0.75"/>
<circle cx="256.5" cy="103.8" r="0.75"/>
<circle cx="248.5" cy="96.2" r="0.75"/>
<circle cx="259.3" cy="86.5" r="0.75"/>
<circle cx="255.1" cy="95.6" r="0.75"/>
<circle cx="261.8" cy="90.9" r="0.75"/>
<circle cx="251.3" cy="102.0" r="0.75"/>
<circle cx="238.4" cy="100.2" r="0.75"/>
<circle cx="265.1" cy="92.8" r="0.75"/>
<circle cx="255.1" cy="91.3" r="0.75"/>
<circle cx="254.9" cy="95.3" r="0.75"/>
<circle cx="245.3" cy="92.0" r="0.75"/>
<circle cx="264.1" cy="102.2" r="0.75"/>
<circle cx="253.1" cy="101.8" r="0.75"/>
<circle cx="242.9" cy="99.3" r="0.75"/>
<circle cx="257.3" cy="102.5" r="0.75"/>
<circle cx="260.1" cy="97.0" r="0.75"/>
<circle cx="260.4" cy="100.0" r="0.75"/>
<circle cx="259.8" cy="89.9" r="0.75"/>
<circle cx="265.6" cy="96.4" r="0.75"/>
<circle cx="247.6" cy="103.7" r="0.75"/>
<circle cx="242.1" cy="93.6" r="0.75"/>
<circle cx="261.1" cy="102.9" r="0.75"/>
<circle cx="267.6" cy="92.0" r="0.75"/>
<circle cx="268.8" cy="95.6" r="0.75"/>
<circle cx="249.6" cy="94.9" r="0.75"/>
<circle cx="254.1" cy="97.2" r="0.75"/>
<circle cx="253.6" cy="92.9" r="0.75"/>
<circle cx="266.5" cy="100.2" r="0.75"/>
<circle cx="252.6" cy="98.2" r="0.75"/>
<circle cx="248.8" cy="98.6" r="0.75"/>
<circle cx="237.5" cy="101.1" r="0.75"/>
<circle cx="238.9" cy="103.8" r="0.75"/>
<circle cx="242.3" cy="102.6" r="0.75"/>
<circle cx="259.6" cy="95.8" r="0.75"/>
<circle cx="239.3" cy="102.2" r="0.75"/>
<circle cx="252.1" cy="93.1" r="0.75"/>
<circle cx="252.8" cy="93.9" r="0.75"/>
<circle cx="236.5" cy="92.9" r="0.75"/>
<circle cx="261.0" cy="98.0" r="0.75"/>
<circle cx="250.8" cy="93.7" r="0.75"/>
<circle cx="237.1" cy="92.3" r="0.75"/>
<circle cx="243.4" cy="95.6" r="0.75"/>
<circle cx="245.6" cy="92.0" r="0.75"/>
<circle cx="242.7" cy="101.7" r="0.75"/>
<circle cx="261.8" cy="96.7" r="0.75"/>
<circle cx="237.6" cy="99.7" r="0.75"/>
<circle cx="242.3" cy="100.0" r="0.75"/>
<circle cx="245.7" cy="92.0" r="0.75"/>
<circle cx="236.8" cy="96.1" r="0.75"/>
<circle cx="249.3" cy="101.7" r="0.75"/>
<circle cx="241.1" cy="101.1" r="0.75"/>
<circle cx="265.5" cy="91.0" r="0.75"/>
<circle cx="251.7" cy="97.7" r="0.75"/>
<circle cx="263.1" cy="88.3" r="0.75"/>
<circle cx="246.3" cy="92.1" r="0.75"/>
<circle cx="256.1" cy="96.0" r="0.75"/>
<circle cx="252.0" cy="102.8" r="0.75"/>
<circle cx="269.8" cy="95.8" r="0.75"/>
<circle cx="257.2" cy="89.3" r="0.75"/>
<circle cx="243.9" cy="94.8" r="0.75"/>
<circle cx="250.0" cy="100.7" r="0.75"/>
<circle cx="249.7" cy="94.8" r="0.75"/>
<circle cx="260.7" cy="95.2" r="0.75"/>
<circle cx="267.7" cy="94.7" r="0.75"/>
<circle cx="254.7" cy="100.7" r="0.75"/>
<circle cx="245.6" cy="93.0" r="0.75"/>
<circle cx="262.1" cy="103.9" r="0.75"/>
<circle cx="249.7" cy="90.9" r="0.75"/>
<circle cx="267.0" cy="92.8" r="0.75"/>
<circle cx="249.0" cy="94.3" r="0.75"/>
<circle cx="270.1" cy="98.6" r="0.75"/>
<circle cx="268.8" cy="90.9" r="0.75"/>
<circle cx="236.9" cy="94.2" r="0.75"/>
<circle cx="249.3" cy="93.3" r="0.75"/>
<circle cx="265.3" cy="89.0" r="0.75"/>
<circle cx="256.2" cy="96.9" r="0.75"/>
<circle cx="270.2" cy="102.9" r="0.75"/>
<circle cx="238.8" cy="101.3" r="0.75"/>
<circle cx="252.3" cy="94.0" r="0.75"/>
<circle cx="245.0" cy="97.9" r="0.75"/>
<circle cx="246.2" cy="92.5" r="0.75"/>
<circle cx="262.6" cy="97.3" r="0.75"/>
<circle cx="249.9" cy="94.5" r="0.75"/>
<circle cx="250.2" cy="103.6" r="0.75"/>
<circle cx="261.2" cy="97.4" r="0.75"/>
<circle cx="240.7" cy="95.5" r="0.75"/>
<circle cx="260.2" cy="93.1" r="0.75"/>
<circle cx="259.3" cy="85.5" r="0.75"/>
<circle cx="246.1" cy="91.9" r="0.75"/>
<circle cx="256.1" cy="101.9" r="0.75"/>
<circle cx="243.1" cy="101.5" r="0.75"/>
<circle cx="241.1" cy="93.4" r="0.75"/>
<circle cx="240.7" cy="96.1" r="0.75"/>
<circle cx="247.7" cy="103.6" r="0.75"/>
<circle cx="259.9" cy="101.7" r="0.75"/>
<circle cx="268.0" cy="96.7" r="0.75"/>
<circle cx="268.0" cy="97.2" r="0.75"/>
<circle cx="264.3" cy="101.0" r="0.75"/>
<circle cx="242.7" cy="90.4" r="0.75"/>
<circle cx="248.1" cy="95.5" r="0.75"/>
<circle cx="263.5" cy="96.9" r="0.75"/>
<circle cx="239.9" cy="103.0" r="0.75"/>
<circle cx="256.5" cy="99.9" r="0.75"/>
<circle cx="261.9" cy="101.3" r="0.75"/>
<circle cx="244.9" cy="99.4" r="0.75"/>
<circle cx="236.9" cy="99.6" r="0.75"/>
<circle cx="245.7" cy="99.0" r="0.75"/>
<circle cx="243.7" cy="103.2" r="0.75"/>
<circle cx="237.0" cy="100.6" r="0.75"/>
<circle cx="244.7" cy="99.6" r="0.75"/>
<circle cx="269.9" cy="96.6" r="0.75"/>
<circle cx="265.5" cy="92.2" r="0.75"/>
</g>
<g fill="#e03322">
<circle cx="295.8" cy="104.2" r="0.8"/>
<circle cx="307.4" cy="99.2" r="0.8"/>
<circle cx="311.1" cy="98.7" r="0.8"/>
<circle cx="290.2" cy="98.1" r="0.8"/>
<circle cx="317.3" cy="100.0" r="0.8"/>
<circle cx="288.9" cy="102.5" r="0.8"/>
<circle cx="295.5" cy="97.1" r="0.8"/>
<circle cx="297.7" cy="100.8" r="0.8"/>
<circle cx="295.6" cy="98.2" r="0.8"/>
<circle cx="292.6" cy="100.7" r="0.8"/>
<circle cx="315.3" cy="102.0" r="0.8"/>
<circle cx="296.2" cy="99.9" r="0.8"/>
<circle cx="294.9" cy="98.3" r="0.8"/>
<circle cx="317.5" cy="103.1" r="0.8"/>
<circle cx="290.2" cy="101.7" r="0.8"/>
<circle cx="289.0" cy="98.8" r="0.8"/>
<circle cx="322.7" cy="102.6" r="0.8"/>
<circle cx="306.8" cy="99.2" r="0.8"/>
<circle cx="301.0" cy="99.4" r="0.8"/>
<circle cx="310.1" cy="97.6" r="0.8"/>
<circle cx="298.6" cy="103.1" r="0.8"/>
<circle cx="304.0" cy="104.2" r="0.8"/>
<circle cx="299.2" cy="99.7" r="0.8"/>
<circle cx="319.0" cy="101.4" r="0.8"/>
<circle cx="324.0" cy="102.0" r="0.8"/>
<circle cx="323.9" cy="101.7" r="0.8"/>
<circle cx="299.8" cy="102.8" r="0.8"/>
<circle cx="313.2" cy="99.0" r="0.8"/>
<circle cx="302.6" cy="97.0" r="0.8"/>
<circle cx="311.3" cy="98.0" r="0.8"/>
<circle cx="288.7" cy="99.0" r="0.8"/>
<circle cx="319.9" cy="103.4" r="0.8"/>
<circle cx="318.5" cy="103.1" r="0.8"/>
<circle cx="318.8" cy="100.1" r="0.8"/>
<circle cx="318.1" cy="104.1" r="0.8"/>
<circle cx="295.1" cy="99.7" r="0.8"/>
<circle cx="296.6" cy="101.0" r="0.8"/>
<circle cx="322.9" cy="101.6" r="0.8"/>
<circle cx="294.0" cy="103.1" r="0.8"/>
<circle cx="316.2" cy="100.8" r="0.8"/>
<circle cx="288.9" cy="98.2" r="0.8"/>
<circle cx="294.7" cy="103.9" r="0.8"/>
<circle cx="320.2" cy="100.7" r="0.8"/>
<circle cx="291.9" cy="100.0" r="0.8"/>
<circle cx="322.3" cy="101.1" r="0.8"/>
<circle cx="321.0" cy="101.0" r="0.8"/>
<circle cx="322.1" cy="103.1" r="0.8"/>
<circle cx="313.7" cy="98.3" r="0.8"/>
<circle cx="317.7" cy="101.0" r="0.8"/>
<circle cx="318.5" cy="100.4" r="0.8"/>
<circle cx="321.6" cy="101.0" r="0.8"/>
<circle cx="319.7" cy="103.7" r="0.8"/>
<circle cx="300.2" cy="99.8" r="0.8"/>
<circle cx="288.8" cy="102.6" r="0.8"/>
<circle cx="319.7" cy="99.8" r="0.8"/>
<circle cx="305.6" cy="99.7" r="0.8"/>
<circle cx="292.3" cy="100.2" r="0.8"/>
<circle cx="321.9" cy="103.4" r="0.8"/>
<circle cx="311.7" cy="98.1" r="0.8"/>
<circle cx="304.3" cy="100.4" r="0.8"/>
<circle cx="313.8" cy="103.2" r="0.8"/>
<circle cx="300.2" cy="102.3" r="0.8"/>
<circle cx="290.7" cy="102.7" r="0.8"/>
<circle cx="318.2" cy="100.3" r="0.8"/>
<circle cx="302.5" cy="103.4" r="0.8"/>
<circle cx="306.4" cy="101.8" r="0.8"/>
<circle cx="310.7" cy="97.6" r="0.8"/>
<circle cx="301.0" cy="101.3" r="0.8"/>
<circle cx="318.0" cy="99.7" r="0.8"/>
<circle cx="313.0" cy="101.9" r="0.8"/>
<circle cx="321.7" cy="104.5" r="0.8"/>
<circle cx="324.0" cy="102.2" r="0.8"/>
<circle cx="290.6" cy="103.3" r="0.8"/>
<circle cx="316.9" cy="98.9" r="0.8"/>
<circle cx="291.8" cy="99.7" r="0.8"/>
<circle cx="319.1" cy="101.1" r="0.8"/>
<circle cx="321.8" cy="101.2" r="0.8"/>
<circle cx="294.5" cy="103.9" r="0.8"/>
<circle cx="320.4" cy="103.5" r="0.8"/>
<circle cx="319.8" cy="100.0" r="0.8"/>
<circle cx="301.9" cy="97.5" r="0.8"/>
<circle cx="295.7" cy="100.0" r="0.8"/>
<circle cx="292.7" cy="99.5" r="0.8"/>
<circle cx="293.3" cy="100.9" r="0.8"/>
<circle cx="289.4" cy="97.9" r="0.8"/>
<circle cx="310.2" cy="101.6" r="0.8"/>
<circle cx="296.2" cy="97.7" r="0.8"/>
<circle cx="305.6" cy="99.3" r="0.8"/>
<circle cx="290.0" cy="101.8" r="0.8"/>
<circle cx="304.8" cy="97.0" r="0.8"/>
<circle cx="295.4" cy="104.2" r="0.8"/>
<circle cx="307.4" cy="102.5" r="0.8"/>
<circle cx="289.9" cy="103.8" r="0.8"/>
<circle cx="305.3" cy="100.5" r="0.8"/>
<circle cx="297.6" cy="98.2" r="0.8"/>
<circle cx="290.2" cy="102.3" r="0.8"/>
<circle cx="305.8" cy="102.2" r="0.8"/>
<circle cx="323.2" cy="103.5" r="0.8"/>
<circle cx="304.4" cy="96.1" r="0.8"/>
<circle cx="306.7" cy="102.3" r="0.8"/>
<circle cx="305.1" cy="95.8" r="0.8"/>
<circle cx="318.2" cy="102.7" r="0.8"/>
<circle cx="291.0" cy="97.8" r="0.8"/>
<circle cx="298.8" cy="103.8" r="0.8"/>
<circle cx="303.1" cy="97.5" r="0.8"/>
<circle cx="301.4" cy="97.2" r="0.8"/>
<circle cx="322.1" cy="102.1" r="0.8"/>
<circle cx="320.0" cy="101.7" r="0.8"/>
<circle cx="291.4" cy="99.4" r="0.8"/>
<circle cx="297.2" cy="97.4" r="0.8"/>
<circle cx="320.6" cy="102.4" r="0.8"/>
<circle cx="313.5" cy="104.3" r="0.8"/>
<circle cx="308.7" cy="98.8" r="0.8"/>
<circle cx="321.4" cy="104.5" r="0.8"/>
<circle cx="295.2" cy="98.1" r="0.8"/>
<circle cx="310.1" cy="100.6" r="0.8"/>
<circle cx="323.4" cy="104.5" r="0.8"/>
<circle cx="319.6" cy="104.1" r="0.8"/>
<circle cx="296.8" cy="98.7" r="0.8"/>
<circle cx="290.3" cy="99.0" r="0.8"/>
<circle cx="299.1" cy="97.3" r="0.8"/>
<circle cx="309.6" cy="102.2" r="0.8"/>
<circle cx="316.7" cy="98.9" r="0.8"/>
<circle cx="316.6" cy="104.1" r="0.8"/>
<circle cx="303.9" cy="104.0" r="0.8"/>
<circle cx="304.1" cy="101.8" r="0.8"/>
<circle cx="307.0" cy="96.9" r="0.8"/>
<circle cx="315.0" cy="99.1" r="0.8"/>
<circle cx="290.4" cy="100.9" r="0.8"/>
<circle cx="302.9" cy="97.8" r="0.8"/>
<circle cx="320.2" cy="104.8" r="0.8"/>
<circle cx="319.3" cy="102.8" r="0.8"/>
<circle cx="289.7" cy="100.1" r="0.8"/>
<circle cx="307.2" cy="96.2" r="0.8"/>
<circle cx="317.1" cy="101.6" r="0.8"/>
<circle cx="316.2" cy="98.9" r="0.8"/>
<circle cx="306.6" cy="101.5" r="0.8"/>
<circle cx="311.6" cy="97.8" r="0.8"/>
<circle cx="313.7" cy="99.9" r="0.8"/>
<circle cx="294.0" cy="98.5" r="0.8"/>
<circle cx="309.6" cy="98.4" r="0.8"/>
<circle cx="304.5" cy="104.3" r="0.8"/>
<circle cx="297.2" cy="99.2" r="0.8"/>
<circle cx="293.8" cy="101.7" r="0.8"/>
<circle cx="302.7" cy="103.1" r="0.8"/>
<circle cx="298.1" cy="100.3" r="0.8"/>
<circle cx="321.2" cy="101.6" r="0.8"/>
<circle cx="292.0" cy="101.4" r="0.8"/>
<circle cx="317.3" cy="104.9" r="0.8"/>
<circle cx="313.6" cy="99.2" r="0.8"/>
<circle cx="297.1" cy="104.7" r="0.8"/>
<circle cx="299.1" cy="101.4" r="0.8"/>
<circle cx="312.0" cy="104.0" r="0.8"/>
<circle cx="294.1" cy="98.5" r="0.8"/>
<circle cx="289.9" cy="100.2" r="0.8"/>
<circle cx="301.4" cy="101.2" r="0.8"/>
<circle cx="302.7" cy="101.2" r="0.8"/>
<circle cx="316.8" cy="98.9" r="0.8"/>
<circle cx="308.5" cy="98.6" r="0.8"/>
<circle cx="318.6" cy="104.1" r="0.8"/>
<circle cx="304.8" cy="104.5" r="0.8"/>
<circle cx="315.3" cy="98.6" r="0.8"/>
<circle cx="293.1" cy="101.0" r="0.8"/>
<circle cx="310.4" cy="100.0" r="0.8"/>
<circle cx="290.4" cy="101.4" r="0.8"/>
<circle cx="300.2" cy="98.9" r="0.8"/>
<circle cx="320.5" cy="104.4" r="0.8"/>
<circle cx="307.4" cy="100.3" r="0.8"/>
<circle cx="301.9" cy="102.6" r="0.8"/>
<circle cx="304.2" cy="103.4" r="0.8"/>
<circle cx="312.3" cy="102.1" r="0.8"/>
<circle cx="319.7" cy="103.4" r="0.8"/>
<circle cx="295.7" cy="102.8" r="0.8"/>
<circle cx="314.3" cy="98.6" r="0.8"/>
<circle cx="319.5" cy="101.9" r="0.8"/>
<circle cx="311.0" cy="101.5" r="0.8"/>
<circle cx="307.3" cy="103.5" r="0.8"/>
<circle cx="319.7" cy="102.4" r="0.8"/>
<circle cx="305.3" cy="103.6" r="0.8"/>
<circle cx="306.5" cy="102.6" r="0.8"/>
<circle cx="323.9" cy="104.5" r="0.8"/>
<circle cx="300.7" cy="103.9" r="0.8"/>
<circle cx="295.4" cy="100.1" r="0.8"/>
<circle cx="290.8" cy="99.8" r="0.8"/>
<circle cx="309.6" cy="98.1" r="0.8"/>
<circle cx="300.3" cy="98.6" r="0.8"/>
<circle cx="300.1" cy="98.2" r="0.8"/>
<circle cx="324.0" cy="104.1" r="0.8"/>
<circle cx="312.6" cy="98.4" r="0.8"/>
<circle cx="297.0" cy="104.2" r="0.8"/>
<circle cx="306.4" cy="99.8" r="0.8"/>
<circle cx="310.0" cy="98.2" r="0.8"/>
<circle cx="300.0" cy="97.2" r="0.8"/>
<circle cx="313.8" cy="102.6" r="0.8"/>
<circle cx="296.4" cy="100.4" r="0.8"/>
<circle cx="319.1" cy="100.1" r="0.8"/>
<circle cx="307.1" cy="99.7" r="0.8"/>
<circle cx="305.8" cy="97.8" r="0.8"/>
<circle cx="289.4" cy="99.6" r="0.8"/>
<circle cx="306.5" cy="99.4" r="0.8"/>
<circle cx="319.0" cy="104.1" r="0.8"/>
<circle cx="306.4" cy="96.2" r="0.8"/>
<circle cx="296.9" cy="99.0" r="0.8"/>
<circle cx="298.0" cy="97.7" r="0.8"/>
<circle cx="311.0" cy="103.4" r="0.8"/>
<circle cx="293.2" cy="101.6" r="0.8"/>
<circle cx="304.0" cy="97.3" r="0.8"/>
<circle cx="322.3" cy="102.6" r="0.8"/>
<circle cx="291.6" cy="100.9" r="0.8"/>
<circle cx="322.4" cy="104.5" r="0.8"/>
<circle cx="303.9" cy="101.9" r="0.8"/>
<circle cx="311.3" cy="102.7" r="0.8"/>
<circle cx="290.1" cy="103.2" r="0.8"/>
<circle cx="306.9" cy="100.6" r="0.8"/>
<circle cx="318.6" cy="103.4" r="0.8"/>
<circle cx="311.5" cy="97.3" r="0.8"/>
<circle cx="289.5" cy="101.0" r="0.8"/>
<circle cx="295.6" cy="101.0" r="0.8"/>
<circle cx="297.3" cy="97.8" r="0.8"/>
<circle cx="297.3" cy="96.1" r="0.8"/>
<circle cx="295.5" cy="101.8" r="0.8"/>
<circle cx="311.0" cy="103.5" r="0.8"/>
<circle cx="294.3" cy="101.6" r="0.8"/>
<circle cx="311.9" cy="98.1" r="0.8"/>
<circle cx="309.2" cy="101.9" r="0.8"/>
<circle cx="308.3" cy="96.2" r="0.8"/>
<circle cx="301.2" cy="103.5" r="0.8"/>
<circle cx="289.9" cy="101.2" r="0.8"/>
<circle cx="322.6" cy="101.4" r="0.8"/>
<circle cx="313.1" cy="102.7" r="0.8"/>
<circle cx="301.5" cy="102.4" r="0.8"/>
<circle cx="303.8" cy="97.5" r="0.8"/>
<circle cx="289.6" cy="100.8" r="0.8"/>
<circle cx="295.8" cy="99.1" r="0.8"/>
<circle cx="316.6" cy="99.7" r="0.8"/>
<circle cx="300.5" cy="96.5" r="0.8"/>
<circle cx="289.1" cy="102.4" r="0.8"/>
<circle cx="293.5" cy="98.9" r="0.8"/>
<circle cx="305.4" cy="98.9" r="0.8"/>
<circle cx="290.5" cy="103.8" r="0.8"/>
<circle cx="315.1" cy="100.0" r="0.8"/>
<circle cx="321.5" cy="102.8" r="0.8"/>
<circle cx="309.5" cy="100.7" r="0.8"/>
<circle cx="319.9" cy="103.1" r="0.8"/>
<circle cx="305.7" cy="97.4" r="0.8"/>
<circle cx="301.4" cy="100.3" r="0.8"/>
<circle cx="291.9" cy="97.3" r="0.8"/>
<circle cx="306.0" cy="100.1" r="0.8"/>
<circle cx="294.1" cy="101.0" r="0.8"/>
<circle cx="300.6" cy="102.7" r="0.8"/>
<circle cx="301.0" cy="101.1" r="0.8"/>
<circle cx="311.1" cy="104.0" r="0.8"/>
<circle cx="324.2" cy="101.8" r="0.8"/>
<circle cx="289.0" cy="101.4" r="0.8"/>
<circle cx="314.6" cy="104.4" r="0.8"/>
<circle cx="320.4" cy="100.2" r="0.8"/>
<circle cx="290.9" cy="102.0" r="0.8"/>
<circle cx="323.3" cy="103.7" r="0.8"/>
<circle cx="314.7" cy="98.9" r="0.8"/>
<circle cx="288.8" cy="101.2" r="0.8"/>
<circle cx="299.9" cy="97.1" r="0.8"/>
<circle cx="291.2" cy="99.5" r="0.8"/>
<circle cx="289.4" cy="100.3" r="0.8"/>
<circle cx="305.1" cy="96.3" r="0.8"/>
<circle cx="324.0" cy="101.9" r="0.8"/>
<circle cx="313.2" cy="101.6" r="0.8"/>
<circle cx="309.3" cy="100.8" r="0.8"/>
<circle cx="314.9" cy="97.9" r="0.8"/>
<circle cx="311.8" cy="103.3" r="0.8"/>
<circle cx="307.8" cy="99.7" r="0.8"/>
<circle cx="320.6" cy="103.1" r="0.8"/>
<circle cx="302.2" cy="98.1" r="0.8"/>
<circle cx="309.8" cy="100.2" r="0.8"/>
<circle cx="309.7" cy="102.5" r="0.8"/>
<circle cx="291.5" cy="101.1" r="0.8"/>
<circle cx="307.1" cy="98.0" r="0.8"/>
<circle cx="302.3" cy="101.2" r="0.8"/>
<circle cx="322.9" cy="101.6" r="0.8"/>
<circle cx="295.6" cy="97.3" r="0.8"/>
<circle cx="300.3" cy="104.2" r="0.8"/>
<circle cx="316.9" cy="101.2" r="0.8"/>
<circle cx="321.9" cy="102.9" r="0.8"/>
<circle cx="289.9" cy="101.6" r="0.8"/>
<circle cx="313.2" cy="102.7" r="0.8"/>
<circle cx="311.8" cy="102.6" r="0.8"/>
<circle cx="312.1" cy="104.7" r="0.8"/>
<circle cx="313.6" cy="103.0" r="0.8"/>
<circle cx="301.9" cy="95.8" r="0.8"/>
<circle cx="292.0" cy="104.0" r="0.8"/>
<circle cx="323.3" cy="101.9" r="0.8"/>
<circle cx="308.4" cy="99.8" r="0.8"/>
<circle cx="304.5" cy="98.6" r="0.8"/>
<circle cx="317.6" cy="103.8" r="0.8"/>
<circle cx="300.8" cy="99.7" r="0.8"/>
<circle cx="293.9" cy="103.7" r="0.8"/>
<circle cx="311.2" cy="96.8" r="0.8"/>
<circle cx="317.5" cy="102.6" r="0.8"/>
<circle cx="300.1" cy="95.8" r="0.8"/>
<circle cx="317.8" cy="101.0" r="0.8"/>
<circle cx="291.2" cy="103.6" r="0.8"/>
<circle cx="315.1" cy="101.9" r="0.8"/>
<circle cx="311.9" cy="103.2" r="0.8"/>
<circle cx="312.7" cy="100.5" r="0.8"/>
<circle cx="292.2" cy="103.5" r="0.8"/>
<circle cx="297.0" cy="100.9" r="0.8"/>
<circle cx="307.4" cy="96.4" r="0.8"/>
<circle cx="294.9" cy="102.8" r="0.8"/>
<circle cx="307.1" cy="102.4" r="0.8"/>
<circle cx="288.8" cy="101.0" r="0.8"/>
<circle cx="302.8" cy="98.4" r="0.8"/>
<circle cx="306.3" cy="103.9" r="0.8"/>
<circle cx="303.8" cy="103.7" r="0.8"/>
<circle cx="291.1" cy="98.2" r="0.8"/>
<circle cx="321.0" cy="100.5" r="0.8"/>
<circle cx="314.5" cy="100.1" r="0.8"/>
<circle cx="306.1" cy="99.7" r="0.8"/>
<circle cx="299.4" cy="96.7" r="0.8"/>
<circle cx="304.7" cy="96.4" r="0.8"/>
<circle cx="301.0" cy="102.1" r="0.8"/>
<circle cx="311.0" cy="98.8" r="0.8"/>
<circle cx="305.5" cy="102.4" r="0.8"/>
<circle cx="291.3" cy="99.7" r="0.8"/>
<circle cx="293.0" cy="97.8" r="0.8"/>
<circle cx="304.5" cy="97.9" r="0.8"/>
<circle cx="297.8" cy="96.6" r="0.8"/>
<circle cx="296.7" cy="96.1" r="0.8"/>
<circle cx="290.7" cy="99.1" r="0.8"/>
<circle cx="298.8" cy="96.2" r="0.8"/>
<circle cx="309.8" cy="98.3" r="0.8"/>
<circle cx="307.7" cy="97.8" r="0.8"/>
<circle cx="298.2" cy="100.9" r="0.8"/>
<circle cx="311.9" cy="104.2" r="0.8"/>
<circle cx="298.4" cy="102.6" r="0.8"/>
<circle cx="294.5" cy="102.3" r="0.8"/>
<circle cx="289.5" cy="100.6" r="0.8"/>
<circle cx="303.1" cy="97.7" r="0.8"/>
<circle cx="323.0" cy="102.6" r="0.8"/>
<circle cx="311.7" cy="97.5" r="0.8"/>
<circle cx="323.1" cy="103.1" r="0.8"/>
<circle cx="319.4" cy="102.3" r="0.8"/>
<circle cx="304.5" cy="102.0" r="0.8"/>
<circle cx="314.9" cy="102.7" r="0.8"/>
<circle cx="299.4" cy="100.3" r="0.8"/>
<circle cx="289.2" cy="99.0" r="0.8"/>
<circle cx="288.7" cy="103.7" r="0.8"/>
<circle cx="320.6" cy="101.1" r="0.8"/>
<circle cx="289.3" cy="103.0" r="0.8"/>
<circle cx="302.8" cy="104.6" r="0.8"/>
<circle cx="296.5" cy="101.3" r="0.8"/>
<circle cx="323.7" cy="104.6" r="0.8"/>
<circle cx="313.2" cy="102.9" r="0.8"/>
<circle cx="310.6" cy="104.7" r="0.8"/>
<circle cx="315.3" cy="98.4" r="0.8"/>
<circle cx="290.6" cy="97.6" r="0.8"/>
<circle cx="319.2" cy="102.9" r="0.8"/>
<circle cx="305.4" cy="104.8" r="0.8"/>
<circle cx="294.7" cy="104.2" r="0.8"/>
<circle cx="300.4" cy="102.1" r="0.8"/>
<circle cx="290.9" cy="104.2" r="0.8"/>
<circle cx="294.8" cy="104.2" r="0.8"/>
<circle cx="293.1" cy="97.9" r="0.8"/>
<circle cx="303.3" cy="103.7" r="0.8"/>
<circle cx="319.5" cy="103.7" r="0.8"/>
<circle cx="296.1" cy="104.3" r="0.8"/>
<circle cx="318.4" cy="102.0" r="0.8"/>
<circle cx="308.9" cy="100.0" r="0.8"/>
<circle cx="319.0" cy="99.9" r="0.8"/>
<circle cx="317.0" cy="101.2" r="0.8"/>
<circle cx="313.2" cy="102.8" r="0.8"/>
<circle cx="319.3" cy="101.9" r="0.8"/>
<circle cx="289.5" cy="102.1" r="0.8"/>
<circle cx="322.5" cy="103.6" r="0.8"/>
<circle cx="292.6" cy="97.0" r="0.8"/>
<circle cx="303.4" cy="99.1" r="0.8"/>
<circle cx="301.0" cy="102.0" r="0.8"/>
<circle cx="299.6" cy="96.2" r="0.8"/>
<circle cx="305.6" cy="98.0" r="0.8"/>
<circle cx="310.1" cy="102.3" r="0.8"/>
<circle cx="321.0" cy="100.7" r="0.8"/>
<circle cx="293.2" cy="104.3" r="0.8"/>
<circle cx="314.2" cy="103.4" r="0.8"/>
<circle cx="319.5" cy="102.0" r="0.8"/>
<circle cx="306.5" cy="101.9" r="0.8"/>
<circle cx="308.0" cy="101.6" r="0.8"/>
<circle cx="289.2" cy="100.8" r="0.8"/>
<circle cx="319.7" cy="101.2" r="0.8"/>
<circle cx="304.7" cy="96.9" r="0.8"/>
<circle cx="290.2" cy="102.9" r="0.8"/>
<circle cx="301.2" cy="104.6" r="0.8"/>
<circle cx="291.5" cy="98.5" r="0.8"/>
<circle cx="304.9" cy="98.5" r="0.8"/>
<circle cx="294.7" cy="97.0" r="0.8"/>
<circle cx="321.5" cy="103.2" r="0.8"/>
<circle cx="295.2" cy="101.4" r="0.8"/>
<circle cx="298.3" cy="100.9" r="0.8"/>
<circle cx="312.7" cy="98.7" r="0.8"/>
<circle cx="320.7" cy="101.8" r="0.8"/>
<circle cx="317.8" cy="100.7" r="0.8"/>
<circle cx="291.2" cy="103.2" r="0.8"/>
<circle cx="296.6" cy="103.6" r="0.8"/>
<circle cx="297.4" cy="98.5" r="0.8"/>
<circle cx="314.9" cy="101.3" r="0.8"/>
<circle cx="307.6" cy="98.8" r="0.8"/>
<circle cx="312.7" cy="101.1" r="0.8"/>
<circle cx="301.0" cy="99.6" r="0.8"/>
<circle cx="308.9" cy="103.3" r="0.8"/>
<circle cx="304.5" cy="99.8" r="0.8"/>
<circle cx="315.5" cy="102.5" r="0.8"/>
<circle cx="322.9" cy="102.2" r="0.8"/>
<circle cx="310.4" cy="100.2" r="0.8"/>
<circle cx="294.3" cy="101.5" r="0.8"/>
<circle cx="299.2" cy="100.0" r="0.8"/>
<circle cx="291.0" cy="104.6" r="0.8"/>
<circle cx="324.4" cy="104.9" r="0.8"/>
<circle cx="298.8" cy="100.7" r="0.8"/>
<circle cx="324.0" cy="103.5" r="0.8"/>
<circle cx="298.4" cy="100.0" r="0.8"/>
<circle cx="310.6" cy="97.4" r="0.8"/>
<circle cx="312.9" cy="104.0" r="0.8"/>
<circle cx="320.8" cy="100.6" r="0.8"/>
<circle cx="292.0" cy="98.2" r="0.8"/>
<circle cx="321.2" cy="101.1" r="0.8"/>
<circle cx="321.9" cy="103.4" r="0.8"/>
<circle cx="310.9" cy="98.2" r="0.8"/>
<circle cx="318.2" cy="101.1" r="0.8"/>
<circle cx="320.1" cy="101.4" r="0.8"/>
<circle cx="301.7" cy="96.0" r="0.8"/>
<circle cx="302.7" cy="103.6" r="0.8"/>
<circle cx="321.2" cy="103.0" r="0.8"/>
<circle cx="316.8" cy="99.1" r="0.8"/>
<circle cx="316.9" cy="90.1" r="0.72"/>
<circle cx="301.9" cy="93.0" r="0.72"/>
<circle cx="304.2" cy="87.8" r="0.72"/>
<circle cx="301.6" cy="93.9" r="0.72"/>
<circle cx="316.7" cy="96.7" r="0.72"/>
<circle cx="317.1" cy="92.3" r="0.72"/>
<circle cx="313.5" cy="90.3" r="0.72"/>
<circle cx="299.3" cy="86.2" r="0.72"/>
<circle cx="311.6" cy="94.8" r="0.72"/>
<circle cx="294.7" cy="96.2" r="0.72"/>
<circle cx="292.4" cy="95.5" r="0.72"/>
<circle cx="295.7" cy="96.9" r="0.72"/>
<circle cx="293.0" cy="96.7" r="0.72"/>
<circle cx="298.4" cy="96.7" r="0.72"/>
<circle cx="301.4" cy="96.7" r="0.72"/>
<circle cx="296.4" cy="91.9" r="0.72"/>
<circle cx="303.6" cy="90.2" r="0.72"/>
<circle cx="298.8" cy="90.8" r="0.72"/>
<circle cx="300.5" cy="94.0" r="0.72"/>
<circle cx="299.6" cy="96.7" r="0.72"/>
<circle cx="324.0" cy="95.8" r="0.72"/>
<circle cx="291.3" cy="91.4" r="0.72"/>
<circle cx="293.1" cy="96.7" r="0.72"/>
<circle cx="298.7" cy="96.2" r="0.72"/>
<circle cx="303.5" cy="95.1" r="0.72"/>
<circle cx="301.4" cy="88.5" r="0.72"/>
<circle cx="303.8" cy="85.9" r="0.72"/>
<circle cx="314.3" cy="86.3" r="0.72"/>
<circle cx="305.4" cy="95.0" r="0.72"/>
<circle cx="310.3" cy="83.6" r="0.72"/>
<circle cx="293.9" cy="90.2" r="0.72"/>
<circle cx="318.3" cy="92.4" r="0.72"/>
<circle cx="295.3" cy="83.7" r="0.72"/>
<circle cx="302.0" cy="85.4" r="0.72"/>
<circle cx="306.8" cy="96.6" r="0.72"/>
<circle cx="308.8" cy="95.4" r="0.72"/>
<circle cx="301.4" cy="86.1" r="0.72"/>
<circle cx="320.8" cy="92.0" r="0.72"/>
<circle cx="312.8" cy="90.5" r="0.72"/>
<circle cx="306.0" cy="88.7" r="0.72"/>
<circle cx="311.2" cy="83.8" r="0.72"/>
<circle cx="317.6" cy="86.2" r="0.72"/>
<circle cx="292.5" cy="93.5" r="0.72"/>
<circle cx="296.2" cy="95.4" r="0.72"/>
<circle cx="293.6" cy="86.6" r="0.72"/>
</g>
<g fill="#b83a3a">
<circle cx="304.4" cy="84.5" r="0.9"/>
<circle cx="312.4" cy="78.7" r="0.9"/>
<circle cx="318.3" cy="76.5" r="0.9"/>
<circle cx="316.8" cy="72.1" r="0.9"/>
<circle cx="308.8" cy="74.3" r="0.9"/>
<circle cx="320.4" cy="81.8" r="0.9"/>
<circle cx="313.9" cy="87.2" r="0.9"/>
<circle cx="322.6" cy="68.5" r="0.9"/>
<circle cx="300.0" cy="85.8" r="0.9"/>
<circle cx="310.2" cy="83.2" r="0.9"/>
</g>
</g>
<circle cx="323.50" cy="50.00" r="1.10" fill="#c8202a" />
<circle cx="320.80" cy="25.40" r="0.60" fill="#c8202a" />
<rect x="234.50" y="22.90" width="91.30" height="92.40" fill="none" stroke="#444" stroke-width="1" />
<line x1="232.50" y1="113.80" x2="234.50" y2="113.80" stroke="#444" stroke-width="0.8" />
<text x="231.60" y="116.60" font-size="8.2" text-anchor="end" fill="#222"  stroke="#222" stroke-width="0.16">0</text>
<line x1="232.50" y1="91.60" x2="234.50" y2="91.60" stroke="#444" stroke-width="0.8" />
<text x="231.60" y="94.40" font-size="8.2" text-anchor="end" fill="#222"  stroke="#222" stroke-width="0.16">5</text>
<line x1="232.50" y1="69.40" x2="234.50" y2="69.40" stroke="#444" stroke-width="0.8" />
<text x="231.60" y="72.20" font-size="8.2" text-anchor="end" fill="#222"  stroke="#222" stroke-width="0.16">10</text>
<line x1="232.50" y1="47.20" x2="234.50" y2="47.20" stroke="#444" stroke-width="0.8" />
<text x="231.60" y="50.00" font-size="8.2" text-anchor="end" fill="#222"  stroke="#222" stroke-width="0.16">15</text>
<line x1="232.50" y1="25.00" x2="234.50" y2="25.00" stroke="#444" stroke-width="0.8" />
<text x="231.60" y="27.80" font-size="8.2" text-anchor="end" fill="#222"  stroke="#222" stroke-width="0.16">20</text>
<line x1="236.50" y1="115.30" x2="236.50" y2="117.30" stroke="#444" stroke-width="0.8" />
<text x="236.50" y="125.00" font-size="8.2" text-anchor="middle" fill="#222"  stroke="#222" stroke-width="0.16">-6</text>
<line x1="251.10" y1="115.30" x2="251.10" y2="117.30" stroke="#444" stroke-width="0.8" />
<text x="251.10" y="125.00" font-size="8.2" text-anchor="middle" fill="#222"  stroke="#222" stroke-width="0.16">-4</text>
<line x1="265.70" y1="115.30" x2="265.70" y2="117.30" stroke="#444" stroke-width="0.8" />
<text x="265.70" y="125.00" font-size="8.2" text-anchor="middle" fill="#222"  stroke="#222" stroke-width="0.16">-2</text>
<line x1="280.30" y1="115.30" x2="280.30" y2="117.30" stroke="#444" stroke-width="0.8" />
<text x="280.30" y="125.00" font-size="8.2" text-anchor="middle" fill="#222"  stroke="#222" stroke-width="0.16">0</text>
<line x1="294.90" y1="115.30" x2="294.90" y2="117.30" stroke="#444" stroke-width="0.8" />
<text x="294.90" y="125.00" font-size="8.2" text-anchor="middle" fill="#222"  stroke="#222" stroke-width="0.16">2</text>
<line x1="309.50" y1="115.30" x2="309.50" y2="117.30" stroke="#444" stroke-width="0.8" />
<text x="309.50" y="125.00" font-size="8.2" text-anchor="middle" fill="#222"  stroke="#222" stroke-width="0.16">4</text>
<line x1="324.10" y1="115.30" x2="324.10" y2="117.30" stroke="#444" stroke-width="0.8" />
<text x="324.10" y="125.00" font-size="8.2" text-anchor="middle" fill="#222"  stroke="#222" stroke-width="0.16">6</text>
<text x="283.30" y="135.80" font-size="8.2" text-anchor="middle" fill="#222"  stroke="#222" stroke-width="0.16">log<tspan font-size="5.5" dy="1.8">2</tspan><tspan dy="-1.8"> (FC)</tspan></text>
<g transform="translate(218.0,72.4) rotate(-90)">
<text x="0.00" y="0.00" font-size="8.2" text-anchor="middle" fill="#222"  stroke="#222" stroke-width="0.16">−log<tspan font-size="6.2" dy="1.9">10</tspan><tspan dy="-1.9"> (FDR)</tspan></text>
</g>
<text x="289.80" y="35.50" font-size="7.38" text-anchor="start" fill="#222"  stroke="#222" stroke-width="0.16">KRT17</text>
<line x1="314.60" y1="32.30" x2="322.60" y2="48.60" stroke="#111" stroke-width="0.8" />
<path d="M320.6,47.6 L323.8,46.2 L323.6,50.6 Z" fill="#111"/>
<circle cx="333.30" cy="20.10" r="2.50" fill="#2d3c9a" />
<text x="337.90" y="22.60" font-size="7.69" text-anchor="start" fill="#222"  stroke="#222" stroke-width="0.16">Down</text>
<circle cx="333.30" cy="41.40" r="2.50" fill="#8a8a8a" />
<text x="337.90" y="43.90" font-size="7.69" text-anchor="start" fill="#222"  stroke="#222" stroke-width="0.16">Nondiff</text>
<circle cx="333.30" cy="62.80" r="2.50" fill="#cc2a2a" />
<text x="337.90" y="65.30" font-size="7.69" text-anchor="start" fill="#222"  stroke="#222" stroke-width="0.16">Up</text>
<text x="373.60" y="9.80" font-size="12" text-anchor="start" fill="#111" font-weight="bold" stroke="#111" stroke-width="0.55">C</text>
<rect x="390.00" y="14.90" width="12.60" height="5.90" fill="#2f4a9e" stroke="none" stroke-width="1" />
<text x="404.20" y="20.80" font-size="8.4" text-anchor="start" fill="#222"  stroke="#222" stroke-width="0.16">pMMR</text>
<rect x="435.40" y="14.90" width="12.30" height="5.90" fill="#f2a42a" stroke="none" stroke-width="1" />
<text x="448.90" y="20.80" font-size="8.4" text-anchor="start" fill="#222"  stroke="#222" stroke-width="0.16">dMMR</text>
<defs><linearGradient id="cbar" x1="0" x2="1" y1="0" y2="0"><stop offset="0" stop-color="#2e3c96"/><stop offset="0.5" stop-color="#ffffff"/><stop offset="1" stop-color="#c41e24"/></linearGradient></defs>
<rect x="483.80" y="19.70" width="33.90" height="3.30" fill="url(#cbar)" stroke="none" stroke-width="1" />
<text x="484.80" y="16.90" font-size="8.2" text-anchor="middle" fill="#222"  stroke="#222" stroke-width="0.16">−2</text>
<text x="501.10" y="16.90" font-size="8.2" text-anchor="middle" fill="#222"  stroke="#222" stroke-width="0.16">0</text>
<text x="517.60" y="16.90" font-size="8.2" text-anchor="middle" fill="#222"  stroke="#222" stroke-width="0.16">2</text>
<rect x="386.20" y="26.60" width="43.50" height="3.10" fill="#2f4a9e" stroke="none" stroke-width="1" />
<rect x="429.70" y="26.60" width="43.50" height="3.10" fill="#f2a42a" stroke="none" stroke-width="1" />
<rect x="386.20" y="31.50" width="14.80" height="9.13" fill="#9597c9" stroke="none" stroke-width="1" />
<rect x="400.70" y="31.50" width="14.80" height="9.13" fill="#9597c9" stroke="none" stroke-width="1" />
<rect x="415.20" y="31.50" width="14.80" height="9.13" fill="#9a9ccb" stroke="none" stroke-width="1" />
<rect x="429.70" y="31.50" width="14.80" height="9.13" fill="#e8393b" stroke="none" stroke-width="1" />
<rect x="444.20" y="31.50" width="14.80" height="9.13" fill="#f3a3a6" stroke="none" stroke-width="1" />
<rect x="458.70" y="31.50" width="14.80" height="9.13" fill="#fadcde" stroke="none" stroke-width="1" />
<rect x="386.20" y="40.33" width="14.80" height="9.13" fill="#a9abd7" stroke="none" stroke-width="1" />
<rect x="400.70" y="40.33" width="14.80" height="9.13" fill="#a9abd7" stroke="none" stroke-width="1" />
<rect x="415.20" y="40.33" width="14.80" height="9.13" fill="#a9abd7" stroke="none" stroke-width="1" />
<rect x="429.70" y="40.33" width="14.80" height="9.13" fill="#e4191f" stroke="none" stroke-width="1" />
<rect x="444.20" y="40.33" width="14.80" height="9.13" fill="#f3f3f8" stroke="none" stroke-width="1" />
<rect x="458.70" y="40.33" width="14.80" height="9.13" fill="#f8f8fb" stroke="none" stroke-width="1" />
<rect x="386.20" y="49.16" width="14.80" height="9.13" fill="#adafd9" stroke="none" stroke-width="1" />
<rect x="400.70" y="49.16" width="14.80" height="9.13" fill="#adafd9" stroke="none" stroke-width="1" />
<rect x="415.20" y="49.16" width="14.80" height="9.13" fill="#adafd9" stroke="none" stroke-width="1" />
<rect x="429.70" y="49.16" width="14.80" height="9.13" fill="#c5c7e5" stroke="none" stroke-width="1" />
<rect x="444.20" y="49.16" width="14.80" height="9.13" fill="#e6242a" stroke="none" stroke-width="1" />
<rect x="458.70" y="49.16" width="14.80" height="9.13" fill="#f8f8fa" stroke="none" stroke-width="1" />
<rect x="386.20" y="57.99" width="14.80" height="9.13" fill="#a4a6d4" stroke="none" stroke-width="1" />
<rect x="400.70" y="57.99" width="14.80" height="9.13" fill="#a4a6d4" stroke="none" stroke-width="1" />
<rect x="415.20" y="57.99" width="14.80" height="9.13" fill="#9b9dcf" stroke="none" stroke-width="1" />
<rect x="429.70" y="57.99" width="14.80" height="9.13" fill="#e6272b" stroke="none" stroke-width="1" />
<rect x="444.20" y="57.99" width="14.80" height="9.13" fill="#f5c3c4" stroke="none" stroke-width="1" />
<rect x="458.70" y="57.99" width="14.80" height="9.13" fill="#d3d5eb" stroke="none" stroke-width="1" />
<rect x="386.20" y="66.82" width="14.80" height="9.13" fill="#9c9ed0" stroke="none" stroke-width="1" />
<rect x="400.70" y="66.82" width="14.80" height="9.13" fill="#9c9ed0" stroke="none" stroke-width="1" />
<rect x="415.20" y="66.82" width="14.80" height="9.13" fill="#9c9ed0" stroke="none" stroke-width="1" />
<rect x="429.70" y="66.82" width="14.80" height="9.13" fill="#f4b2b4" stroke="none" stroke-width="1" />
<rect x="444.20" y="66.82" width="14.80" height="9.13" fill="#e52c30" stroke="none" stroke-width="1" />
<rect x="458.70" y="66.82" width="14.80" height="9.13" fill="#eeeef7" stroke="none" stroke-width="1" />
<rect x="386.20" y="75.65" width="14.80" height="9.13" fill="#e42a2e" stroke="none" stroke-width="1" />
<rect x="400.70" y="75.65" width="14.80" height="9.13" fill="#f5b6b8" stroke="none" stroke-width="1" />
<rect x="415.20" y="75.65" width="14.80" height="9.13" fill="#fae0e1" stroke="none" stroke-width="1" />
<rect x="429.70" y="75.65" width="14.80" height="9.13" fill="#6f75c0" stroke="none" stroke-width="1" />
<rect x="444.20" y="75.65" width="14.80" height="9.13" fill="#a3a6d5" stroke="none" stroke-width="1" />
<rect x="458.70" y="75.65" width="14.80" height="9.13" fill="#8e91cb" stroke="none" stroke-width="1" />
<rect x="386.20" y="84.48" width="14.80" height="9.13" fill="#e4191f" stroke="none" stroke-width="1" />
<rect x="400.70" y="84.48" width="14.80" height="9.13" fill="#d9dbee" stroke="none" stroke-width="1" />
<rect x="415.20" y="84.48" width="14.80" height="9.13" fill="#e2e3f1" stroke="none" stroke-width="1" />
<rect x="429.70" y="84.48" width="14.80" height="9.13" fill="#bdbfe1" stroke="none" stroke-width="1" />
<rect x="444.20" y="84.48" width="14.80" height="9.13" fill="#bdbfe1" stroke="none" stroke-width="1" />
<rect x="458.70" y="84.48" width="14.80" height="9.13" fill="#babce0" stroke="none" stroke-width="1" />
<rect x="386.20" y="93.31" width="14.80" height="9.13" fill="#f8cdcf" stroke="none" stroke-width="1" />
<rect x="400.70" y="93.31" width="14.80" height="9.13" fill="#f4b5b7" stroke="none" stroke-width="1" />
<rect x="415.20" y="93.31" width="14.80" height="9.13" fill="#e6393c" stroke="none" stroke-width="1" />
<rect x="429.70" y="93.31" width="14.80" height="9.13" fill="#9c9ed3" stroke="none" stroke-width="1" />
<rect x="444.20" y="93.31" width="14.80" height="9.13" fill="#8f92cc" stroke="none" stroke-width="1" />
<rect x="458.70" y="93.31" width="14.80" height="9.13" fill="#9799cf" stroke="none" stroke-width="1" />
<rect x="386.20" y="102.14" width="14.80" height="9.13" fill="#f07a7d" stroke="none" stroke-width="1" />
<rect x="400.70" y="102.14" width="14.80" height="9.13" fill="#e84a4d" stroke="none" stroke-width="1" />
<rect x="415.20" y="102.14" width="14.80" height="9.13" fill="#d0d1ea" stroke="none" stroke-width="1" />
<rect x="429.70" y="102.14" width="14.80" height="9.13" fill="#a1a3d4" stroke="none" stroke-width="1" />
<rect x="444.20" y="102.14" width="14.80" height="9.13" fill="#9294cc" stroke="none" stroke-width="1" />
<rect x="458.70" y="102.14" width="14.80" height="9.13" fill="#b0b2dc" stroke="none" stroke-width="1" />
<rect x="386.20" y="110.97" width="14.80" height="9.13" fill="#f07074" stroke="none" stroke-width="1" />
<rect x="400.70" y="110.97" width="14.80" height="9.13" fill="#ec6266" stroke="none" stroke-width="1" />
<rect x="415.20" y="110.97" width="14.80" height="9.13" fill="#fbeced" stroke="none" stroke-width="1" />
<rect x="429.70" y="110.97" width="14.80" height="9.13" fill="#6b71bd" stroke="none" stroke-width="1" />
<rect x="444.20" y="110.97" width="14.80" height="9.13" fill="#7d81c4" stroke="none" stroke-width="1" />
<rect x="458.70" y="110.97" width="14.80" height="9.13" fill="#b7b9de" stroke="none" stroke-width="1" />
<text x="475.70" y="36.90" font-size="8.3" text-anchor="start" fill="#222"  stroke="#222" stroke-width="0.16">DSC3</text>
<text x="475.70" y="46.00" font-size="8.3" text-anchor="start" fill="#d8323c"  stroke="#d8323c" stroke-width="0.16">KRT17</text>
<text x="475.70" y="55.10" font-size="8.3" text-anchor="start" fill="#222"  stroke="#222" stroke-width="0.16">SLITRK6</text>
<text x="475.70" y="64.20" font-size="8.3" text-anchor="start" fill="#222"  stroke="#222" stroke-width="0.16">AQP3</text>
<text x="475.70" y="73.30" font-size="8.3" text-anchor="start" fill="#222"  stroke="#222" stroke-width="0.16">JSRP1</text>
<text x="475.70" y="82.40" font-size="8.3" text-anchor="start" fill="#222"  stroke="#222" stroke-width="0.16">PPP1R14D</text>
<text x="475.70" y="91.50" font-size="8.3" text-anchor="start" fill="#222"  stroke="#222" stroke-width="0.16">SLC26A3</text>
<text x="475.70" y="100.60" font-size="8.3" text-anchor="start" fill="#222"  stroke="#222" stroke-width="0.16">COL17A1</text>
<text x="475.70" y="109.70" font-size="8.3" text-anchor="start" fill="#222"  stroke="#222" stroke-width="0.16">MGAM2</text>
<text x="475.70" y="118.80" font-size="8.3" text-anchor="start" fill="#222"  stroke="#222" stroke-width="0.16">CES2</text>
<text x="392.00" y="130.20" font-size="8.3" text-anchor="middle" fill="#222"  stroke="#222" stroke-width="0.16">T1</text>
<text x="408.40" y="130.20" font-size="8.3" text-anchor="middle" fill="#222"  stroke="#222" stroke-width="0.16">T2</text>
<text x="424.00" y="130.20" font-size="8.3" text-anchor="middle" fill="#222"  stroke="#222" stroke-width="0.16">T3</text>
<text x="438.60" y="130.20" font-size="8.3" text-anchor="middle" fill="#222"  stroke="#222" stroke-width="0.16">T4</text>
<text x="452.20" y="130.20" font-size="8.3" text-anchor="middle" fill="#222"  stroke="#222" stroke-width="0.16">T5</text>
<text x="466.40" y="130.20" font-size="8.3" text-anchor="middle" fill="#222"  stroke="#222" stroke-width="0.16">T6</text>
<text x="1.20" y="164.80" font-size="12" text-anchor="start" fill="#111" font-weight="bold" stroke="#111" stroke-width="0.55">D</text>
<line x1="49.60" y1="176.30" x2="49.60" y2="259.70" stroke="#333" stroke-width="1" />
<line x1="49.60" y1="259.20" x2="282.70" y2="259.20" stroke="#333" stroke-width="1" />
<line x1="45.40" y1="259.20" x2="49.60" y2="259.20" stroke="#333" stroke-width="0.9" />
<text x="42.80" y="262.00" font-size="8.2" text-anchor="end" fill="#222"  stroke="#222" stroke-width="0.16">0</text>
<line x1="45.40" y1="242.72" x2="49.60" y2="242.72" stroke="#333" stroke-width="0.9" />
<text x="42.80" y="245.52" font-size="8.2" text-anchor="end" fill="#222"  stroke="#222" stroke-width="0.16">2</text>
<line x1="45.40" y1="226.24" x2="49.60" y2="226.24" stroke="#333" stroke-width="0.9" />
<text x="42.80" y="229.04" font-size="8.2" text-anchor="end" fill="#222"  stroke="#222" stroke-width="0.16">4</text>
<line x1="45.40" y1="209.76" x2="49.60" y2="209.76" stroke="#333" stroke-width="0.9" />
<text x="42.80" y="212.56" font-size="8.2" text-anchor="end" fill="#222"  stroke="#222" stroke-width="0.16">6</text>
<line x1="45.40" y1="193.28" x2="49.60" y2="193.28" stroke="#333" stroke-width="0.9" />
<text x="42.80" y="196.08" font-size="8.2" text-anchor="end" fill="#222"  stroke="#222" stroke-width="0.16">8</text>
<line x1="45.40" y1="176.80" x2="49.60" y2="176.80" stroke="#333" stroke-width="0.9" />
<text x="42.80" y="179.60" font-size="8.2" text-anchor="end" fill="#222"  stroke="#222" stroke-width="0.16">10</text>
<g transform="translate(24.2,219.4) rotate(-90)">
<text x="0.00" y="0.00" font-size="8.2" text-anchor="middle" fill="#222"  stroke="#222" stroke-width="0.16">mRNA fold difference (log<tspan font-size="5.5" dy="1.8">2</tspan><tspan dy="-1.8">)</tspan></text>
</g>
<rect x="56.35" y="219.40" width="11.30" height="39.80" fill="none" stroke="#f09aa4" stroke-width="1" />
<line x1="62.00" y1="189.98" x2="62.00" y2="247.66" stroke="#f09aa4" stroke-width="0.9" />
<line x1="59.40" y1="189.98" x2="64.60" y2="189.98" stroke="#f09aa4" stroke-width="0.9" />
<line x1="59.40" y1="247.66" x2="64.60" y2="247.66" stroke="#f09aa4" stroke-width="0.9" />
<line x1="59.40" y1="219.40" x2="64.60" y2="219.40" stroke="#f09aa4" stroke-width="0.9" />
<circle cx="64.90" cy="180.10" r="1.45" fill="#e88a96" />
<circle cx="60.50" cy="183.39" r="1.45" fill="#e88a96" />
<circle cx="59.10" cy="193.28" r="1.45" fill="#e88a96" />
<circle cx="62.00" cy="199.05" r="1.45" fill="#e88a96" />
<circle cx="62.80" cy="210.58" r="1.45" fill="#e88a96" />
<circle cx="64.90" cy="219.65" r="1.45" fill="#e88a96" />
<circle cx="59.10" cy="221.30" r="1.45" fill="#e88a96" />
<circle cx="62.00" cy="232.83" r="1.45" fill="#e88a96" />
<circle cx="63.50" cy="247.66" r="1.45" fill="#e88a96" />
<circle cx="61.20" cy="255.90" r="1.45" fill="#e88a96" />
<rect x="74.15" y="232.34" width="11.30" height="26.86" fill="none" stroke="#22a386" stroke-width="1" />
<line x1="79.80" y1="220.47" x2="79.80" y2="244.37" stroke="#22a386" stroke-width="0.9" />
<line x1="77.20" y1="220.47" x2="82.40" y2="220.47" stroke="#22a386" stroke-width="0.9" />
<line x1="77.20" y1="244.37" x2="82.40" y2="244.37" stroke="#22a386" stroke-width="0.9" />
<line x1="77.20" y1="232.34" x2="82.40" y2="232.34" stroke="#22a386" stroke-width="0.9" />
<circle cx="81.30" cy="207.29" r="1.45" fill="#18957a" />
<circle cx="79.00" cy="224.59" r="1.45" fill="#18957a" />
<circle cx="76.90" cy="228.71" r="1.45" fill="#18957a" />
<circle cx="79.80" cy="228.71" r="1.45" fill="#18957a" />
<circle cx="82.70" cy="232.01" r="1.45" fill="#18957a" />
<circle cx="78.30" cy="232.01" r="1.45" fill="#18957a" />
<circle cx="80.60" cy="237.78" r="1.45" fill="#18957a" />
<circle cx="76.90" cy="238.60" r="1.45" fill="#18957a" />
<circle cx="82.70" cy="241.90" r="1.45" fill="#18957a" />
<circle cx="79.80" cy="255.08" r="1.45" fill="#18957a" />
<line x1="70.90" y1="259.20" x2="70.90" y2="262.20" stroke="#333" stroke-width="0.9" />
<text x="70.90" y="273.50" font-size="8.1" text-anchor="middle" fill="#222"  stroke="#222" stroke-width="0.16">DSC3</text>
<rect x="103.65" y="235.30" width="11.30" height="23.90" fill="none" stroke="#f09aa4" stroke-width="1" />
<line x1="109.30" y1="217.18" x2="109.30" y2="253.43" stroke="#f09aa4" stroke-width="0.9" />
<line x1="106.70" y1="217.18" x2="111.90" y2="217.18" stroke="#f09aa4" stroke-width="0.9" />
<line x1="106.70" y1="253.43" x2="111.90" y2="253.43" stroke="#f09aa4" stroke-width="0.9" />
<line x1="106.70" y1="235.30" x2="111.90" y2="235.30" stroke="#f09aa4" stroke-width="0.9" />
<circle cx="110.80" cy="216.35" r="1.45" fill="#e88a96" />
<circle cx="106.40" cy="220.47" r="1.45" fill="#e88a96" />
<circle cx="112.20" cy="220.47" r="1.45" fill="#e88a96" />
<circle cx="112.20" cy="226.24" r="1.45" fill="#e88a96" />
<circle cx="110.10" cy="231.18" r="1.45" fill="#e88a96" />
<circle cx="106.40" cy="241.07" r="1.45" fill="#e88a96" />
<circle cx="109.30" cy="246.84" r="1.45" fill="#e88a96" />
<circle cx="109.30" cy="246.84" r="1.45" fill="#e88a96" />
<circle cx="107.80" cy="251.78" r="1.45" fill="#e88a96" />
<circle cx="108.50" cy="255.08" r="1.45" fill="#e88a96" />
<rect x="121.45" y="212.23" width="11.30" height="46.97" fill="none" stroke="#22a386" stroke-width="1" />
<line x1="127.10" y1="199.87" x2="127.10" y2="224.18" stroke="#22a386" stroke-width="0.9" />
<line x1="124.50" y1="199.87" x2="129.70" y2="199.87" stroke="#22a386" stroke-width="0.9" />
<line x1="124.50" y1="224.18" x2="129.70" y2="224.18" stroke="#22a386" stroke-width="0.9" />
<line x1="124.50" y1="212.23" x2="129.70" y2="212.23" stroke="#22a386" stroke-width="0.9" />
<circle cx="127.10" cy="185.04" r="1.45" fill="#18957a" />
<circle cx="130.00" cy="203.17" r="1.45" fill="#18957a" />
<circle cx="127.10" cy="207.70" r="1.45" fill="#18957a" />
<circle cx="127.90" cy="207.70" r="1.45" fill="#18957a" />
<circle cx="125.60" cy="213.06" r="1.45" fill="#18957a" />
<circle cx="124.20" cy="213.06" r="1.45" fill="#18957a" />
<circle cx="128.60" cy="213.06" r="1.45" fill="#18957a" />
<circle cx="126.30" cy="220.47" r="1.45" fill="#18957a" />
<circle cx="124.20" cy="224.59" r="1.45" fill="#18957a" />
<circle cx="130.00" cy="230.36" r="1.45" fill="#18957a" />
<line x1="118.20" y1="259.20" x2="118.20" y2="262.20" stroke="#333" stroke-width="0.9" />
<text x="118.20" y="273.50" font-size="8.1" text-anchor="middle" fill="#222"  stroke="#222" stroke-width="0.16">KRT17</text>
<rect x="150.95" y="212.23" width="11.30" height="46.97" fill="none" stroke="#f09aa4" stroke-width="1" />
<line x1="156.60" y1="187.51" x2="156.60" y2="235.30" stroke="#f09aa4" stroke-width="0.9" />
<line x1="154.00" y1="187.51" x2="159.20" y2="187.51" stroke="#f09aa4" stroke-width="0.9" />
<line x1="154.00" y1="235.30" x2="159.20" y2="235.30" stroke="#f09aa4" stroke-width="0.9" />
<line x1="154.00" y1="212.23" x2="159.20" y2="212.23" stroke="#f09aa4" stroke-width="0.9" />
<circle cx="156.60" cy="176.80" r="1.45" fill="#e88a96" />
<circle cx="159.50" cy="179.27" r="1.45" fill="#e88a96" />
<circle cx="155.80" cy="191.63" r="1.45" fill="#e88a96" />
<circle cx="158.10" cy="200.70" r="1.45" fill="#e88a96" />
<circle cx="159.50" cy="200.70" r="1.45" fill="#e88a96" />
<circle cx="153.70" cy="210.58" r="1.45" fill="#e88a96" />
<circle cx="153.70" cy="211.41" r="1.45" fill="#e88a96" />
<circle cx="157.40" cy="222.94" r="1.45" fill="#e88a96" />
<circle cx="155.10" cy="222.94" r="1.45" fill="#e88a96" />
<circle cx="156.60" cy="229.54" r="1.45" fill="#e88a96" />
<rect x="168.75" y="213.88" width="11.30" height="45.32" fill="none" stroke="#22a386" stroke-width="1" />
<line x1="174.40" y1="200.70" x2="174.40" y2="226.24" stroke="#22a386" stroke-width="0.9" />
<line x1="171.80" y1="200.70" x2="177.00" y2="200.70" stroke="#22a386" stroke-width="0.9" />
<line x1="171.80" y1="226.24" x2="177.00" y2="226.24" stroke="#22a386" stroke-width="0.9" />
<line x1="171.80" y1="213.88" x2="177.00" y2="213.88" stroke="#22a386" stroke-width="0.9" />
<circle cx="171.50" cy="199.87" r="1.45" fill="#18957a" />
<circle cx="175.90" cy="203.17" r="1.45" fill="#18957a" />
<circle cx="174.40" cy="203.17" r="1.45" fill="#18957a" />
<circle cx="175.20" cy="207.29" r="1.45" fill="#18957a" />
<circle cx="177.30" cy="207.29" r="1.45" fill="#18957a" />
<circle cx="174.40" cy="214.70" r="1.45" fill="#18957a" />
<circle cx="173.60" cy="214.70" r="1.45" fill="#18957a" />
<circle cx="171.50" cy="221.71" r="1.45" fill="#18957a" />
<circle cx="172.90" cy="226.24" r="1.45" fill="#18957a" />
<circle cx="177.30" cy="244.78" r="1.45" fill="#18957a" />
<line x1="165.50" y1="259.20" x2="165.50" y2="262.20" stroke="#333" stroke-width="0.9" />
<text x="165.50" y="273.50" font-size="8.1" text-anchor="middle" fill="#222"  stroke="#222" stroke-width="0.16">SLITRK6</text>
<rect x="198.25" y="226.24" width="11.30" height="32.96" fill="none" stroke="#f09aa4" stroke-width="1" />
<line x1="203.90" y1="214.70" x2="203.90" y2="237.78" stroke="#f09aa4" stroke-width="0.9" />
<line x1="201.30" y1="214.70" x2="206.50" y2="214.70" stroke="#f09aa4" stroke-width="0.9" />
<line x1="201.30" y1="237.78" x2="206.50" y2="237.78" stroke="#f09aa4" stroke-width="0.9" />
<line x1="201.30" y1="226.24" x2="206.50" y2="226.24" stroke="#f09aa4" stroke-width="0.9" />
<circle cx="202.40" cy="203.99" r="1.45" fill="#e88a96" />
<circle cx="204.70" cy="215.53" r="1.45" fill="#e88a96" />
<circle cx="201.00" cy="222.94" r="1.45" fill="#e88a96" />
<circle cx="203.90" cy="226.24" r="1.45" fill="#e88a96" />
<circle cx="206.80" cy="227.48" r="1.45" fill="#e88a96" />
<circle cx="203.10" cy="227.48" r="1.45" fill="#e88a96" />
<circle cx="206.80" cy="231.18" r="1.45" fill="#e88a96" />
<circle cx="203.90" cy="232.01" r="1.45" fill="#e88a96" />
<circle cx="201.00" cy="237.78" r="1.45" fill="#e88a96" />
<circle cx="205.40" cy="246.02" r="1.45" fill="#e88a96" />
<rect x="216.05" y="230.36" width="11.30" height="28.84" fill="none" stroke="#22a386" stroke-width="1" />
<line x1="221.70" y1="217.18" x2="221.70" y2="241.90" stroke="#22a386" stroke-width="0.9" />
<line x1="219.10" y1="217.18" x2="224.30" y2="217.18" stroke="#22a386" stroke-width="0.9" />
<line x1="219.10" y1="241.90" x2="224.30" y2="241.90" stroke="#22a386" stroke-width="0.9" />
<line x1="219.10" y1="230.36" x2="224.30" y2="230.36" stroke="#22a386" stroke-width="0.9" />
<circle cx="222.50" cy="215.53" r="1.45" fill="#18957a" />
<circle cx="220.90" cy="222.94" r="1.45" fill="#18957a" />
<circle cx="221.70" cy="222.94" r="1.45" fill="#18957a" />
<circle cx="224.60" cy="224.59" r="1.45" fill="#18957a" />
<circle cx="220.20" cy="227.48" r="1.45" fill="#18957a" />
<circle cx="224.60" cy="227.48" r="1.45" fill="#18957a" />
<circle cx="218.80" cy="232.01" r="1.45" fill="#18957a" />
<circle cx="221.70" cy="237.78" r="1.45" fill="#18957a" />
<circle cx="223.20" cy="241.07" r="1.45" fill="#18957a" />
<circle cx="218.80" cy="241.90" r="1.45" fill="#18957a" />
<line x1="212.80" y1="259.20" x2="212.80" y2="262.20" stroke="#333" stroke-width="0.9" />
<text x="212.80" y="273.50" font-size="8.1" text-anchor="middle" fill="#222"  stroke="#222" stroke-width="0.16">AQP3</text>
<rect x="245.55" y="211.90" width="11.30" height="47.30" fill="none" stroke="#f09aa4" stroke-width="1" />
<line x1="251.20" y1="194.93" x2="251.20" y2="228.30" stroke="#f09aa4" stroke-width="0.9" />
<line x1="248.60" y1="194.93" x2="253.80" y2="194.93" stroke="#f09aa4" stroke-width="0.9" />
<line x1="248.60" y1="228.30" x2="253.80" y2="228.30" stroke="#f09aa4" stroke-width="0.9" />
<line x1="248.60" y1="211.90" x2="253.80" y2="211.90" stroke="#f09aa4" stroke-width="0.9" />
<circle cx="252.70" cy="187.51" r="1.45" fill="#e88a96" />
<circle cx="248.30" cy="189.98" r="1.45" fill="#e88a96" />
<circle cx="251.20" cy="201.93" r="1.45" fill="#e88a96" />
<circle cx="249.70" cy="211.41" r="1.45" fill="#e88a96" />
<circle cx="248.30" cy="218.00" r="1.45" fill="#e88a96" />
<circle cx="250.40" cy="221.30" r="1.45" fill="#e88a96" />
<circle cx="252.00" cy="225.00" r="1.45" fill="#e88a96" />
<circle cx="251.20" cy="228.30" r="1.45" fill="#e88a96" />
<circle cx="254.10" cy="232.01" r="1.45" fill="#e88a96" />
<circle cx="254.10" cy="235.30" r="1.45" fill="#e88a96" />
<rect x="263.35" y="214.37" width="11.30" height="44.83" fill="none" stroke="#22a386" stroke-width="1" />
<line x1="269.00" y1="195.75" x2="269.00" y2="232.01" stroke="#22a386" stroke-width="0.9" />
<line x1="266.40" y1="195.75" x2="271.60" y2="195.75" stroke="#22a386" stroke-width="0.9" />
<line x1="266.40" y1="232.01" x2="271.60" y2="232.01" stroke="#22a386" stroke-width="0.9" />
<line x1="266.40" y1="214.37" x2="271.60" y2="214.37" stroke="#22a386" stroke-width="0.9" />
<circle cx="269.80" cy="189.98" r="1.45" fill="#18957a" />
<circle cx="271.90" cy="197.40" r="1.45" fill="#18957a" />
<circle cx="268.20" cy="206.46" r="1.45" fill="#18957a" />
<circle cx="270.50" cy="207.29" r="1.45" fill="#18957a" />
<circle cx="266.10" cy="210.58" r="1.45" fill="#18957a" />
<circle cx="271.90" cy="210.58" r="1.45" fill="#18957a" />
<circle cx="267.50" cy="214.29" r="1.45" fill="#18957a" />
<circle cx="269.00" cy="218.82" r="1.45" fill="#18957a" />
<circle cx="266.10" cy="219.65" r="1.45" fill="#18957a" />
<circle cx="269.00" cy="218.00" r="1.45" fill="#18957a" />
<line x1="260.10" y1="259.20" x2="260.10" y2="262.20" stroke="#333" stroke-width="0.9" />
<text x="260.10" y="273.50" font-size="8.1" text-anchor="middle" fill="#222"  stroke="#222" stroke-width="0.16">JSRP1</text>
<line x1="62.00" y1="173.70" x2="80.60" y2="173.70" stroke="#222" stroke-width="1" />
<text x="71.30" y="171.70" font-size="8.2" text-anchor="middle" fill="#222"  stroke="#222" stroke-width="0.16">ns</text>
<line x1="109.40" y1="180.00" x2="128.00" y2="180.00" stroke="#222" stroke-width="1" />
<text x="118.70" y="180.30" font-size="8.6" text-anchor="middle" fill="#222" font-weight="bold" letter-spacing="-0.3">**</text>
<line x1="157.70" y1="172.30" x2="176.00" y2="172.30" stroke="#222" stroke-width="1" />
<text x="166.85" y="170.30" font-size="8.2" text-anchor="middle" fill="#222"  stroke="#222" stroke-width="0.16">ns</text>
<line x1="203.80" y1="197.70" x2="222.70" y2="197.70" stroke="#222" stroke-width="1" />
<text x="213.25" y="195.70" font-size="8.2" text-anchor="middle" fill="#222"  stroke="#222" stroke-width="0.16">ns</text>
<line x1="251.50" y1="183.10" x2="270.80" y2="183.10" stroke="#222" stroke-width="1" />
<text x="261.15" y="181.10" font-size="8.2" text-anchor="middle" fill="#222"  stroke="#222" stroke-width="0.16">ns</text>
<circle cx="278.80" cy="167.30" r="1.40" fill="#e88a96" />
<text x="283.70" y="169.90" font-size="8.2" text-anchor="start" fill="#222"  stroke="#222" stroke-width="0.16">pMMR</text>
<circle cx="278.80" cy="180.20" r="1.50" fill="#18957a" />
<text x="283.70" y="182.80" font-size="8.2" text-anchor="start" fill="#222"  stroke="#222" stroke-width="0.16">dMMR</text>
<text x="330.20" y="164.80" font-size="12" text-anchor="start" fill="#111" font-weight="bold" stroke="#111" stroke-width="0.55">E</text>
<text x="392.10" y="172.30" font-size="8.2" text-anchor="middle" fill="#222"  stroke="#222" stroke-width="0.16">pMMR</text>
<text x="444.00" y="172.30" font-size="8.2" text-anchor="middle" fill="#222"  stroke="#222" stroke-width="0.16">dMMR</text>
<line x1="361.00" y1="175.80" x2="415.90" y2="175.80" stroke="#666" stroke-width="1.4" />
<line x1="417.70" y1="175.80" x2="473.20" y2="175.80" stroke="#666" stroke-width="1.4" />
<defs><filter id="bl1" x="-50%" y="-100%" width="200%" height="300%"><feGaussianBlur stdDeviation="0.8"/></filter><filter id="bl2" x="-50%" y="-100%" width="200%" height="300%"><feGaussianBlur stdDeviation="0.45"/></filter><linearGradient id="gb1" x1="0" y1="0" x2="0" y2="1"><stop offset="0" stop-color="#d6d6d6"/><stop offset="0.6" stop-color="#d0d0d0"/><stop offset="1" stop-color="#c8c8c8"/></linearGradient><linearGradient id="gb2" x1="0" y1="0" x2="0" y2="1"><stop offset="0" stop-color="#f4f4f4"/><stop offset="0.7" stop-color="#eeeeee"/><stop offset="1" stop-color="#e4e4e4"/></linearGradient><linearGradient id="gb3" x1="0" y1="0" x2="0" y2="1"><stop offset="0" stop-color="#e6e6e6"/><stop offset="1" stop-color="#dddddd"/></linearGradient></defs>
<rect x="360.80" y="199.40" width="113.20" height="2.90" fill="#8a8a8a" stroke="none" stroke-width="1" />
<rect x="360.80" y="248.80" width="113.20" height="2.60" fill="#9a9a9a" stroke="none" stroke-width="1" />
<rect x="360.80" y="179.00" width="113.20" height="20.70" fill="url(#gb1)" stroke="#3a3a3a" stroke-width="1.2" />
<g filter="url(#bl1)">
<ellipse cx="368.10" cy="187.40" rx="4.50" ry="2.30" fill="#9a9a9a"/>
<ellipse cx="379.20" cy="187.40" rx="4.50" ry="2.30" fill="#9e9e9e"/>
<ellipse cx="390.30" cy="187.40" rx="4.50" ry="2.30" fill="#9a9a9a"/>
<ellipse cx="401.40" cy="187.40" rx="4.50" ry="2.30" fill="#9c9c9c"/>
<ellipse cx="412.50" cy="187.40" rx="4.50" ry="2.30" fill="#8e8e8e"/>
<ellipse cx="423.60" cy="187.40" rx="4.50" ry="2.30" fill="#6e6e6e"/>
<ellipse cx="434.70" cy="187.40" rx="4.50" ry="2.30" fill="#767676"/>
<ellipse cx="445.80" cy="187.40" rx="4.50" ry="2.30" fill="#282828"/>
<ellipse cx="456.90" cy="187.40" rx="4.50" ry="2.30" fill="#646464"/>
<ellipse cx="468.00" cy="187.40" rx="4.50" ry="2.30" fill="#5e5e5e"/>
</g>
<rect x="360.80" y="202.00" width="113.20" height="20.60" fill="url(#gb2)" stroke="#3a3a3a" stroke-width="1.2" />
<g filter="url(#bl2)">
<ellipse cx="368.10" cy="211.00" rx="4.60" ry="1.90" fill="#0a0a0a"/>
<ellipse cx="379.20" cy="211.00" rx="4.60" ry="1.90" fill="#0a0a0a"/>
<ellipse cx="390.30" cy="211.00" rx="4.60" ry="1.90" fill="#0a0a0a"/>
<ellipse cx="401.40" cy="211.00" rx="4.60" ry="1.90" fill="#0a0a0a"/>
<ellipse cx="412.50" cy="211.00" rx="4.60" ry="1.90" fill="#0a0a0a"/>
<ellipse cx="423.60" cy="210.60" rx="4.60" ry="1.90" fill="#0a0a0a"/>
<ellipse cx="434.70" cy="210.60" rx="4.60" ry="1.90" fill="#0a0a0a"/>
<ellipse cx="445.80" cy="210.60" rx="4.60" ry="1.90" fill="#0a0a0a"/>
<ellipse cx="456.90" cy="210.60" rx="4.60" ry="1.90" fill="#0a0a0a"/>
<ellipse cx="468.00" cy="210.60" rx="4.60" ry="1.90" fill="#0a0a0a"/>
</g>
<rect x="360.80" y="228.40" width="113.20" height="20.60" fill="url(#gb3)" stroke="#3a3a3a" stroke-width="1.2" />
<g filter="url(#bl1)">
<ellipse cx="368.10" cy="236.30" rx="4.50" ry="2.20" fill="#bababa"/>
<ellipse cx="379.20" cy="236.30" rx="4.50" ry="2.20" fill="#a8a8a8"/>
<ellipse cx="390.30" cy="236.30" rx="4.50" ry="2.20" fill="#a4a4a4"/>
<ellipse cx="401.40" cy="236.30" rx="4.50" ry="2.20" fill="#b6b6b6"/>
<ellipse cx="412.50" cy="236.30" rx="4.50" ry="2.20" fill="#bebebe"/>
<ellipse cx="423.60" cy="236.30" rx="4.50" ry="2.20" fill="#8e8e8e"/>
<ellipse cx="434.70" cy="236.30" rx="4.50" ry="2.20" fill="#787878"/>
<ellipse cx="445.80" cy="236.30" rx="4.50" ry="2.20" fill="#989898"/>
<ellipse cx="456.90" cy="236.30" rx="4.50" ry="2.20" fill="#555555"/>
<ellipse cx="468.00" cy="236.30" rx="5.00" ry="3.30" fill="#050505"/>
</g>
<rect x="360.80" y="251.20" width="113.20" height="21.10" fill="url(#gb2)" stroke="#3a3a3a" stroke-width="1.2" />
<g filter="url(#bl2)">
<ellipse cx="368.10" cy="262.10" rx="4.60" ry="1.90" fill="#0a0a0a"/>
<ellipse cx="379.20" cy="262.10" rx="4.60" ry="1.90" fill="#0a0a0a"/>
<ellipse cx="390.30" cy="262.10" rx="4.60" ry="1.90" fill="#0a0a0a"/>
<ellipse cx="401.40" cy="262.10" rx="4.60" ry="1.90" fill="#0a0a0a"/>
<ellipse cx="412.50" cy="262.10" rx="4.60" ry="1.90" fill="#0a0a0a"/>
<ellipse cx="423.60" cy="261.70" rx="4.60" ry="1.90" fill="#0a0a0a"/>
<ellipse cx="434.70" cy="261.70" rx="4.60" ry="1.90" fill="#0a0a0a"/>
<ellipse cx="445.80" cy="261.70" rx="4.60" ry="1.90" fill="#0a0a0a"/>
<ellipse cx="456.90" cy="261.70" rx="4.60" ry="1.90" fill="#0a0a0a"/>
<ellipse cx="468.00" cy="261.70" rx="4.60" ry="1.90" fill="#0a0a0a"/>
</g>
<text x="357.80" y="194.40" font-size="8.2" text-anchor="end" fill="#222"  stroke="#222" stroke-width="0.16">KRT17</text>
<text x="358.00" y="214.30" font-size="7.99" text-anchor="end" fill="#222"  stroke="#222" stroke-width="0.16">β-Actin</text>
<text x="357.80" y="244.60" font-size="8.2" text-anchor="end" fill="#222"  stroke="#222" stroke-width="0.16">KRT17</text>
<text x="358.00" y="265.70" font-size="7.99" text-anchor="end" fill="#222"  stroke="#222" stroke-width="0.16">β-Actin</text>
<line x1="474.00" y1="180.90" x2="479.00" y2="180.90" stroke="#333" stroke-width="1" />
<text x="480.30" y="183.70" font-size="8.2" text-anchor="start" fill="#222"  stroke="#222" stroke-width="0.16">55<tspan dx="1.6">kD</tspan></text>
<line x1="474.00" y1="217.90" x2="479.00" y2="217.90" stroke="#333" stroke-width="1" />
<text x="480.30" y="220.70" font-size="8.2" text-anchor="start" fill="#222"  stroke="#222" stroke-width="0.16">40<tspan dx="1.6">kD</tspan></text>
<line x1="474.00" y1="230.10" x2="479.00" y2="230.10" stroke="#333" stroke-width="1" />
<text x="480.30" y="232.90" font-size="8.2" text-anchor="start" fill="#222"  stroke="#222" stroke-width="0.16">55<tspan dx="1.6">kD</tspan></text>
<line x1="474.00" y1="267.90" x2="479.00" y2="267.90" stroke="#333" stroke-width="1" />
<text x="480.30" y="270.70" font-size="8.2" text-anchor="start" fill="#222"  stroke="#222" stroke-width="0.16">40<tspan dx="1.6">kD</tspan></text>
<text x="1.80" y="300.80" font-size="12" text-anchor="start" fill="#111" font-weight="bold" stroke="#111" stroke-width="0.55">F</text>
<text x="67.00" y="300.80" font-size="8.2" text-anchor="middle" fill="#222"  stroke="#222" stroke-width="0.16">dMMR</text>
<text x="162.00" y="300.80" font-size="8.2" text-anchor="middle" fill="#222"  stroke="#222" stroke-width="0.16">pMMR</text>
<line x1="33.80" y1="304.30" x2="103.50" y2="304.30" stroke="#666" stroke-width="1.3" />
<line x1="128.30" y1="304.30" x2="198.50" y2="304.30" stroke="#666" stroke-width="1.3" />
<text x="35.50" y="314.80" font-size="9.43" text-anchor="middle" fill="#222" style="font-family:'Liberation Serif', 'Times New Roman', serif" stroke="#222" stroke-width="0.16">I</text>
<text x="66.90" y="314.80" font-size="9.43" text-anchor="middle" fill="#222" style="font-family:'Liberation Serif', 'Times New Roman', serif" stroke="#222" stroke-width="0.16">II</text>
<text x="98.40" y="314.80" font-size="9.43" text-anchor="middle" fill="#222" style="font-family:'Liberation Serif', 'Times New Roman', serif" stroke="#222" stroke-width="0.16">III</text>
<text x="131.10" y="314.80" font-size="9.43" text-anchor="middle" fill="#222" style="font-family:'Liberation Serif', 'Times New Roman', serif" stroke="#222" stroke-width="0.16">I</text>
<text x="162.50" y="314.80" font-size="9.43" text-anchor="middle" fill="#222" style="font-family:'Liberation Serif', 'Times New Roman', serif" stroke="#222" stroke-width="0.16">II</text>
<text x="193.90" y="314.80" font-size="9.43" text-anchor="middle" fill="#222" style="font-family:'Liberation Serif', 'Times New Roman', serif" stroke="#222" stroke-width="0.16">III</text>
<defs><filter id="grain" x="0" y="0" width="100%" height="100%" color-interpolation-filters="sRGB"><feTurbulence type="fractalNoise" baseFrequency="0.55" numOctaves="2" seed="4"/><feColorMatrix type="matrix" values="0 0 0 0 0.2  0 0 0 0 0.2  0 0 0 0 0.25  2.4 0 0 0 -1.05"/><feComposite in2="SourceAlpha" operator="in"/></filter><filter id="grainw" x="0" y="0" width="100%" height="100%" color-interpolation-filters="sRGB"><feTurbulence type="fractalNoise" baseFrequency="0.45" numOctaves="2" seed="9"/><feColorMatrix type="matrix" values="0 0 0 0 1  0 0 0 0 1  0 0 0 0 1  0 2.4 0 0 -1.1"/><feComposite in2="SourceAlpha" operator="in"/></filter><clipPath id="tc00"><rect x="21.10" y="317.50" width="28.8" height="30.6"/></clipPath><clipPath id="tc01"><rect x="21.10" y="350.40" width="28.8" height="30.1"/></clipPath><clipPath id="tc10"><rect x="52.50" y="317.50" width="28.8" height="30.6"/></clipPath><clipPath id="tc11"><rect x="52.50" y="350.40" width="28.8" height="30.1"/></clipPath><clipPath id="tc20"><rect x="84.00" y="317.50" width="28.8" height="30.6"/></clipPath><clipPath id="tc21"><rect x="84.00" y="350.40" width="28.8" height="30.1"/></clipPath><clipPath id="tc30"><rect x="116.70" y="317.50" width="28.8" height="30.6"/></clipPath><clipPath id="tc31"><rect x="116.70" y="350.40" width="28.8" height="30.1"/></clipPath><clipPath id="tc40"><rect x="148.10" y="317.50" width="28.8" height="30.6"/></clipPath><clipPath id="tc41"><rect x="148.10" y="350.40" width="28.8" height="30.1"/></clipPath><clipPath id="tc50"><rect x="179.50" y="317.50" width="28.8" height="30.6"/></clipPath><clipPath id="tc51"><rect x="179.50" y="350.40" width="28.8" height="30.1"/></clipPath><filter id="soft" x="0" y="0" width="100%" height="100%"><feGaussianBlur stdDeviation="0.45"/></filter></defs>
<g clip-path="url(#tc00)"><g filter="url(#soft)">
<rect x="21.10" y="317.50" width="28.80" height="30.60" fill="#958d8d" stroke="none" stroke-width="1" />
<g transform="translate(21.10,317.50)"><path d="M-2.2,15.4 Q0.2,24.6 6.4,29.9" fill="none" stroke="#b2aca8" stroke-width="1.81" stroke-linecap="round" opacity="0.65"/><path d="M10.9,11.5 Q14.3,15.9 18.8,19.5" fill="none" stroke="#b2aca8" stroke-width="1.07" stroke-linecap="round" opacity="0.65"/><path d="M21.3,0.9 Q27.5,6.0 29.1,9.0" fill="none" stroke="#b2aca8" stroke-width="1.88" stroke-linecap="round" opacity="0.65"/><path d="M15.5,-8.1 Q16.7,-0.4 21.8,2.8" fill="none" stroke="#b2aca8" stroke-width="1.37" stroke-linecap="round" opacity="0.65"/><path d="M0.3,22.9 Q1.5,27.8 3.1,32.2" fill="none" stroke="#b2aca8" stroke-width="1.34" stroke-linecap="round" opacity="0.65"/><path d="M12.4,-0.8 Q12.9,4.2 15.2,7.2" fill="none" stroke="#b2aca8" stroke-width="1.21" stroke-linecap="round" opacity="0.65"/><path d="M28.2,21.9 Q32.3,32.2 35.1,39.1" fill="none" stroke="#b2aca8" stroke-width="1.12" stroke-linecap="round" opacity="0.65"/><path d="M11.9,22.8 Q15.2,27.5 15.1,33.1" fill="none" stroke="#b2aca8" stroke-width="1.37" stroke-linecap="round" opacity="0.65"/><path d="M6.6,1.7 Q8.5,7.3 18.6,20.0" fill="none" stroke="#b2aca8" stroke-width="1.72" stroke-linecap="round" opacity="0.65"/><path d="M29.0,8.6 Q34.0,13.5 36.1,21.7" fill="none" stroke="#b2aca8" stroke-width="1.61" stroke-linecap="round" opacity="0.65"/><path d="M13.1,16.0 Q15.8,21.8 19.9,24.1" fill="none" stroke="#b2aca8" stroke-width="1.35" stroke-linecap="round" opacity="0.65"/><path d="M14.8,4.4 Q19.2,8.9 21.2,11.3" fill="none" stroke="#b2aca8" stroke-width="1.37" stroke-linecap="round" opacity="0.65"/><path d="M18.3,12.2 Q20.4,26.1 24.0,32.0" fill="none" stroke="#7a6c64" stroke-width="1.37" stroke-linecap="round" opacity="0.55"/><path d="M13.6,23.9 Q16.2,32.3 21.9,36.3" fill="none" stroke="#7a6c64" stroke-width="0.81" stroke-linecap="round" opacity="0.55"/><path d="M-6.2,19.0 Q1.1,23.7 3.3,35.2" fill="none" stroke="#7a6c64" stroke-width="0.88" stroke-linecap="round" opacity="0.55"/><path d="M3.1,8.4 Q6.0,13.9 10.2,16.0" fill="none" stroke="#7a6c64" stroke-width="1.39" stroke-linecap="round" opacity="0.55"/><path d="M21.8,9.0 Q23.6,15.5 25.1,20.0" fill="none" stroke="#7a6c64" stroke-width="0.72" stroke-linecap="round" opacity="0.55"/><path d="M0.8,19.3 Q4.6,27.8 6.8,37.4" fill="none" stroke="#7a6c64" stroke-width="1.11" stroke-linecap="round" opacity="0.55"/><path d="M22.6,1.7 Q28.9,4.9 31.9,14.1" fill="none" stroke="#7a6c64" stroke-width="1.18" stroke-linecap="round" opacity="0.55"/><path d="M27.6,-10.4 Q33.4,-2.5 34.6,4.3" fill="none" stroke="#7a6c64" stroke-width="0.88" stroke-linecap="round" opacity="0.55"/><path d="M4.1,25.2 Q7.6,29.6 17.7,40.8" fill="none" stroke="#7a6c64" stroke-width="0.72" stroke-linecap="round" opacity="0.55"/><path d="M8.1,-7.7 Q9.4,1.7 16.8,10.5" fill="none" stroke="#7a6c64" stroke-width="0.93" stroke-linecap="round" opacity="0.55"/><path d="M10.9,0.5 Q13.7,5.3 17.5,8.5" fill="none" stroke="#7a6c64" stroke-width="1.09" stroke-linecap="round" opacity="0.55"/><path d="M-6.1,14.0 Q0.1,19.5 1.5,32.8" fill="none" stroke="#7a6c64" stroke-width="1.02" stroke-linecap="round" opacity="0.55"/><rect x="10.2" y="9.2" width="7.2" height="7.7" fill="#8a7850" opacity="0.7"/></g>
<rect x="21.10" y="317.50" width="28.8" height="30.6" fill="#000" filter="url(#grain)" opacity="0.32"/>
<rect x="21.10" y="317.50" width="28.8" height="30.6" fill="#000" filter="url(#grainw)" opacity="0.18"/>
</g></g>
<g clip-path="url(#tc01)"><g filter="url(#soft)">
<rect x="21.10" y="350.40" width="28.80" height="30.10" fill="#93724f" stroke="none" stroke-width="1" />
<g transform="translate(21.10,350.40)"><ellipse cx="1.8" cy="23.0" rx="1.08" ry="1.55" fill="#684830" opacity="0.55"/><ellipse cx="7.3" cy="21.0" rx="1.30" ry="0.69" fill="#684830" opacity="0.55"/><ellipse cx="11.2" cy="9.3" rx="2.24" ry="1.02" fill="#684830" opacity="0.55"/><ellipse cx="14.5" cy="16.5" rx="2.32" ry="0.77" fill="#684830" opacity="0.55"/><ellipse cx="17.3" cy="15.3" rx="1.98" ry="1.88" fill="#684830" opacity="0.55"/><ellipse cx="8.9" cy="21.1" rx="1.64" ry="1.36" fill="#684830" opacity="0.55"/><ellipse cx="1.8" cy="24.5" rx="2.36" ry="1.09" fill="#684830" opacity="0.55"/><ellipse cx="9.2" cy="29.9" rx="0.97" ry="0.74" fill="#684830" opacity="0.55"/><ellipse cx="2.1" cy="24.5" rx="2.02" ry="1.21" fill="#684830" opacity="0.55"/><ellipse cx="17.9" cy="0.6" rx="1.83" ry="1.21" fill="#684830" opacity="0.55"/><ellipse cx="14.9" cy="11.7" rx="1.44" ry="0.93" fill="#684830" opacity="0.55"/><ellipse cx="1.4" cy="13.1" rx="1.20" ry="1.54" fill="#684830" opacity="0.55"/><ellipse cx="23.5" cy="21.8" rx="1.53" ry="0.94" fill="#684830" opacity="0.55"/><ellipse cx="11.1" cy="14.7" rx="1.81" ry="1.87" fill="#684830" opacity="0.55"/><ellipse cx="2.5" cy="14.4" rx="1.59" ry="1.56" fill="#684830" opacity="0.55"/><ellipse cx="25.6" cy="23.5" rx="1.80" ry="1.61" fill="#684830" opacity="0.55"/><ellipse cx="19.2" cy="25.9" rx="1.92" ry="1.51" fill="#684830" opacity="0.55"/><ellipse cx="7.1" cy="27.6" rx="1.42" ry="1.43" fill="#684830" opacity="0.55"/><ellipse cx="23.8" cy="29.0" rx="2.38" ry="0.65" fill="#684830" opacity="0.55"/><ellipse cx="9.0" cy="9.4" rx="1.43" ry="0.83" fill="#684830" opacity="0.55"/><ellipse cx="15.9" cy="2.4" rx="1.28" ry="1.85" fill="#684830" opacity="0.55"/><ellipse cx="21.4" cy="13.9" rx="0.97" ry="1.86" fill="#684830" opacity="0.55"/><ellipse cx="20.3" cy="6.2" rx="1.34" ry="1.46" fill="#684830" opacity="0.55"/><ellipse cx="19.6" cy="7.9" rx="2.32" ry="1.05" fill="#684830" opacity="0.55"/><ellipse cx="7.3" cy="25.4" rx="1.05" ry="1.51" fill="#684830" opacity="0.55"/><ellipse cx="5.8" cy="18.0" rx="1.24" ry="1.13" fill="#684830" opacity="0.55"/><ellipse cx="27.1" cy="14.1" rx="1.50" ry="1.43" fill="#684830" opacity="0.55"/><ellipse cx="8.1" cy="5.2" rx="1.42" ry="0.99" fill="#684830" opacity="0.55"/><ellipse cx="5.4" cy="28.9" rx="0.86" ry="1.68" fill="#684830" opacity="0.55"/><ellipse cx="26.9" cy="21.2" rx="0.83" ry="1.28" fill="#684830" opacity="0.55"/><ellipse cx="1.1" cy="18.3" rx="1.92" ry="0.95" fill="#684830" opacity="0.55"/><ellipse cx="0.2" cy="16.4" rx="0.95" ry="1.04" fill="#684830" opacity="0.55"/><ellipse cx="13.1" cy="26.9" rx="1.39" ry="0.81" fill="#684830" opacity="0.55"/><ellipse cx="22.8" cy="24.8" rx="1.65" ry="0.70" fill="#684830" opacity="0.55"/><ellipse cx="5.4" cy="12.1" rx="1.68" ry="0.93" fill="#684830" opacity="0.55"/><ellipse cx="23.1" cy="25.4" rx="2.28" ry="1.77" fill="#684830" opacity="0.55"/><ellipse cx="0.5" cy="17.5" rx="0.93" ry="1.79" fill="#684830" opacity="0.55"/><ellipse cx="21.5" cy="22.9" rx="1.10" ry="0.72" fill="#684830" opacity="0.55"/><ellipse cx="23.5" cy="18.3" rx="1.79" ry="1.24" fill="#684830" opacity="0.55"/><ellipse cx="23.0" cy="10.2" rx="1.23" ry="1.09" fill="#684830" opacity="0.55"/><ellipse cx="8.6" cy="18.9" rx="2.22" ry="0.73" fill="#684830" opacity="0.55"/><ellipse cx="1.9" cy="15.4" rx="1.88" ry="0.88" fill="#684830" opacity="0.55"/><ellipse cx="7.8" cy="1.8" rx="0.86" ry="1.27" fill="#684830" opacity="0.55"/><ellipse cx="19.6" cy="19.7" rx="1.05" ry="0.77" fill="#684830" opacity="0.55"/><ellipse cx="26.8" cy="16.2" rx="1.45" ry="1.52" fill="#684830" opacity="0.55"/><ellipse cx="21.0" cy="15.8" rx="0.69" ry="1.27" fill="#b89068" opacity="0.5"/><ellipse cx="6.2" cy="1.2" rx="1.02" ry="0.99" fill="#b89068" opacity="0.5"/><ellipse cx="18.1" cy="5.2" rx="1.45" ry="0.95" fill="#b89068" opacity="0.5"/><ellipse cx="4.7" cy="25.6" rx="1.57" ry="1.35" fill="#b89068" opacity="0.5"/><ellipse cx="19.6" cy="6.5" rx="1.53" ry="1.35" fill="#b89068" opacity="0.5"/><ellipse cx="15.4" cy="27.3" rx="1.76" ry="0.85" fill="#b89068" opacity="0.5"/><ellipse cx="27.1" cy="28.2" rx="1.55" ry="0.49" fill="#b89068" opacity="0.5"/><ellipse cx="10.1" cy="18.5" rx="1.33" ry="1.21" fill="#b89068" opacity="0.5"/><ellipse cx="18.6" cy="4.9" rx="1.72" ry="0.99" fill="#b89068" opacity="0.5"/><ellipse cx="25.4" cy="6.2" rx="1.80" ry="1.01" fill="#b89068" opacity="0.5"/><ellipse cx="22.3" cy="22.3" rx="1.66" ry="0.83" fill="#b89068" opacity="0.5"/><ellipse cx="2.4" cy="12.2" rx="0.81" ry="1.00" fill="#b89068" opacity="0.5"/><ellipse cx="23.5" cy="10.9" rx="0.76" ry="0.51" fill="#b89068" opacity="0.5"/><ellipse cx="12.2" cy="17.5" rx="0.63" ry="1.12" fill="#b89068" opacity="0.5"/><ellipse cx="6.1" cy="3.2" rx="1.71" ry="0.98" fill="#b89068" opacity="0.5"/><ellipse cx="25.8" cy="15.5" rx="0.75" ry="0.71" fill="#b89068" opacity="0.5"/><ellipse cx="12.2" cy="19.3" rx="1.53" ry="1.20" fill="#b89068" opacity="0.5"/><ellipse cx="18.7" cy="7.6" rx="1.12" ry="0.84" fill="#b89068" opacity="0.5"/><ellipse cx="14.1" cy="8.0" rx="1.25" ry="0.92" fill="#b89068" opacity="0.5"/><ellipse cx="1.0" cy="24.8" rx="1.30" ry="1.25" fill="#b89068" opacity="0.5"/><ellipse cx="21.2" cy="22.0" rx="1.79" ry="0.84" fill="#b89068" opacity="0.5"/><ellipse cx="11.3" cy="0.1" rx="1.40" ry="1.04" fill="#b89068" opacity="0.5"/><ellipse cx="16.6" cy="30.0" rx="0.84" ry="0.70" fill="#b89068" opacity="0.5"/><ellipse cx="21.1" cy="24.5" rx="1.18" ry="0.53" fill="#b89068" opacity="0.5"/><ellipse cx="10.7" cy="24.9" rx="1.20" ry="0.92" fill="#b89068" opacity="0.5"/><ellipse cx="11.2" cy="18.9" rx="1.32" ry="1.15" fill="#b89068" opacity="0.5"/><ellipse cx="24.9" cy="22.6" rx="1.05" ry="0.72" fill="#b89068" opacity="0.5"/><ellipse cx="22.5" cy="23.9" rx="1.71" ry="0.67" fill="#b89068" opacity="0.5"/><ellipse cx="24.4" cy="26.8" rx="0.69" ry="0.78" fill="#b89068" opacity="0.5"/><ellipse cx="18.2" cy="4.4" rx="1.60" ry="0.73" fill="#b89068" opacity="0.5"/><ellipse cx="19.7" cy="8.9" rx="0.51" ry="0.40" fill="#e8dcc8" opacity="0.7"/><ellipse cx="14.3" cy="21.5" rx="0.51" ry="0.59" fill="#e8dcc8" opacity="0.7"/><ellipse cx="9.7" cy="19.5" rx="0.58" ry="0.40" fill="#e8dcc8" opacity="0.7"/><ellipse cx="4.1" cy="1.7" rx="0.75" ry="0.49" fill="#e8dcc8" opacity="0.7"/><ellipse cx="3.5" cy="26.5" rx="0.73" ry="0.33" fill="#e8dcc8" opacity="0.7"/></g>
<rect x="21.10" y="350.40" width="28.8" height="30.1" fill="#000" filter="url(#grain)" opacity="0.32"/>
<rect x="21.10" y="350.40" width="28.8" height="30.1" fill="#000" filter="url(#grainw)" opacity="0.18"/>
</g></g>
<rect x="31.30" y="326.70" width="7.20" height="7.70" fill="none" stroke="#111" stroke-width="1.1" />
<line x1="31.30" y1="334.40" x2="21.30" y2="349.60" stroke="#111" stroke-width="1.2" />
<line x1="38.50" y1="334.40" x2="49.70" y2="349.60" stroke="#111" stroke-width="1.2" />
<rect x="46.50" y="378.70" width="2.40" height="1.10" fill="#111" stroke="none" stroke-width="1" />
<g clip-path="url(#tc10)"><g filter="url(#soft)">
<rect x="52.50" y="317.50" width="28.80" height="30.60" fill="#868494" stroke="none" stroke-width="1" />
<g transform="translate(52.50,317.50)"><ellipse cx="20.9" cy="18.2" rx="1.09" ry="0.92" fill="#625e76" opacity="0.55"/><ellipse cx="27.7" cy="11.4" rx="1.30" ry="1.04" fill="#625e76" opacity="0.55"/><ellipse cx="10.5" cy="10.6" rx="1.43" ry="1.04" fill="#625e76" opacity="0.55"/><ellipse cx="13.2" cy="15.7" rx="0.85" ry="1.17" fill="#625e76" opacity="0.55"/><ellipse cx="0.6" cy="19.7" rx="1.10" ry="0.67" fill="#625e76" opacity="0.55"/><ellipse cx="16.9" cy="17.8" rx="0.70" ry="0.91" fill="#625e76" opacity="0.55"/><ellipse cx="4.8" cy="24.5" rx="0.96" ry="0.77" fill="#625e76" opacity="0.55"/><ellipse cx="6.2" cy="1.5" rx="0.81" ry="0.61" fill="#625e76" opacity="0.55"/><ellipse cx="18.0" cy="25.9" rx="0.84" ry="0.58" fill="#625e76" opacity="0.55"/><ellipse cx="15.4" cy="3.5" rx="1.05" ry="1.15" fill="#625e76" opacity="0.55"/><ellipse cx="5.9" cy="21.4" rx="1.19" ry="0.55" fill="#625e76" opacity="0.55"/><ellipse cx="7.0" cy="18.3" rx="0.71" ry="0.66" fill="#625e76" opacity="0.55"/><ellipse cx="16.6" cy="25.0" rx="1.17" ry="1.06" fill="#625e76" opacity="0.55"/><ellipse cx="0.3" cy="9.3" rx="0.95" ry="1.28" fill="#625e76" opacity="0.55"/><ellipse cx="10.3" cy="24.0" rx="0.64" ry="0.92" fill="#625e76" opacity="0.55"/><ellipse cx="25.7" cy="23.6" rx="1.24" ry="0.64" fill="#625e76" opacity="0.55"/><ellipse cx="26.7" cy="2.4" rx="1.66" ry="1.16" fill="#625e76" opacity="0.55"/><ellipse cx="20.7" cy="16.2" rx="0.78" ry="0.78" fill="#625e76" opacity="0.55"/><ellipse cx="19.1" cy="20.1" rx="1.03" ry="1.19" fill="#625e76" opacity="0.55"/><ellipse cx="1.5" cy="8.8" rx="0.70" ry="0.77" fill="#625e76" opacity="0.55"/><ellipse cx="22.8" cy="23.1" rx="0.76" ry="0.75" fill="#625e76" opacity="0.55"/><ellipse cx="3.2" cy="20.3" rx="1.09" ry="0.68" fill="#625e76" opacity="0.55"/><ellipse cx="10.8" cy="26.5" rx="1.07" ry="1.09" fill="#625e76" opacity="0.55"/><ellipse cx="18.1" cy="14.5" rx="1.21" ry="0.80" fill="#625e76" opacity="0.55"/><ellipse cx="5.7" cy="15.1" rx="0.93" ry="0.77" fill="#625e76" opacity="0.55"/><ellipse cx="5.4" cy="27.9" rx="1.07" ry="0.66" fill="#625e76" opacity="0.55"/><ellipse cx="0.9" cy="6.6" rx="1.56" ry="0.78" fill="#625e76" opacity="0.55"/><ellipse cx="19.2" cy="7.1" rx="1.32" ry="0.88" fill="#625e76" opacity="0.55"/><ellipse cx="21.2" cy="16.2" rx="1.01" ry="0.73" fill="#625e76" opacity="0.55"/><ellipse cx="17.1" cy="25.5" rx="1.36" ry="0.90" fill="#625e76" opacity="0.55"/><ellipse cx="9.5" cy="27.3" rx="1.53" ry="0.61" fill="#625e76" opacity="0.55"/><ellipse cx="19.6" cy="23.6" rx="1.34" ry="1.33" fill="#625e76" opacity="0.55"/><ellipse cx="25.3" cy="7.5" rx="1.70" ry="0.77" fill="#625e76" opacity="0.55"/><ellipse cx="10.9" cy="29.9" rx="0.78" ry="0.83" fill="#625e76" opacity="0.55"/><ellipse cx="18.0" cy="8.4" rx="0.74" ry="0.97" fill="#ececf2" opacity="0.9"/><ellipse cx="17.6" cy="22.8" rx="1.21" ry="1.03" fill="#ececf2" opacity="0.9"/><ellipse cx="25.7" cy="25.2" rx="1.38" ry="0.76" fill="#ececf2" opacity="0.9"/><ellipse cx="20.2" cy="15.7" rx="1.37" ry="0.87" fill="#ececf2" opacity="0.9"/><ellipse cx="12.4" cy="20.3" rx="0.77" ry="0.49" fill="#ececf2" opacity="0.9"/><ellipse cx="11.1" cy="4.2" rx="0.50" ry="0.47" fill="#ececf2" opacity="0.9"/><ellipse cx="13.1" cy="23.4" rx="0.54" ry="0.86" fill="#ececf2" opacity="0.9"/><ellipse cx="3.2" cy="15.6" rx="0.77" ry="0.72" fill="#ececf2" opacity="0.9"/><ellipse cx="20.5" cy="12.7" rx="0.85" ry="0.92" fill="#ececf2" opacity="0.9"/><ellipse cx="3.3" cy="10.7" rx="1.13" ry="1.00" fill="#ececf2" opacity="0.9"/><ellipse cx="28.2" cy="7.9" rx="1.06" ry="0.63" fill="#ececf2" opacity="0.9"/><ellipse cx="20.2" cy="25.9" rx="0.62" ry="0.65" fill="#ececf2" opacity="0.9"/><ellipse cx="27.0" cy="10.8" rx="1.07" ry="0.99" fill="#ececf2" opacity="0.9"/><ellipse cx="8.0" cy="24.0" rx="0.50" ry="0.65" fill="#ececf2" opacity="0.9"/><ellipse cx="4.8" cy="10.6" rx="0.69" ry="0.42" fill="#ececf2" opacity="0.9"/><ellipse cx="23.1" cy="5.3" rx="1.02" ry="0.80" fill="#ececf2" opacity="0.9"/><ellipse cx="24.5" cy="25.9" rx="1.06" ry="0.52" fill="#ececf2" opacity="0.9"/><ellipse cx="21.9" cy="3.0" rx="1.34" ry="0.62" fill="#ececf2" opacity="0.9"/><ellipse cx="7.3" cy="6.6" rx="0.86" ry="0.97" fill="#ececf2" opacity="0.9"/><ellipse cx="24.6" cy="22.8" rx="1.16" ry="0.58" fill="#ececf2" opacity="0.9"/><ellipse cx="9.3" cy="9.3" rx="0.89" ry="1.03" fill="#ececf2" opacity="0.9"/><ellipse cx="28.7" cy="2.6" rx="1.37" ry="1.06" fill="#ececf2" opacity="0.9"/><ellipse cx="13.3" cy="21.2" rx="1.21" ry="0.53" fill="#ececf2" opacity="0.9"/><ellipse cx="17.7" cy="30.0" rx="1.29" ry="1.06" fill="#ececf2" opacity="0.9"/><ellipse cx="2.4" cy="21.9" rx="0.94" ry="1.05" fill="#ececf2" opacity="0.9"/><ellipse cx="4.8" cy="16.8" rx="0.61" ry="0.98" fill="#ececf2" opacity="0.9"/><ellipse cx="20.8" cy="1.0" rx="0.78" ry="0.50" fill="#ececf2" opacity="0.9"/><ellipse cx="18.3" cy="19.3" rx="0.56" ry="1.08" fill="#ececf2" opacity="0.9"/><ellipse cx="27.8" cy="13.5" rx="1.02" ry="0.66" fill="#ececf2" opacity="0.9"/><ellipse cx="17.5" cy="12.2" rx="0.90" ry="0.94" fill="#ececf2" opacity="0.9"/><ellipse cx="5.4" cy="9.1" rx="1.19" ry="0.56" fill="#ececf2" opacity="0.9"/><ellipse cx="2.0" cy="27.9" rx="0.64" ry="0.70" fill="#ececf2" opacity="0.9"/><ellipse cx="9.0" cy="8.0" rx="0.82" ry="0.79" fill="#ececf2" opacity="0.9"/><ellipse cx="3.3" cy="16.3" rx="0.55" ry="0.46" fill="#ececf2" opacity="0.9"/><ellipse cx="5.8" cy="7.4" rx="0.81" ry="0.61" fill="#ececf2" opacity="0.9"/><ellipse cx="24.1" cy="20.1" rx="0.93" ry="0.96" fill="#ececf2" opacity="0.9"/><ellipse cx="19.8" cy="9.7" rx="1.05" ry="0.94" fill="#ececf2" opacity="0.9"/><ellipse cx="15.4" cy="23.0" rx="1.07" ry="1.07" fill="#ececf2" opacity="0.9"/><ellipse cx="7.6" cy="20.6" rx="1.38" ry="0.78" fill="#ececf2" opacity="0.9"/><ellipse cx="26.1" cy="2.9" rx="1.15" ry="0.59" fill="#ececf2" opacity="0.9"/><ellipse cx="21.6" cy="13.0" rx="0.98" ry="0.58" fill="#ececf2" opacity="0.9"/><ellipse cx="7.4" cy="26.5" rx="1.08" ry="0.85" fill="#ececf2" opacity="0.9"/><ellipse cx="3.3" cy="9.0" rx="1.37" ry="0.55" fill="#ececf2" opacity="0.9"/><ellipse cx="15.5" cy="21.3" rx="0.96" ry="0.80" fill="#ececf2" opacity="0.9"/><ellipse cx="27.9" cy="23.9" rx="0.71" ry="0.71" fill="#ececf2" opacity="0.9"/><ellipse cx="12.1" cy="20.9" rx="1.11" ry="0.59" fill="#ececf2" opacity="0.9"/><ellipse cx="19.9" cy="13.2" rx="0.51" ry="0.61" fill="#ececf2" opacity="0.9"/><ellipse cx="10.9" cy="6.0" rx="1.10" ry="1.11" fill="#ececf2" opacity="0.9"/><ellipse cx="26.8" cy="19.3" rx="1.27" ry="0.75" fill="#ececf2" opacity="0.9"/><ellipse cx="16.9" cy="27.3" rx="0.55" ry="0.66" fill="#ececf2" opacity="0.9"/><ellipse cx="10.8" cy="10.4" rx="0.89" ry="0.44" fill="#ececf2" opacity="0.9"/><ellipse cx="19.6" cy="29.3" rx="0.71" ry="0.53" fill="#ececf2" opacity="0.9"/><ellipse cx="9.6" cy="24.4" rx="0.70" ry="0.96" fill="#ececf2" opacity="0.9"/><ellipse cx="5.0" cy="18.2" rx="1.15" ry="0.89" fill="#ececf2" opacity="0.9"/><ellipse cx="2.4" cy="29.3" rx="1.26" ry="0.75" fill="#ececf2" opacity="0.9"/></g>
<rect x="52.50" y="317.50" width="28.8" height="30.6" fill="#000" filter="url(#grain)" opacity="0.32"/>
<rect x="52.50" y="317.50" width="28.8" height="30.6" fill="#000" filter="url(#grainw)" opacity="0.18"/>
</g></g>
<g clip-path="url(#tc11)"><g filter="url(#soft)">
<rect x="52.50" y="350.40" width="28.80" height="30.10" fill="#78748a" stroke="none" stroke-width="1" />
<g transform="translate(52.50,350.40)"><path d="M-2,26 Q10,16 16,8 T30,-2" fill="none" stroke="#9a98a8" stroke-width="7" opacity="0.7"/><path d="M4,30 Q14,18 22,12 T32,4" fill="none" stroke="#5e5a70" stroke-width="1.4" opacity="0.6"/><ellipse cx="24.8" cy="18.1" rx="1.00" ry="1.02" fill="#605a70" opacity="0.45"/><ellipse cx="23.6" cy="14.0" rx="0.85" ry="0.80" fill="#605a70" opacity="0.45"/><ellipse cx="5.4" cy="17.6" rx="1.57" ry="1.07" fill="#605a70" opacity="0.45"/><ellipse cx="11.6" cy="29.0" rx="1.21" ry="1.29" fill="#605a70" opacity="0.45"/><ellipse cx="5.9" cy="15.5" rx="1.02" ry="0.75" fill="#605a70" opacity="0.45"/><ellipse cx="9.7" cy="3.5" rx="1.26" ry="1.27" fill="#605a70" opacity="0.45"/><ellipse cx="15.8" cy="23.9" rx="1.37" ry="0.72" fill="#605a70" opacity="0.45"/><ellipse cx="20.9" cy="12.1" rx="1.70" ry="1.58" fill="#605a70" opacity="0.45"/><ellipse cx="15.1" cy="7.5" rx="1.23" ry="1.12" fill="#605a70" opacity="0.45"/><ellipse cx="9.2" cy="3.1" rx="1.28" ry="1.27" fill="#605a70" opacity="0.45"/><ellipse cx="23.5" cy="22.9" rx="1.86" ry="1.41" fill="#605a70" opacity="0.45"/><ellipse cx="11.8" cy="19.4" rx="0.86" ry="1.40" fill="#605a70" opacity="0.45"/><ellipse cx="20.4" cy="8.0" rx="1.37" ry="0.90" fill="#605a70" opacity="0.45"/><ellipse cx="22.9" cy="12.8" rx="1.74" ry="1.53" fill="#605a70" opacity="0.45"/><ellipse cx="22.4" cy="11.4" rx="1.21" ry="1.55" fill="#605a70" opacity="0.45"/><ellipse cx="26.0" cy="5.7" rx="1.23" ry="1.40" fill="#605a70" opacity="0.45"/><ellipse cx="21.8" cy="8.5" rx="1.34" ry="1.56" fill="#605a70" opacity="0.45"/><ellipse cx="2.6" cy="8.2" rx="1.60" ry="1.51" fill="#605a70" opacity="0.45"/><ellipse cx="27.3" cy="14.1" rx="1.23" ry="1.10" fill="#b09060" opacity="0.7"/><ellipse cx="9.5" cy="6.8" rx="0.81" ry="0.98" fill="#b09060" opacity="0.7"/><ellipse cx="4.0" cy="16.5" rx="1.34" ry="0.61" fill="#b09060" opacity="0.7"/><ellipse cx="18.1" cy="15.9" rx="1.37" ry="0.81" fill="#b09060" opacity="0.7"/><ellipse cx="14.1" cy="27.2" rx="1.20" ry="0.57" fill="#b09060" opacity="0.7"/><ellipse cx="23.1" cy="12.0" rx="1.37" ry="1.10" fill="#b09060" opacity="0.7"/><ellipse cx="14.2" cy="12.5" rx="0.78" ry="0.66" fill="#b09060" opacity="0.7"/><ellipse cx="5.9" cy="5.1" rx="1.18" ry="0.51" fill="#b09060" opacity="0.7"/><ellipse cx="17.2" cy="18.0" rx="1.19" ry="0.84" fill="#b09060" opacity="0.7"/><ellipse cx="26.7" cy="8.5" rx="0.67" ry="0.85" fill="#b09060" opacity="0.7"/><ellipse cx="7.8" cy="29.7" rx="1.53" ry="1.06" fill="#ececf0" opacity="0.85"/><ellipse cx="24.0" cy="7.4" rx="1.14" ry="0.84" fill="#ececf0" opacity="0.85"/><ellipse cx="9.9" cy="11.3" rx="1.13" ry="1.03" fill="#ececf0" opacity="0.85"/><ellipse cx="0.7" cy="16.2" rx="0.82" ry="1.26" fill="#ececf0" opacity="0.85"/><ellipse cx="15.9" cy="17.7" rx="0.98" ry="1.07" fill="#ececf0" opacity="0.85"/><ellipse cx="20.4" cy="27.4" rx="1.22" ry="0.75" fill="#ececf0" opacity="0.85"/></g>
<rect x="52.50" y="350.40" width="28.8" height="30.1" fill="#000" filter="url(#grain)" opacity="0.32"/>
<rect x="52.50" y="350.40" width="28.8" height="30.1" fill="#000" filter="url(#grainw)" opacity="0.18"/>
</g></g>
<rect x="62.10" y="327.30" width="6.70" height="7.10" fill="none" stroke="#111" stroke-width="1.1" />
<line x1="62.10" y1="334.40" x2="52.70" y2="349.60" stroke="#111" stroke-width="1.2" />
<line x1="68.80" y1="334.40" x2="81.10" y2="349.60" stroke="#111" stroke-width="1.2" />
<rect x="77.90" y="378.70" width="2.40" height="1.10" fill="#111" stroke="none" stroke-width="1" />
<g clip-path="url(#tc20)"><g filter="url(#soft)">
<rect x="84.00" y="317.50" width="28.80" height="30.60" fill="#b5b5c7" stroke="none" stroke-width="1" />
<g transform="translate(84.00,317.50)"><ellipse cx="18.1" cy="1.5" rx="1.17" ry="0.62" fill="#8e8ea4" opacity="0.5"/><ellipse cx="20.7" cy="4.0" rx="1.04" ry="0.52" fill="#8e8ea4" opacity="0.5"/><ellipse cx="1.1" cy="8.1" rx="1.26" ry="0.68" fill="#8e8ea4" opacity="0.5"/><ellipse cx="15.1" cy="24.2" rx="1.38" ry="0.59" fill="#8e8ea4" opacity="0.5"/><ellipse cx="20.0" cy="23.9" rx="1.21" ry="0.65" fill="#8e8ea4" opacity="0.5"/><ellipse cx="13.7" cy="24.0" rx="0.73" ry="0.75" fill="#8e8ea4" opacity="0.5"/><ellipse cx="18.2" cy="26.0" rx="0.72" ry="0.88" fill="#8e8ea4" opacity="0.5"/><ellipse cx="6.3" cy="4.8" rx="0.93" ry="0.87" fill="#8e8ea4" opacity="0.5"/><ellipse cx="18.4" cy="29.0" rx="0.65" ry="0.78" fill="#8e8ea4" opacity="0.5"/><ellipse cx="13.8" cy="7.9" rx="1.33" ry="0.50" fill="#8e8ea4" opacity="0.5"/><ellipse cx="7.5" cy="1.2" rx="1.08" ry="0.87" fill="#8e8ea4" opacity="0.5"/><ellipse cx="6.4" cy="28.2" rx="1.07" ry="0.55" fill="#8e8ea4" opacity="0.5"/><ellipse cx="27.1" cy="26.1" rx="0.78" ry="1.02" fill="#8e8ea4" opacity="0.5"/><ellipse cx="3.8" cy="10.6" rx="0.88" ry="1.09" fill="#8e8ea4" opacity="0.5"/><path d="M6.0,5.5 Q5.6,12.4 8.0,16.3" fill="none" stroke="#d0d0dc" stroke-width="1.00" stroke-linecap="round" opacity="0.5"/><path d="M14.3,24.3 Q16.9,30.2 18.2,35.4" fill="none" stroke="#d0d0dc" stroke-width="1.04" stroke-linecap="round" opacity="0.5"/><path d="M16.9,4.0 Q20.2,8.4 22.7,12.3" fill="none" stroke="#d0d0dc" stroke-width="1.28" stroke-linecap="round" opacity="0.5"/><path d="M-0.6,15.2 Q3.7,22.1 4.1,28.7" fill="none" stroke="#d0d0dc" stroke-width="1.06" stroke-linecap="round" opacity="0.5"/></g>
<rect x="84.00" y="317.50" width="28.8" height="30.6" fill="#000" filter="url(#grain)" opacity="0.32"/>
<rect x="84.00" y="317.50" width="28.8" height="30.6" fill="#000" filter="url(#grainw)" opacity="0.18"/>
</g></g>
<g clip-path="url(#tc21)"><g filter="url(#soft)">
<rect x="84.00" y="350.40" width="28.80" height="30.10" fill="#bdbdcd" stroke="none" stroke-width="1" />
<g transform="translate(84.00,350.40)"><ellipse cx="18.6" cy="4.4" rx="1.47" ry="0.89" fill="#9e9eb4" opacity="0.4"/><ellipse cx="1.2" cy="14.5" rx="1.55" ry="1.26" fill="#9e9eb4" opacity="0.4"/><ellipse cx="12.3" cy="8.0" rx="1.54" ry="0.71" fill="#9e9eb4" opacity="0.4"/><ellipse cx="0.5" cy="7.4" rx="1.07" ry="1.02" fill="#9e9eb4" opacity="0.4"/><ellipse cx="1.9" cy="10.1" rx="1.33" ry="0.76" fill="#9e9eb4" opacity="0.4"/><ellipse cx="5.1" cy="21.4" rx="1.04" ry="1.04" fill="#9e9eb4" opacity="0.4"/><ellipse cx="13.9" cy="24.5" rx="1.11" ry="1.26" fill="#9e9eb4" opacity="0.4"/><ellipse cx="23.4" cy="21.7" rx="1.09" ry="0.97" fill="#9e9eb4" opacity="0.4"/><ellipse cx="10.8" cy="2.3" rx="1.48" ry="1.13" fill="#9e9eb4" opacity="0.4"/><ellipse cx="22.1" cy="25.9" rx="1.15" ry="1.28" fill="#9e9eb4" opacity="0.4"/><path d="M8,10 Q12,2 17,6 Q19,12 23,16 Q26,22 19,25 Q13,26 9,21 Q5,15 8,10 Z" fill="#5d5b6e" opacity="0.9"/><path d="M11,11 Q13,7 15,9 Q16,14 20,17 Q21,21 17,21 Q13,21 11,17 Z" fill="#d8d6e0" opacity="0.9"/><ellipse cx="14.5" cy="14" rx="1.3" ry="2" fill="#f4f4f6"/></g>
<rect x="84.00" y="350.40" width="28.8" height="30.1" fill="#000" filter="url(#grain)" opacity="0.32"/>
<rect x="84.00" y="350.40" width="28.8" height="30.1" fill="#000" filter="url(#grainw)" opacity="0.18"/>
</g></g>
<rect x="98.00" y="325.80" width="7.00" height="6.70" fill="none" stroke="#111" stroke-width="1.1" />
<line x1="98.00" y1="332.50" x2="84.20" y2="349.60" stroke="#111" stroke-width="1.2" />
<line x1="105.00" y1="332.50" x2="112.60" y2="349.60" stroke="#111" stroke-width="1.2" />
<rect x="109.40" y="378.70" width="2.40" height="1.10" fill="#111" stroke="none" stroke-width="1" />
<g clip-path="url(#tc30)"><g filter="url(#soft)">
<rect x="116.70" y="317.50" width="28.80" height="30.60" fill="#9fa1ab" stroke="none" stroke-width="1" />
<g transform="translate(116.70,317.50)"><path d="M13.3,29.3 Q14.0,36.5 13.5,38.4" fill="none" stroke="#e4e4e8" stroke-width="1.06" stroke-linecap="round" opacity="0.85"/><path d="M30.3,3.4 Q26.7,2.9 19.9,17.4" fill="none" stroke="#e4e4e8" stroke-width="1.16" stroke-linecap="round" opacity="0.85"/><path d="M-1.3,3.7 Q-6.9,9.6 -6.7,11.7" fill="none" stroke="#e4e4e8" stroke-width="0.75" stroke-linecap="round" opacity="0.85"/><path d="M-1.4,13.6 Q5.8,20.9 8.6,32.0" fill="none" stroke="#e4e4e8" stroke-width="1.14" stroke-linecap="round" opacity="0.85"/><path d="M2.1,-6.6 Q-1.2,-2.4 -4.4,-0.1" fill="none" stroke="#e4e4e8" stroke-width="0.79" stroke-linecap="round" opacity="0.85"/><path d="M24.3,26.4 Q24.6,35.6 18.1,35.2" fill="none" stroke="#e4e4e8" stroke-width="1.10" stroke-linecap="round" opacity="0.85"/><path d="M18.6,-0.1 Q21.8,11.5 20.9,18.7" fill="none" stroke="#e4e4e8" stroke-width="1.39" stroke-linecap="round" opacity="0.85"/><path d="M24.7,-5.5 Q24.0,1.7 25.2,4.9" fill="none" stroke="#e4e4e8" stroke-width="0.88" stroke-linecap="round" opacity="0.85"/><path d="M18.9,7.8 Q15.8,18.7 14.2,19.1" fill="none" stroke="#e4e4e8" stroke-width="0.79" stroke-linecap="round" opacity="0.85"/><path d="M25.7,14.2 Q31.0,24.5 32.5,27.0" fill="none" stroke="#e4e4e8" stroke-width="0.94" stroke-linecap="round" opacity="0.85"/><path d="M25.3,13.1 Q20.7,16.4 19.1,19.9" fill="none" stroke="#e4e4e8" stroke-width="1.23" stroke-linecap="round" opacity="0.85"/><path d="M32.6,24.0 Q24.1,29.6 23.9,33.9" fill="none" stroke="#e4e4e8" stroke-width="1.00" stroke-linecap="round" opacity="0.85"/><path d="M33.2,17.1 Q25.5,23.0 22.6,30.7" fill="none" stroke="#e4e4e8" stroke-width="0.77" stroke-linecap="round" opacity="0.85"/><path d="M5.3,-4.7 Q15.7,5.3 12.5,12.1" fill="none" stroke="#e4e4e8" stroke-width="1.01" stroke-linecap="round" opacity="0.85"/><path d="M-2.6,5.9 Q7.2,11.2 3.4,20.6" fill="none" stroke="#e4e4e8" stroke-width="1.00" stroke-linecap="round" opacity="0.85"/><path d="M10.5,6.0 Q1.9,9.0 2.5,14.8" fill="none" stroke="#e4e4e8" stroke-width="1.12" stroke-linecap="round" opacity="0.85"/><path d="M10.0,2.1 Q11.1,7.7 17.3,15.0" fill="none" stroke="#e4e4e8" stroke-width="1.24" stroke-linecap="round" opacity="0.85"/><path d="M10.3,3.6 Q12.6,7.3 13.3,20.5" fill="none" stroke="#e4e4e8" stroke-width="1.13" stroke-linecap="round" opacity="0.85"/><path d="M21.9,13.1 Q24.7,16.4 9.8,29.4" fill="none" stroke="#e4e4e8" stroke-width="1.37" stroke-linecap="round" opacity="0.85"/><path d="M17.7,5.3 Q18.2,14.1 7.0,15.0" fill="none" stroke="#e4e4e8" stroke-width="0.91" stroke-linecap="round" opacity="0.85"/><path d="M4.5,-3.8 Q-6.4,-3.9 -3.7,11.5" fill="none" stroke="#e4e4e8" stroke-width="1.40" stroke-linecap="round" opacity="0.85"/><path d="M5.2,-8.9 Q12.5,-2.0 11.6,4.1" fill="none" stroke="#e4e4e8" stroke-width="1.13" stroke-linecap="round" opacity="0.85"/><path d="M33.3,-3.6 Q31.1,0.3 26.9,5.3" fill="none" stroke="#70727e" stroke-width="0.81" stroke-linecap="round" opacity="0.55"/><path d="M26.6,25.3 Q26.9,26.2 10.9,39.6" fill="none" stroke="#70727e" stroke-width="0.62" stroke-linecap="round" opacity="0.55"/><path d="M27.5,-2.1 Q32.3,4.8 25.6,13.1" fill="none" stroke="#70727e" stroke-width="0.68" stroke-linecap="round" opacity="0.55"/><path d="M-0.2,21.9 Q10.7,28.9 7.2,39.9" fill="none" stroke="#70727e" stroke-width="1.04" stroke-linecap="round" opacity="0.55"/><path d="M12.8,22.8 Q17.5,33.3 20.8,35.4" fill="none" stroke="#70727e" stroke-width="0.85" stroke-linecap="round" opacity="0.55"/><path d="M26.1,6.7 Q23.6,13.2 26.7,19.7" fill="none" stroke="#70727e" stroke-width="1.18" stroke-linecap="round" opacity="0.55"/><path d="M17.6,20.4 Q18.4,24.7 17.9,30.9" fill="none" stroke="#70727e" stroke-width="0.61" stroke-linecap="round" opacity="0.55"/><path d="M34.8,-4.2 Q25.0,-2.2 21.0,6.1" fill="none" stroke="#70727e" stroke-width="0.80" stroke-linecap="round" opacity="0.55"/><path d="M14.8,28.9 Q19.1,32.0 17.1,38.7" fill="none" stroke="#70727e" stroke-width="1.00" stroke-linecap="round" opacity="0.55"/><path d="M24.9,-7.5 Q25.4,-2.7 20.3,-0.5" fill="none" stroke="#70727e" stroke-width="0.88" stroke-linecap="round" opacity="0.55"/><path d="M-0.8,11.6 Q-3.8,16.5 0.2,21.1" fill="none" stroke="#70727e" stroke-width="0.88" stroke-linecap="round" opacity="0.55"/><path d="M4.1,0.8 Q3.8,8.0 8.9,8.3" fill="none" stroke="#70727e" stroke-width="0.62" stroke-linecap="round" opacity="0.55"/></g>
<rect x="116.70" y="317.50" width="28.8" height="30.6" fill="#000" filter="url(#grain)" opacity="0.32"/>
<rect x="116.70" y="317.50" width="28.8" height="30.6" fill="#000" filter="url(#grainw)" opacity="0.18"/>
</g></g>
<g clip-path="url(#tc31)"><g filter="url(#soft)">
<rect x="116.70" y="350.40" width="28.80" height="30.10" fill="#a5a596" stroke="none" stroke-width="1" />
<g transform="translate(116.70,350.40)"><path d="M23.7,5.4 Q27.8,16.9 21.1,21.4" fill="none" stroke="#7e82a0" stroke-width="3.61" stroke-linecap="round" opacity="0.6"/><path d="M14.1,26.4 Q12.7,31.5 9.6,35.5" fill="none" stroke="#7e82a0" stroke-width="3.80" stroke-linecap="round" opacity="0.6"/><path d="M18.8,-6.2 Q15.5,-3.9 16.7,5.1" fill="none" stroke="#7e82a0" stroke-width="4.07" stroke-linecap="round" opacity="0.6"/><path d="M14.7,18.3 Q9.1,24.4 8.3,30.2" fill="none" stroke="#7e82a0" stroke-width="3.63" stroke-linecap="round" opacity="0.6"/><path d="M27.0,-6.6 Q26.5,-1.9 23.3,8.6" fill="none" stroke="#7e82a0" stroke-width="3.81" stroke-linecap="round" opacity="0.6"/><path d="M37.5,-9.5 Q31.5,-6.4 27.0,9.4" fill="none" stroke="#7e82a0" stroke-width="3.75" stroke-linecap="round" opacity="0.6"/><path d="M35.6,-12.2 Q25.0,-2.2 27.3,4.3" fill="none" stroke="#e8e6dc" stroke-width="1.81" stroke-linecap="round" opacity="0.85"/><path d="M1.7,10.1 Q-0.0,12.9 -2.4,21.6" fill="none" stroke="#e8e6dc" stroke-width="2.89" stroke-linecap="round" opacity="0.85"/><path d="M-0.4,21.6 Q-2.6,26.1 -7.1,31.5" fill="none" stroke="#e8e6dc" stroke-width="1.90" stroke-linecap="round" opacity="0.85"/><path d="M30.4,18.3 Q35.7,36.3 24.7,39.0" fill="none" stroke="#e8e6dc" stroke-width="2.53" stroke-linecap="round" opacity="0.85"/><path d="M11.6,13.4 Q9.1,23.2 5.4,24.6" fill="none" stroke="#e8e6dc" stroke-width="2.85" stroke-linecap="round" opacity="0.85"/><path d="M22.1,-2.4 Q21.9,-0.2 25.4,9.9" fill="none" stroke="#e8e6dc" stroke-width="2.02" stroke-linecap="round" opacity="0.85"/><path d="M31.2,-8.0 Q30.3,-4.4 19.2,9.1" fill="none" stroke="#e8e6dc" stroke-width="2.01" stroke-linecap="round" opacity="0.85"/><path d="M9.5,9.7 Q5.0,25.7 16.2,29.5" fill="none" stroke="#e8e6dc" stroke-width="1.63" stroke-linecap="round" opacity="0.85"/></g>
<rect x="116.70" y="350.40" width="28.8" height="30.1" fill="#000" filter="url(#grain)" opacity="0.32"/>
<rect x="116.70" y="350.40" width="28.8" height="30.1" fill="#000" filter="url(#grainw)" opacity="0.18"/>
</g></g>
<rect x="129.20" y="329.20" width="6.80" height="7.70" fill="none" stroke="#111" stroke-width="1.1" />
<line x1="129.20" y1="336.90" x2="116.90" y2="349.60" stroke="#111" stroke-width="1.2" />
<line x1="136.00" y1="336.90" x2="145.30" y2="349.60" stroke="#111" stroke-width="1.2" />
<rect x="142.10" y="378.70" width="2.40" height="1.10" fill="#111" stroke="none" stroke-width="1" />
<g clip-path="url(#tc40)"><g filter="url(#soft)">
<rect x="148.10" y="317.50" width="28.80" height="30.60" fill="#8e90a2" stroke="none" stroke-width="1" />
<g transform="translate(148.10,317.50)"><path d="M21.4,11.0 Q29.8,6.0 36.4,-4.6" fill="none" stroke="#e0e2ea" stroke-width="1.18" stroke-linecap="round" opacity="0.85"/><path d="M5.8,21.5 Q9.8,16.6 16.8,6.0" fill="none" stroke="#e0e2ea" stroke-width="1.22" stroke-linecap="round" opacity="0.85"/><path d="M23.3,14.9 Q28.2,7.0 29.6,3.7" fill="none" stroke="#e0e2ea" stroke-width="0.73" stroke-linecap="round" opacity="0.85"/><path d="M-8.2,23.4 Q-5.3,11.6 2.0,4.0" fill="none" stroke="#e0e2ea" stroke-width="1.09" stroke-linecap="round" opacity="0.85"/><path d="M1.4,7.0 Q6.8,-0.4 16.9,-1.6" fill="none" stroke="#e0e2ea" stroke-width="0.89" stroke-linecap="round" opacity="0.85"/><path d="M26.5,1.4 Q31.4,-1.9 34.2,-4.8" fill="none" stroke="#e0e2ea" stroke-width="0.63" stroke-linecap="round" opacity="0.85"/><path d="M14.2,3.9 Q17.9,-1.6 18.3,-4.2" fill="none" stroke="#e0e2ea" stroke-width="0.93" stroke-linecap="round" opacity="0.85"/><path d="M20.6,7.4 Q26.6,2.1 31.8,0.1" fill="none" stroke="#e0e2ea" stroke-width="0.98" stroke-linecap="round" opacity="0.85"/><path d="M27.9,37.3 Q28.8,27.6 37.3,17.9" fill="none" stroke="#e0e2ea" stroke-width="0.61" stroke-linecap="round" opacity="0.85"/><path d="M24.6,11.2 Q30.9,8.9 38.2,3.4" fill="none" stroke="#e0e2ea" stroke-width="0.71" stroke-linecap="round" opacity="0.85"/><path d="M8.5,30.2 Q14.5,23.2 16.3,17.9" fill="none" stroke="#e0e2ea" stroke-width="1.24" stroke-linecap="round" opacity="0.85"/><path d="M3.7,30.9 Q9.3,28.4 11.4,24.9" fill="none" stroke="#e0e2ea" stroke-width="0.89" stroke-linecap="round" opacity="0.85"/><path d="M26.6,41.4 Q28.9,34.2 37.5,25.2" fill="none" stroke="#e0e2ea" stroke-width="0.69" stroke-linecap="round" opacity="0.85"/><path d="M-8.0,26.0 Q1.0,21.3 4.4,8.8" fill="none" stroke="#e0e2ea" stroke-width="1.26" stroke-linecap="round" opacity="0.85"/><path d="M-10.6,5.9 Q-3.8,-1.5 8.6,-3.6" fill="none" stroke="#e0e2ea" stroke-width="1.10" stroke-linecap="round" opacity="0.85"/><path d="M-4.2,3.4 Q-1.0,1.4 3.4,-3.4" fill="none" stroke="#e0e2ea" stroke-width="0.71" stroke-linecap="round" opacity="0.85"/><path d="M24.0,30.7 Q29.9,24.4 34.0,22.1" fill="none" stroke="#e0e2ea" stroke-width="1.25" stroke-linecap="round" opacity="0.85"/><path d="M7.9,24.8 Q10.3,12.1 16.5,6.9" fill="none" stroke="#e0e2ea" stroke-width="1.12" stroke-linecap="round" opacity="0.85"/><path d="M-4.1,27.5 Q1.7,23.1 12.2,19.9" fill="none" stroke="#e0e2ea" stroke-width="1.15" stroke-linecap="round" opacity="0.85"/><path d="M5.1,7.6 Q12.0,2.0 19.6,-2.0" fill="none" stroke="#e0e2ea" stroke-width="0.69" stroke-linecap="round" opacity="0.85"/><path d="M5.2,31.4 Q10.2,28.3 16.7,25.5" fill="none" stroke="#e0e2ea" stroke-width="1.15" stroke-linecap="round" opacity="0.85"/><path d="M24.8,33.7 Q27.5,28.8 34.3,23.5" fill="none" stroke="#e0e2ea" stroke-width="1.17" stroke-linecap="round" opacity="0.85"/><path d="M-0.0,11.4 Q2.9,9.9 6.1,4.9" fill="none" stroke="#e0e2ea" stroke-width="1.07" stroke-linecap="round" opacity="0.85"/><path d="M24.1,8.0 Q27.4,4.1 35.4,-0.5" fill="none" stroke="#e0e2ea" stroke-width="1.04" stroke-linecap="round" opacity="0.85"/><path d="M-8.0,11.9 Q-2.0,3.2 1.9,-4.2" fill="none" stroke="#e0e2ea" stroke-width="0.87" stroke-linecap="round" opacity="0.85"/><path d="M19.6,16.7 Q28.7,8.1 36.8,5.9" fill="none" stroke="#e0e2ea" stroke-width="0.83" stroke-linecap="round" opacity="0.85"/><path d="M25.8,12.3 Q32.3,7.1 36.5,0.1" fill="none" stroke="#5e6286" stroke-width="1.13" stroke-linecap="round" opacity="0.6"/><path d="M10.3,6.1 Q20.4,0.4 25.4,-5.6" fill="none" stroke="#5e6286" stroke-width="0.79" stroke-linecap="round" opacity="0.6"/><path d="M5.1,22.9 Q14.2,17.9 19.5,12.4" fill="none" stroke="#5e6286" stroke-width="0.72" stroke-linecap="round" opacity="0.6"/><path d="M23.8,26.8 Q28.7,23.7 31.5,20.1" fill="none" stroke="#5e6286" stroke-width="0.67" stroke-linecap="round" opacity="0.6"/><path d="M23.4,27.2 Q29.0,24.5 32.3,21.2" fill="none" stroke="#5e6286" stroke-width="1.17" stroke-linecap="round" opacity="0.6"/><path d="M8.3,0.8 Q17.9,-2.2 23.2,-7.9" fill="none" stroke="#5e6286" stroke-width="1.17" stroke-linecap="round" opacity="0.6"/><path d="M22.7,17.7 Q24.4,15.4 28.4,10.9" fill="none" stroke="#5e6286" stroke-width="1.08" stroke-linecap="round" opacity="0.6"/><path d="M23.7,30.4 Q27.3,24.5 35.0,21.6" fill="none" stroke="#5e6286" stroke-width="0.84" stroke-linecap="round" opacity="0.6"/><path d="M-6.9,14.2 Q-3.5,6.4 2.9,2.5" fill="none" stroke="#5e6286" stroke-width="0.87" stroke-linecap="round" opacity="0.6"/><path d="M19.4,18.2 Q28.4,14.9 34.2,8.3" fill="none" stroke="#5e6286" stroke-width="0.90" stroke-linecap="round" opacity="0.6"/><path d="M-6.5,6.7 Q-1.9,2.5 1.9,-1.7" fill="none" stroke="#5e6286" stroke-width="0.77" stroke-linecap="round" opacity="0.6"/><path d="M-6.9,30.6 Q-0.2,25.8 11.3,18.4" fill="none" stroke="#5e6286" stroke-width="1.08" stroke-linecap="round" opacity="0.6"/><path d="M8.2,27.0 Q17.0,18.5 23.4,13.9" fill="none" stroke="#5e6286" stroke-width="1.10" stroke-linecap="round" opacity="0.6"/><path d="M9.8,7.6 Q16.7,2.4 24.2,-0.8" fill="none" stroke="#5e6286" stroke-width="1.03" stroke-linecap="round" opacity="0.6"/></g>
<rect x="148.10" y="317.50" width="28.8" height="30.6" fill="#000" filter="url(#grain)" opacity="0.32"/>
<rect x="148.10" y="317.50" width="28.8" height="30.6" fill="#000" filter="url(#grainw)" opacity="0.18"/>
</g></g>
<g clip-path="url(#tc41)"><g filter="url(#soft)">
<rect x="148.10" y="350.40" width="28.80" height="30.10" fill="#8c8ea4" stroke="none" stroke-width="1" />
<g transform="translate(148.10,350.40)"><path d="M29.1,37.7 Q32.3,31.7 36.1,27.5" fill="none" stroke="#686a8c" stroke-width="2.66" stroke-linecap="round" opacity="0.65"/><path d="M0.7,22.1 Q8.5,13.0 12.4,6.3" fill="none" stroke="#686a8c" stroke-width="2.22" stroke-linecap="round" opacity="0.65"/><path d="M-4.3,28.3 Q-1.3,24.1 1.1,17.5" fill="none" stroke="#686a8c" stroke-width="2.90" stroke-linecap="round" opacity="0.65"/><path d="M27.8,38.4 Q32.0,30.6 34.7,24.6" fill="none" stroke="#686a8c" stroke-width="2.08" stroke-linecap="round" opacity="0.65"/><path d="M5.3,31.3 Q8.5,23.0 14.3,17.0" fill="none" stroke="#686a8c" stroke-width="2.72" stroke-linecap="round" opacity="0.65"/><path d="M8.6,24.0 Q15.5,18.2 19.7,9.3" fill="none" stroke="#686a8c" stroke-width="2.62" stroke-linecap="round" opacity="0.65"/><path d="M6.8,20.4 Q9.8,15.1 11.7,10.0" fill="none" stroke="#686a8c" stroke-width="2.03" stroke-linecap="round" opacity="0.65"/><path d="M8.9,12.4 Q10.7,8.8 12.0,4.1" fill="none" stroke="#686a8c" stroke-width="3.01" stroke-linecap="round" opacity="0.65"/><path d="M14.0,12.1 Q17.1,4.0 22.0,-2.9" fill="none" stroke="#686a8c" stroke-width="2.16" stroke-linecap="round" opacity="0.65"/><path d="M-3.4,36.6 Q0.4,34.0 3.6,30.6" fill="none" stroke="#e2e2ec" stroke-width="1.31" stroke-linecap="round" opacity="0.85"/><path d="M16.9,9.9 Q22.2,2.4 25.2,-2.7" fill="none" stroke="#e2e2ec" stroke-width="1.21" stroke-linecap="round" opacity="0.85"/><path d="M14.2,23.9 Q17.1,16.7 20.8,8.1" fill="none" stroke="#e2e2ec" stroke-width="1.79" stroke-linecap="round" opacity="0.85"/><path d="M4.5,-0.7 Q7.2,-4.4 10.8,-6.6" fill="none" stroke="#e2e2ec" stroke-width="1.49" stroke-linecap="round" opacity="0.85"/><path d="M1.2,20.2 Q4.0,16.8 6.3,13.2" fill="none" stroke="#e2e2ec" stroke-width="1.80" stroke-linecap="round" opacity="0.85"/><path d="M0.5,19.0 Q6.1,9.8 9.3,2.8" fill="none" stroke="#e2e2ec" stroke-width="1.68" stroke-linecap="round" opacity="0.85"/><path d="M26.0,26.4 Q28.5,21.9 32.1,16.2" fill="none" stroke="#e2e2ec" stroke-width="1.56" stroke-linecap="round" opacity="0.85"/><path d="M21.1,30.5 Q26.0,23.2 32.6,14.6" fill="none" stroke="#e2e2ec" stroke-width="1.64" stroke-linecap="round" opacity="0.85"/><path d="M-4.1,18.1 Q-2.6,14.1 -0.1,8.2" fill="none" stroke="#e2e2ec" stroke-width="1.87" stroke-linecap="round" opacity="0.85"/><path d="M7.9,23.6 Q11.3,19.1 16.0,12.8" fill="none" stroke="#e2e2ec" stroke-width="1.99" stroke-linecap="round" opacity="0.85"/><path d="M7.8,22.0 Q13.2,18.3 16.9,12.4" fill="none" stroke="#e2e2ec" stroke-width="1.31" stroke-linecap="round" opacity="0.85"/></g>
<rect x="148.10" y="350.40" width="28.8" height="30.1" fill="#000" filter="url(#grain)" opacity="0.32"/>
<rect x="148.10" y="350.40" width="28.8" height="30.1" fill="#000" filter="url(#grainw)" opacity="0.18"/>
</g></g>
<rect x="157.10" y="330.60" width="7.70" height="7.70" fill="none" stroke="#111" stroke-width="1.1" />
<line x1="157.10" y1="338.30" x2="148.30" y2="349.60" stroke="#111" stroke-width="1.2" />
<line x1="164.80" y1="338.30" x2="176.70" y2="349.60" stroke="#111" stroke-width="1.2" />
<rect x="173.50" y="378.70" width="2.40" height="1.10" fill="#111" stroke="none" stroke-width="1" />
<g clip-path="url(#tc50)"><g filter="url(#soft)">
<rect x="179.50" y="317.50" width="28.80" height="30.60" fill="#aeb0c2" stroke="none" stroke-width="1" />
<g transform="translate(179.50,317.50)"><path d="M28.4,-0.2 Q30.2,2.2 30.4,9.1" fill="none" stroke="#c8cadc" stroke-width="1.19" stroke-linecap="round" opacity="0.6"/><path d="M28.2,16.9 Q29.7,23.1 35.0,35.3" fill="none" stroke="#c8cadc" stroke-width="1.02" stroke-linecap="round" opacity="0.6"/><path d="M27.7,28.7 Q29.3,37.8 29.4,40.2" fill="none" stroke="#c8cadc" stroke-width="1.07" stroke-linecap="round" opacity="0.6"/><path d="M-0.6,-5.1 Q-2.1,1.0 1.3,4.8" fill="none" stroke="#c8cadc" stroke-width="0.92" stroke-linecap="round" opacity="0.6"/><path d="M-2.7,16.6 Q-1.8,22.8 -2.1,31.0" fill="none" stroke="#c8cadc" stroke-width="0.84" stroke-linecap="round" opacity="0.6"/><ellipse cx="24.6" cy="20.8" rx="0.68" ry="0.45" fill="#8c90b0" opacity="0.45"/><ellipse cx="18.1" cy="28.5" rx="1.02" ry="0.92" fill="#8c90b0" opacity="0.45"/><ellipse cx="28.6" cy="3.9" rx="0.63" ry="0.66" fill="#8c90b0" opacity="0.45"/><ellipse cx="3.2" cy="14.8" rx="1.07" ry="0.55" fill="#8c90b0" opacity="0.45"/><ellipse cx="23.5" cy="7.8" rx="1.07" ry="0.44" fill="#8c90b0" opacity="0.45"/><ellipse cx="3.4" cy="1.4" rx="0.91" ry="0.41" fill="#8c90b0" opacity="0.45"/><ellipse cx="20.0" cy="12.8" rx="1.13" ry="0.62" fill="#8c90b0" opacity="0.45"/><ellipse cx="24.0" cy="23.0" rx="0.76" ry="0.84" fill="#8c90b0" opacity="0.45"/><ellipse cx="17.3" cy="18.1" rx="0.80" ry="0.49" fill="#8c90b0" opacity="0.45"/><ellipse cx="15.1" cy="15.9" rx="0.80" ry="0.95" fill="#8c90b0" opacity="0.45"/></g>
<rect x="179.50" y="317.50" width="28.8" height="30.6" fill="#000" filter="url(#grain)" opacity="0.32"/>
<rect x="179.50" y="317.50" width="28.8" height="30.6" fill="#000" filter="url(#grainw)" opacity="0.18"/>
</g></g>
<g clip-path="url(#tc51)"><g filter="url(#soft)">
<rect x="179.50" y="350.40" width="28.80" height="30.10" fill="#b6b8cc" stroke="none" stroke-width="1" />
<g transform="translate(179.50,350.40)"><ellipse cx="9" cy="17" rx="4.5" ry="8" transform="rotate(-25 9 17)" fill="none" stroke="#6f76aa" stroke-width="1.6" opacity="0.8"/><ellipse cx="9" cy="17" rx="2.2" ry="5.5" transform="rotate(-25 9 17)" fill="#e4e4ee" opacity="0.8"/><ellipse cx="22" cy="8" rx="4" ry="3" fill="none" stroke="#6f76aa" stroke-width="1.6" opacity="0.75"/><ellipse cx="4.9" cy="27.4" rx="0.89" ry="0.46" fill="#9296b8" opacity="0.45"/><ellipse cx="16.2" cy="5.7" rx="0.85" ry="0.67" fill="#9296b8" opacity="0.45"/><ellipse cx="22.2" cy="27.4" rx="0.55" ry="0.89" fill="#9296b8" opacity="0.45"/><ellipse cx="27.0" cy="4.6" rx="0.56" ry="0.66" fill="#9296b8" opacity="0.45"/><ellipse cx="0.9" cy="3.8" rx="0.86" ry="0.52" fill="#9296b8" opacity="0.45"/><ellipse cx="17.3" cy="6.3" rx="0.97" ry="0.75" fill="#9296b8" opacity="0.45"/><ellipse cx="2.2" cy="20.6" rx="1.15" ry="0.96" fill="#9296b8" opacity="0.45"/><ellipse cx="1.2" cy="20.7" rx="0.72" ry="0.63" fill="#9296b8" opacity="0.45"/><ellipse cx="13.2" cy="1.5" rx="0.94" ry="0.47" fill="#9296b8" opacity="0.45"/><ellipse cx="24.6" cy="3.1" rx="0.94" ry="0.71" fill="#9296b8" opacity="0.45"/></g>
<rect x="179.50" y="350.40" width="28.8" height="30.1" fill="#000" filter="url(#grain)" opacity="0.32"/>
<rect x="179.50" y="350.40" width="28.8" height="30.1" fill="#000" filter="url(#grainw)" opacity="0.18"/>
</g></g>
<rect x="190.80" y="321.50" width="7.30" height="7.70" fill="none" stroke="#111" stroke-width="1.1" />
<line x1="190.80" y1="329.20" x2="179.70" y2="349.60" stroke="#111" stroke-width="1.2" />
<line x1="198.10" y1="329.20" x2="208.10" y2="349.60" stroke="#111" stroke-width="1.2" />
<rect x="204.90" y="378.70" width="2.40" height="1.10" fill="#111" stroke="none" stroke-width="1" />
<g transform="translate(14.8,333.3) rotate(-90)">
<text x="0.00" y="2.80" font-size="8.2" text-anchor="middle" fill="#222"  stroke="#222" stroke-width="0.16">×100</text>
</g>
<g transform="translate(14.8,365.6) rotate(-90)">
<text x="0.00" y="2.80" font-size="8.2" text-anchor="middle" fill="#222"  stroke="#222" stroke-width="0.16">×400</text>
</g>
<text x="218.70" y="300.20" font-size="12" text-anchor="start" fill="#111" font-weight="bold" stroke="#111" stroke-width="0.55">G</text>
<line x1="242.40" y1="316.80" x2="242.40" y2="371.60" stroke="#333" stroke-width="1" />
<line x1="242.40" y1="371.10" x2="321.20" y2="371.10" stroke="#333" stroke-width="1" />
<line x1="239.80" y1="371.10" x2="242.40" y2="371.10" stroke="#333" stroke-width="0.8" />
<text x="239.20" y="373.90" font-size="8.2" text-anchor="end" fill="#222"  stroke="#222" stroke-width="0.16">0</text>
<line x1="239.80" y1="360.30" x2="242.40" y2="360.30" stroke="#333" stroke-width="0.8" />
<text x="239.20" y="363.10" font-size="8.2" text-anchor="end" fill="#222"  stroke="#222" stroke-width="0.16">3</text>
<line x1="239.80" y1="349.50" x2="242.40" y2="349.50" stroke="#333" stroke-width="0.8" />
<text x="239.20" y="352.30" font-size="8.2" text-anchor="end" fill="#222"  stroke="#222" stroke-width="0.16">6</text>
<line x1="239.80" y1="338.70" x2="242.40" y2="338.70" stroke="#333" stroke-width="0.8" />
<text x="239.20" y="341.50" font-size="8.2" text-anchor="end" fill="#222"  stroke="#222" stroke-width="0.16">9</text>
<line x1="239.80" y1="327.90" x2="242.40" y2="327.90" stroke="#333" stroke-width="0.8" />
<text x="239.20" y="330.70" font-size="8.2" text-anchor="end" fill="#222"  stroke="#222" stroke-width="0.16">12</text>
<line x1="239.80" y1="317.10" x2="242.40" y2="317.10" stroke="#333" stroke-width="0.8" />
<text x="239.20" y="319.90" font-size="8.2" text-anchor="end" fill="#222"  stroke="#222" stroke-width="0.16">15</text>
<text x="282.70" y="301.30" font-size="8.2" text-anchor="middle" fill="#222"  stroke="#222" stroke-width="0.16">All cases</text>
<rect x="250.30" y="348.06" width="16.40" height="23.04" fill="none" stroke="#f3a0a8" stroke-width="0.9" />
<rect x="257.25" y="370.60" width="2.50" height="1.0" fill="#f3a0a8" opacity="0.8"/>
<rect x="256.75" y="367.00" width="3.50" height="1.0" fill="#f3a0a8" opacity="0.8"/>
<rect x="256.75" y="363.40" width="3.50" height="1.0" fill="#f3a0a8" opacity="0.8"/>
<rect x="255.50" y="359.80" width="6.00" height="1.0" fill="#f3a0a8" opacity="0.8"/>
<rect x="255.50" y="356.20" width="6.00" height="1.0" fill="#f3a0a8" opacity="0.8"/>
<rect x="256.75" y="352.60" width="3.50" height="1.0" fill="#f3a0a8" opacity="0.8"/>
<rect x="255.50" y="349.00" width="6.00" height="1.0" fill="#f3a0a8" opacity="0.8"/>
<rect x="257.25" y="345.40" width="2.50" height="1.0" fill="#f3a0a8" opacity="0.8"/>
<rect x="255.50" y="341.80" width="6.00" height="1.0" fill="#f3a0a8" opacity="0.8"/>
<rect x="254.00" y="338.20" width="9.00" height="1.0" fill="#f3a0a8" opacity="0.8"/>
<rect x="256.62" y="334.60" width="3.75" height="1.0" fill="#f3a0a8" opacity="0.8"/>
<rect x="257.25" y="331.00" width="2.50" height="1.0" fill="#f3a0a8" opacity="0.8"/>
<rect x="256.75" y="327.40" width="3.50" height="1.0" fill="#f3a0a8" opacity="0.8"/>
<line x1="258.50" y1="337.62" x2="258.50" y2="358.50" stroke="#f3a0a8" stroke-width="0.9" />
<line x1="255.00" y1="337.62" x2="262.00" y2="337.62" stroke="#f3a0a8" stroke-width="0.9" />
<line x1="255.00" y1="358.50" x2="262.00" y2="358.50" stroke="#f3a0a8" stroke-width="0.9" />
<line x1="258.50" y1="371.10" x2="258.50" y2="373.40" stroke="#333" stroke-width="0.9" />
<text x="258.50" y="382.00" font-size="9.22" text-anchor="middle" fill="#222" style="font-family:'Liberation Serif', 'Times New Roman', serif" stroke="#222" stroke-width="0.16">I</text>
<rect x="274.60" y="352.02" width="16.40" height="19.08" fill="none" stroke="#1aa88a" stroke-width="0.9" />
<rect x="280.55" y="370.60" width="4.50" height="1.0" fill="#1aa88a" opacity="0.8"/>
<rect x="279.65" y="367.00" width="6.30" height="1.0" fill="#1aa88a" opacity="0.8"/>
<rect x="279.65" y="363.40" width="6.30" height="1.0" fill="#1aa88a" opacity="0.8"/>
<rect x="277.40" y="359.80" width="10.80" height="1.0" fill="#1aa88a" opacity="0.8"/>
<rect x="277.40" y="356.20" width="10.80" height="1.0" fill="#1aa88a" opacity="0.8"/>
<rect x="279.65" y="352.60" width="6.30" height="1.0" fill="#1aa88a" opacity="0.8"/>
<rect x="277.40" y="349.00" width="10.80" height="1.0" fill="#1aa88a" opacity="0.8"/>
<rect x="280.55" y="345.40" width="4.50" height="1.0" fill="#1aa88a" opacity="0.8"/>
<rect x="277.40" y="341.80" width="10.80" height="1.0" fill="#1aa88a" opacity="0.8"/>
<rect x="275.80" y="338.20" width="14.00" height="1.0" fill="#1aa88a" opacity="0.8"/>
<rect x="280.55" y="334.60" width="4.50" height="1.0" fill="#1aa88a" opacity="0.8"/>
<rect x="280.55" y="331.00" width="4.50" height="1.0" fill="#1aa88a" opacity="0.8"/>
<rect x="279.65" y="327.40" width="6.30" height="1.0" fill="#1aa88a" opacity="0.8"/>
<line x1="282.80" y1="341.22" x2="282.80" y2="362.82" stroke="#1aa88a" stroke-width="0.9" />
<line x1="279.30" y1="341.22" x2="286.30" y2="341.22" stroke="#1aa88a" stroke-width="0.9" />
<line x1="279.30" y1="362.82" x2="286.30" y2="362.82" stroke="#1aa88a" stroke-width="0.9" />
<line x1="282.80" y1="371.10" x2="282.80" y2="373.40" stroke="#333" stroke-width="0.9" />
<text x="282.80" y="382.00" font-size="9.22" text-anchor="middle" fill="#222" style="font-family:'Liberation Serif', 'Times New Roman', serif" stroke="#222" stroke-width="0.16">II</text>
<rect x="298.70" y="355.98" width="16.40" height="15.12" fill="none" stroke="#e8a6cc" stroke-width="0.9" />
<rect x="305.40" y="370.60" width="3.00" height="1.0" fill="#e8a6cc" opacity="0.8"/>
<rect x="304.80" y="367.00" width="4.20" height="1.0" fill="#e8a6cc" opacity="0.8"/>
<rect x="304.80" y="363.40" width="4.20" height="1.0" fill="#e8a6cc" opacity="0.8"/>
<rect x="303.30" y="359.80" width="7.20" height="1.0" fill="#e8a6cc" opacity="0.8"/>
<rect x="303.30" y="356.20" width="7.20" height="1.0" fill="#e8a6cc" opacity="0.8"/>
<rect x="304.80" y="352.60" width="4.20" height="1.0" fill="#e8a6cc" opacity="0.8"/>
<rect x="303.30" y="349.00" width="7.20" height="1.0" fill="#e8a6cc" opacity="0.8"/>
<rect x="305.40" y="345.40" width="3.00" height="1.0" fill="#e8a6cc" opacity="0.8"/>
<rect x="303.30" y="341.80" width="7.20" height="1.0" fill="#e8a6cc" opacity="0.8"/>
<rect x="303.30" y="338.20" width="7.20" height="1.0" fill="#e8a6cc" opacity="0.8"/>
<rect x="305.40" y="334.60" width="3.00" height="1.0" fill="#e8a6cc" opacity="0.8"/>
<rect x="306.00" y="331.00" width="1.80" height="1.0" fill="#e8a6cc" opacity="0.8"/>
<rect x="305.64" y="327.40" width="2.52" height="1.0" fill="#e8a6cc" opacity="0.8"/>
<line x1="306.90" y1="345.90" x2="306.90" y2="366.06" stroke="#e8a6cc" stroke-width="0.9" />
<line x1="303.40" y1="345.90" x2="310.40" y2="345.90" stroke="#e8a6cc" stroke-width="0.9" />
<line x1="303.40" y1="366.06" x2="310.40" y2="366.06" stroke="#e8a6cc" stroke-width="0.9" />
<line x1="306.90" y1="371.10" x2="306.90" y2="373.40" stroke="#333" stroke-width="0.9" />
<text x="306.90" y="382.00" font-size="9.22" text-anchor="middle" fill="#222" style="font-family:'Liberation Serif', 'Times New Roman', serif" stroke="#222" stroke-width="0.16">III</text>
<line x1="259.30" y1="312.50" x2="305.90" y2="312.50" stroke="#333" stroke-width="1" />
<text x="282.60" y="313.10" font-size="8.6" text-anchor="middle" fill="#222" font-weight="bold" letter-spacing="-0.3">***</text>
<line x1="259.30" y1="324.50" x2="282.20" y2="324.50" stroke="#333" stroke-width="1" />
<text x="270.75" y="326.10" font-size="8.6" text-anchor="middle" fill="#222" font-weight="bold" letter-spacing="-0.3">*</text>
<line x1="283.80" y1="321.20" x2="305.90" y2="321.20" stroke="#333" stroke-width="1" />
<text x="294.85" y="321.80" font-size="8.6" text-anchor="middle" fill="#222" font-weight="bold" letter-spacing="-0.3">***</text>
<line x1="328.10" y1="316.80" x2="328.10" y2="371.60" stroke="#333" stroke-width="1" />
<line x1="328.10" y1="371.10" x2="408.50" y2="371.10" stroke="#333" stroke-width="1" />
<line x1="325.50" y1="371.10" x2="328.10" y2="371.10" stroke="#333" stroke-width="0.8" />
<line x1="325.50" y1="360.30" x2="328.10" y2="360.30" stroke="#333" stroke-width="0.8" />
<line x1="325.50" y1="349.50" x2="328.10" y2="349.50" stroke="#333" stroke-width="0.8" />
<line x1="325.50" y1="338.70" x2="328.10" y2="338.70" stroke="#333" stroke-width="0.8" />
<line x1="325.50" y1="327.90" x2="328.10" y2="327.90" stroke="#333" stroke-width="0.8" />
<line x1="325.50" y1="317.10" x2="328.10" y2="317.10" stroke="#333" stroke-width="0.8" />
<text x="372.00" y="301.30" font-size="8.2" text-anchor="middle" fill="#222"  stroke="#222" stroke-width="0.16">dMMR cases</text>
<rect x="336.30" y="343.02" width="16.40" height="28.08" fill="none" stroke="#f3a0a8" stroke-width="0.9" />
<rect x="343.56" y="370.60" width="1.88" height="1.0" fill="#f3a0a8" opacity="0.8"/>
<rect x="343.19" y="367.00" width="2.62" height="1.0" fill="#f3a0a8" opacity="0.8"/>
<rect x="343.19" y="363.40" width="2.62" height="1.0" fill="#f3a0a8" opacity="0.8"/>
<rect x="342.25" y="359.80" width="4.50" height="1.0" fill="#f3a0a8" opacity="0.8"/>
<rect x="342.25" y="356.20" width="4.50" height="1.0" fill="#f3a0a8" opacity="0.8"/>
<rect x="343.19" y="352.60" width="2.62" height="1.0" fill="#f3a0a8" opacity="0.8"/>
<rect x="342.25" y="349.00" width="4.50" height="1.0" fill="#f3a0a8" opacity="0.8"/>
<rect x="343.56" y="345.40" width="1.88" height="1.0" fill="#f3a0a8" opacity="0.8"/>
<rect x="342.25" y="341.80" width="4.50" height="1.0" fill="#f3a0a8" opacity="0.8"/>
<rect x="341.12" y="338.20" width="6.75" height="1.0" fill="#f3a0a8" opacity="0.8"/>
<rect x="343.09" y="334.60" width="2.81" height="1.0" fill="#f3a0a8" opacity="0.8"/>
<rect x="343.56" y="331.00" width="1.88" height="1.0" fill="#f3a0a8" opacity="0.8"/>
<rect x="343.19" y="327.40" width="2.62" height="1.0" fill="#f3a0a8" opacity="0.8"/>
<line x1="344.50" y1="333.66" x2="344.50" y2="352.38" stroke="#f3a0a8" stroke-width="0.9" />
<line x1="341.00" y1="333.66" x2="348.00" y2="333.66" stroke="#f3a0a8" stroke-width="0.9" />
<line x1="341.00" y1="352.38" x2="348.00" y2="352.38" stroke="#f3a0a8" stroke-width="0.9" />
<line x1="344.50" y1="371.10" x2="344.50" y2="373.40" stroke="#333" stroke-width="0.9" />
<text x="344.50" y="382.00" font-size="9.22" text-anchor="middle" fill="#222" style="font-family:'Liberation Serif', 'Times New Roman', serif" stroke="#222" stroke-width="0.16">I</text>
<rect x="360.30" y="350.22" width="16.40" height="20.88" fill="none" stroke="#1aa88a" stroke-width="0.9" />
<rect x="366.88" y="370.60" width="3.25" height="1.0" fill="#1aa88a" opacity="0.8"/>
<rect x="366.23" y="367.00" width="4.55" height="1.0" fill="#1aa88a" opacity="0.8"/>
<rect x="366.23" y="363.40" width="4.55" height="1.0" fill="#1aa88a" opacity="0.8"/>
<rect x="364.60" y="359.80" width="7.80" height="1.0" fill="#1aa88a" opacity="0.8"/>
<rect x="364.60" y="356.20" width="7.80" height="1.0" fill="#1aa88a" opacity="0.8"/>
<rect x="366.23" y="352.60" width="4.55" height="1.0" fill="#1aa88a" opacity="0.8"/>
<rect x="364.60" y="349.00" width="7.80" height="1.0" fill="#1aa88a" opacity="0.8"/>
<rect x="366.88" y="345.40" width="3.25" height="1.0" fill="#1aa88a" opacity="0.8"/>
<rect x="364.60" y="341.80" width="7.80" height="1.0" fill="#1aa88a" opacity="0.8"/>
<rect x="361.50" y="338.20" width="14.00" height="1.0" fill="#1aa88a" opacity="0.8"/>
<rect x="366.88" y="334.60" width="3.25" height="1.0" fill="#1aa88a" opacity="0.8"/>
<rect x="366.88" y="331.00" width="3.25" height="1.0" fill="#1aa88a" opacity="0.8"/>
<rect x="366.23" y="327.40" width="4.55" height="1.0" fill="#1aa88a" opacity="0.8"/>
<line x1="368.50" y1="339.42" x2="368.50" y2="361.02" stroke="#1aa88a" stroke-width="0.9" />
<line x1="365.00" y1="339.42" x2="372.00" y2="339.42" stroke="#1aa88a" stroke-width="0.9" />
<line x1="365.00" y1="361.02" x2="372.00" y2="361.02" stroke="#1aa88a" stroke-width="0.9" />
<line x1="368.50" y1="371.10" x2="368.50" y2="373.40" stroke="#333" stroke-width="0.9" />
<text x="368.50" y="382.00" font-size="9.22" text-anchor="middle" fill="#222" style="font-family:'Liberation Serif', 'Times New Roman', serif" stroke="#222" stroke-width="0.16">II</text>
<rect x="384.40" y="353.82" width="16.40" height="17.28" fill="none" stroke="#e8a6cc" stroke-width="0.9" />
<rect x="391.48" y="370.60" width="2.25" height="1.0" fill="#e8a6cc" opacity="0.8"/>
<rect x="391.03" y="367.00" width="3.15" height="1.0" fill="#e8a6cc" opacity="0.8"/>
<rect x="391.03" y="363.40" width="3.15" height="1.0" fill="#e8a6cc" opacity="0.8"/>
<rect x="389.90" y="359.80" width="5.40" height="1.0" fill="#e8a6cc" opacity="0.8"/>
<rect x="389.90" y="356.20" width="5.40" height="1.0" fill="#e8a6cc" opacity="0.8"/>
<rect x="391.03" y="352.60" width="3.15" height="1.0" fill="#e8a6cc" opacity="0.8"/>
<rect x="389.90" y="349.00" width="5.40" height="1.0" fill="#e8a6cc" opacity="0.8"/>
<rect x="391.48" y="345.40" width="2.25" height="1.0" fill="#e8a6cc" opacity="0.8"/>
<rect x="389.90" y="341.80" width="5.40" height="1.0" fill="#e8a6cc" opacity="0.8"/>
<rect x="389.90" y="338.20" width="5.40" height="1.0" fill="#e8a6cc" opacity="0.8"/>
<rect x="391.48" y="334.60" width="2.25" height="1.0" fill="#e8a6cc" opacity="0.8"/>
<rect x="391.85" y="331.00" width="1.50" height="1.0" fill="#e8a6cc" opacity="0.8"/>
<rect x="391.66" y="327.40" width="1.89" height="1.0" fill="#e8a6cc" opacity="0.8"/>
<line x1="392.60" y1="343.74" x2="392.60" y2="363.90" stroke="#e8a6cc" stroke-width="0.9" />
<line x1="389.10" y1="343.74" x2="396.10" y2="343.74" stroke="#e8a6cc" stroke-width="0.9" />
<line x1="389.10" y1="363.90" x2="396.10" y2="363.90" stroke="#e8a6cc" stroke-width="0.9" />
<line x1="392.60" y1="371.10" x2="392.60" y2="373.40" stroke="#333" stroke-width="0.9" />
<text x="392.60" y="382.00" font-size="9.22" text-anchor="middle" fill="#222" style="font-family:'Liberation Serif', 'Times New Roman', serif" stroke="#222" stroke-width="0.16">III</text>
<line x1="345.30" y1="312.70" x2="391.60" y2="312.70" stroke="#333" stroke-width="1" />
<text x="368.45" y="313.30" font-size="8.6" text-anchor="middle" fill="#222" font-weight="bold" letter-spacing="-0.3">***</text>
<line x1="345.30" y1="324.80" x2="367.90" y2="324.80" stroke="#333" stroke-width="1" />
<text x="356.60" y="325.40" font-size="8.6" text-anchor="middle" fill="#222" font-weight="bold" letter-spacing="-0.3">**</text>
<line x1="369.50" y1="321.20" x2="391.60" y2="321.20" stroke="#333" stroke-width="1" />
<text x="380.55" y="322.80" font-size="8.6" text-anchor="middle" fill="#222" font-weight="bold" letter-spacing="-0.3">*</text>
<line x1="413.90" y1="316.80" x2="413.90" y2="371.60" stroke="#333" stroke-width="1" />
<line x1="413.90" y1="371.10" x2="494.50" y2="371.10" stroke="#333" stroke-width="1" />
<line x1="411.30" y1="371.10" x2="413.90" y2="371.10" stroke="#333" stroke-width="0.8" />
<line x1="411.30" y1="360.30" x2="413.90" y2="360.30" stroke="#333" stroke-width="0.8" />
<line x1="411.30" y1="349.50" x2="413.90" y2="349.50" stroke="#333" stroke-width="0.8" />
<line x1="411.30" y1="338.70" x2="413.90" y2="338.70" stroke="#333" stroke-width="0.8" />
<line x1="411.30" y1="327.90" x2="413.90" y2="327.90" stroke="#333" stroke-width="0.8" />
<line x1="411.30" y1="317.10" x2="413.90" y2="317.10" stroke="#333" stroke-width="0.8" />
<text x="456.60" y="301.30" font-size="8.2" text-anchor="middle" fill="#222"  stroke="#222" stroke-width="0.16">pMMR cases</text>
<rect x="422.30" y="352.02" width="16.40" height="19.08" fill="none" stroke="#f3a0a8" stroke-width="0.9" />
<rect x="429.50" y="370.60" width="2.00" height="1.0" fill="#f3a0a8" opacity="0.8"/>
<rect x="429.10" y="367.00" width="2.80" height="1.0" fill="#f3a0a8" opacity="0.8"/>
<rect x="429.10" y="363.40" width="2.80" height="1.0" fill="#f3a0a8" opacity="0.8"/>
<rect x="428.10" y="359.80" width="4.80" height="1.0" fill="#f3a0a8" opacity="0.8"/>
<rect x="428.10" y="356.20" width="4.80" height="1.0" fill="#f3a0a8" opacity="0.8"/>
<rect x="429.10" y="352.60" width="2.80" height="1.0" fill="#f3a0a8" opacity="0.8"/>
<rect x="428.10" y="349.00" width="4.80" height="1.0" fill="#f3a0a8" opacity="0.8"/>
<rect x="429.50" y="345.40" width="2.00" height="1.0" fill="#f3a0a8" opacity="0.8"/>
<rect x="428.10" y="341.80" width="4.80" height="1.0" fill="#f3a0a8" opacity="0.8"/>
<rect x="426.90" y="338.20" width="7.20" height="1.0" fill="#f3a0a8" opacity="0.8"/>
<rect x="429.00" y="334.60" width="3.00" height="1.0" fill="#f3a0a8" opacity="0.8"/>
<rect x="429.50" y="331.00" width="2.00" height="1.0" fill="#f3a0a8" opacity="0.8"/>
<rect x="429.10" y="327.40" width="2.80" height="1.0" fill="#f3a0a8" opacity="0.8"/>
<line x1="430.50" y1="341.22" x2="430.50" y2="362.82" stroke="#f3a0a8" stroke-width="0.9" />
<line x1="427.00" y1="341.22" x2="434.00" y2="341.22" stroke="#f3a0a8" stroke-width="0.9" />
<line x1="427.00" y1="362.82" x2="434.00" y2="362.82" stroke="#f3a0a8" stroke-width="0.9" />
<line x1="430.50" y1="371.10" x2="430.50" y2="373.40" stroke="#333" stroke-width="0.9" />
<text x="430.50" y="382.00" font-size="9.22" text-anchor="middle" fill="#222" style="font-family:'Liberation Serif', 'Times New Roman', serif" stroke="#222" stroke-width="0.16">I</text>
<rect x="446.30" y="353.82" width="16.40" height="17.28" fill="none" stroke="#1aa88a" stroke-width="0.9" />
<rect x="453.31" y="370.60" width="2.38" height="1.0" fill="#1aa88a" opacity="0.8"/>
<rect x="452.84" y="367.00" width="3.32" height="1.0" fill="#1aa88a" opacity="0.8"/>
<rect x="452.84" y="363.40" width="3.32" height="1.0" fill="#1aa88a" opacity="0.8"/>
<rect x="451.65" y="359.80" width="5.70" height="1.0" fill="#1aa88a" opacity="0.8"/>
<rect x="451.65" y="356.20" width="5.70" height="1.0" fill="#1aa88a" opacity="0.8"/>
<rect x="452.84" y="352.60" width="3.32" height="1.0" fill="#1aa88a" opacity="0.8"/>
<rect x="451.65" y="349.00" width="5.70" height="1.0" fill="#1aa88a" opacity="0.8"/>
<rect x="453.31" y="345.40" width="2.38" height="1.0" fill="#1aa88a" opacity="0.8"/>
<rect x="451.65" y="341.80" width="5.70" height="1.0" fill="#1aa88a" opacity="0.8"/>
<rect x="449.37" y="338.20" width="10.26" height="1.0" fill="#1aa88a" opacity="0.8"/>
<rect x="453.31" y="334.60" width="2.38" height="1.0" fill="#1aa88a" opacity="0.8"/>
<rect x="453.31" y="331.00" width="2.38" height="1.0" fill="#1aa88a" opacity="0.8"/>
<rect x="452.84" y="327.40" width="3.32" height="1.0" fill="#1aa88a" opacity="0.8"/>
<line x1="454.50" y1="343.74" x2="454.50" y2="363.90" stroke="#1aa88a" stroke-width="0.9" />
<line x1="451.00" y1="343.74" x2="458.00" y2="343.74" stroke="#1aa88a" stroke-width="0.9" />
<line x1="451.00" y1="363.90" x2="458.00" y2="363.90" stroke="#1aa88a" stroke-width="0.9" />
<line x1="454.50" y1="371.10" x2="454.50" y2="373.40" stroke="#333" stroke-width="0.9" />
<text x="454.50" y="382.00" font-size="9.22" text-anchor="middle" fill="#222" style="font-family:'Liberation Serif', 'Times New Roman', serif" stroke="#222" stroke-width="0.16">II</text>
<rect x="470.30" y="358.14" width="16.40" height="12.96" fill="none" stroke="#e8a6cc" stroke-width="0.9" />
<rect x="477.44" y="370.60" width="2.12" height="1.0" fill="#e8a6cc" opacity="0.8"/>
<rect x="477.01" y="367.00" width="2.98" height="1.0" fill="#e8a6cc" opacity="0.8"/>
<rect x="477.01" y="363.40" width="2.98" height="1.0" fill="#e8a6cc" opacity="0.8"/>
<rect x="475.95" y="359.80" width="5.10" height="1.0" fill="#e8a6cc" opacity="0.8"/>
<rect x="475.95" y="356.20" width="5.10" height="1.0" fill="#e8a6cc" opacity="0.8"/>
<rect x="477.01" y="352.60" width="2.98" height="1.0" fill="#e8a6cc" opacity="0.8"/>
<rect x="475.95" y="349.00" width="5.10" height="1.0" fill="#e8a6cc" opacity="0.8"/>
<rect x="477.44" y="345.40" width="2.12" height="1.0" fill="#e8a6cc" opacity="0.8"/>
<rect x="475.95" y="341.80" width="5.10" height="1.0" fill="#e8a6cc" opacity="0.8"/>
<rect x="475.95" y="338.20" width="5.10" height="1.0" fill="#e8a6cc" opacity="0.8"/>
<rect x="477.44" y="334.60" width="2.12" height="1.0" fill="#e8a6cc" opacity="0.8"/>
<rect x="477.75" y="331.00" width="1.50" height="1.0" fill="#e8a6cc" opacity="0.8"/>
<rect x="477.61" y="327.40" width="1.78" height="1.0" fill="#e8a6cc" opacity="0.8"/>
<line x1="478.50" y1="349.50" x2="478.50" y2="366.78" stroke="#e8a6cc" stroke-width="0.9" />
<line x1="475.00" y1="349.50" x2="482.00" y2="349.50" stroke="#e8a6cc" stroke-width="0.9" />
<line x1="475.00" y1="366.78" x2="482.00" y2="366.78" stroke="#e8a6cc" stroke-width="0.9" />
<line x1="478.50" y1="371.10" x2="478.50" y2="373.40" stroke="#333" stroke-width="0.9" />
<text x="478.50" y="382.00" font-size="9.22" text-anchor="middle" fill="#222" style="font-family:'Liberation Serif', 'Times New Roman', serif" stroke="#222" stroke-width="0.16">III</text>
<line x1="431.30" y1="312.70" x2="477.50" y2="312.70" stroke="#333" stroke-width="1" />
<text x="454.40" y="313.30" font-size="8.6" text-anchor="middle" fill="#222" font-weight="bold" letter-spacing="-0.3">**</text>
<line x1="431.30" y1="324.80" x2="453.90" y2="324.80" stroke="#333" stroke-width="1" />
<text x="442.60" y="323.20" font-size="8.2" text-anchor="middle" fill="#222"  stroke="#222" stroke-width="0.16">ns</text>
<line x1="455.50" y1="321.20" x2="477.50" y2="321.20" stroke="#333" stroke-width="1" />
<text x="466.50" y="322.80" font-size="8.6" text-anchor="middle" fill="#222" font-weight="bold" letter-spacing="-0.3">*</text>
<g transform="translate(228.4,344.0) rotate(-90)">
<text x="0.00" y="0.00" font-size="8.2" text-anchor="middle" fill="#222"  stroke="#222" stroke-width="0.16">KRT17 score</text>
</g>
<text x="1.50" y="411.90" font-size="12" text-anchor="start" fill="#111" font-weight="bold" stroke="#111" stroke-width="0.55">H</text>
<path d="M38.20,424.30H47.55H52.69V425.09H67.19V425.88H85.58V426.81H103.97V427.74H108.54V428.50H113.11V429.26H117.68V430.03H123.09V430.82H128.49V431.60H133.89V432.39H137.32V433.04H140.75V433.68H144.18V434.32H147.30V435.22H150.41V436.11" fill="none" stroke="#eca4ae" stroke-width="1.25"/>
<path d="M60.02,424.44H106.15V424.59H116.12V425.37H129.53V426.59H141.06V427.88H150.41V428.52" fill="none" stroke="#3cb8a0" stroke-width="1.25"/>
<rect x="38.20" y="420.30" width="118.20" height="78.90" fill="none" stroke="#2a2a2a" stroke-width="1.2" />
<line x1="34.40" y1="495.90" x2="38.20" y2="495.90" stroke="#333" stroke-width="1.0" />
<text x="33.20" y="498.70" font-size="8.2" text-anchor="end" fill="#222"  stroke="#222" stroke-width="0.16">0</text>
<line x1="34.40" y1="481.58" x2="38.20" y2="481.58" stroke="#333" stroke-width="1.0" />
<text x="33.20" y="484.38" font-size="8.2" text-anchor="end" fill="#222"  stroke="#222" stroke-width="0.16">20</text>
<line x1="34.40" y1="467.26" x2="38.20" y2="467.26" stroke="#333" stroke-width="1.0" />
<text x="33.20" y="470.06" font-size="8.2" text-anchor="end" fill="#222"  stroke="#222" stroke-width="0.16">40</text>
<line x1="34.40" y1="452.94" x2="38.20" y2="452.94" stroke="#333" stroke-width="1.0" />
<text x="33.20" y="455.74" font-size="8.2" text-anchor="end" fill="#222"  stroke="#222" stroke-width="0.16">60</text>
<line x1="34.40" y1="438.62" x2="38.20" y2="438.62" stroke="#333" stroke-width="1.0" />
<text x="33.20" y="441.42" font-size="8.2" text-anchor="end" fill="#222"  stroke="#222" stroke-width="0.16">80</text>
<line x1="34.40" y1="424.30" x2="38.20" y2="424.30" stroke="#333" stroke-width="1.0" />
<text x="33.20" y="427.10" font-size="8.2" text-anchor="end" fill="#222"  stroke="#222" stroke-width="0.16">100</text>
<line x1="38.20" y1="499.20" x2="38.20" y2="502.20" stroke="#333" stroke-width="0.9" />
<text x="38.20" y="512.00" font-size="8.2" text-anchor="middle" fill="#222"  stroke="#222" stroke-width="0.16">0</text>
<line x1="56.90" y1="499.20" x2="56.90" y2="502.20" stroke="#333" stroke-width="0.9" />
<text x="56.90" y="512.00" font-size="8.2" text-anchor="middle" fill="#222"  stroke="#222" stroke-width="0.16">6</text>
<line x1="75.60" y1="499.20" x2="75.60" y2="502.20" stroke="#333" stroke-width="0.9" />
<text x="75.60" y="512.00" font-size="8.2" text-anchor="middle" fill="#222"  stroke="#222" stroke-width="0.16">12</text>
<line x1="94.31" y1="499.20" x2="94.31" y2="502.20" stroke="#333" stroke-width="0.9" />
<text x="94.31" y="512.00" font-size="8.2" text-anchor="middle" fill="#222"  stroke="#222" stroke-width="0.16">18</text>
<line x1="113.01" y1="499.20" x2="113.01" y2="502.20" stroke="#333" stroke-width="0.9" />
<text x="113.01" y="512.00" font-size="8.2" text-anchor="middle" fill="#222"  stroke="#222" stroke-width="0.16">24</text>
<line x1="131.71" y1="499.20" x2="131.71" y2="502.20" stroke="#333" stroke-width="0.9" />
<text x="131.71" y="512.00" font-size="8.2" text-anchor="middle" fill="#222"  stroke="#222" stroke-width="0.16">30</text>
<line x1="150.41" y1="499.20" x2="150.41" y2="502.20" stroke="#333" stroke-width="0.9" />
<text x="150.41" y="512.00" font-size="8.2" text-anchor="middle" fill="#222"  stroke="#222" stroke-width="0.16">36</text>
<text x="92.90" y="521.90" font-size="8.2" text-anchor="middle" fill="#222"  stroke="#222" stroke-width="0.16">Time (mo)</text>
<text x="99.10" y="413.00" font-size="8.2" text-anchor="middle" fill="#222"  stroke="#222" stroke-width="0.16">All cases (<tspan font-style="italic">n</tspan> = 446)</text>
<text x="147.20" y="449.30" font-size="7.48" text-anchor="end" fill="#222"  stroke="#222" stroke-width="0.16"><tspan font-style="italic">P</tspan> = 0.0004</text>
<line x1="43.20" y1="481.50" x2="52.80" y2="481.50" stroke="#f0c4c8" stroke-width="1.0" />
<text x="57.20" y="483.90" font-size="8.3" text-anchor="start" fill="#222"  stroke="#222" stroke-width="0.16">Low KRT17 expression</text>
<line x1="43.20" y1="492.00" x2="52.80" y2="492.00" stroke="#8cc4b8" stroke-width="1.0" />
<text x="57.20" y="494.40" font-size="8.3" text-anchor="start" fill="#222"  stroke="#222" stroke-width="0.16">High KRT17 expression</text>
<g transform="translate(12.80,461.00) rotate(-90)">
<text x="0.00" y="0.00" font-size="8.2" text-anchor="middle" fill="#222"  stroke="#222" stroke-width="0.16">Overall survival (%)</text>
</g>
<path d="M205.00,424.30H228.38H229.94V425.37H242.40V426.45H247.24V427.13H252.07V427.81H256.90V428.49H261.73V429.17H264.69V429.96H267.65V430.74H270.61V431.53H273.57V432.32H275.44V433.05H277.31V433.78H279.18V434.51H281.05V435.24H282.93V435.97H287.50V436.76H292.07V437.55H296.64V438.33H308.17V439.55H310.15V440.20H312.12V440.84H314.10V441.48H315.65V442.27H317.21V443.06" fill="none" stroke="#eca4ae" stroke-width="1.25"/>
<path d="M220.59,424.30H267.34V424.59H279.81V425.16H298.51V426.09H317.21V427.16" fill="none" stroke="#3cb8a0" stroke-width="1.25"/>
<rect x="205.00" y="420.30" width="116.80" height="78.90" fill="none" stroke="#2a2a2a" stroke-width="1.2" />
<line x1="201.20" y1="495.90" x2="205.00" y2="495.90" stroke="#333" stroke-width="1.0" />
<text x="200.00" y="498.70" font-size="8.2" text-anchor="end" fill="#222"  stroke="#222" stroke-width="0.16">0</text>
<line x1="201.20" y1="481.58" x2="205.00" y2="481.58" stroke="#333" stroke-width="1.0" />
<text x="200.00" y="484.38" font-size="8.2" text-anchor="end" fill="#222"  stroke="#222" stroke-width="0.16">20</text>
<line x1="201.20" y1="467.26" x2="205.00" y2="467.26" stroke="#333" stroke-width="1.0" />
<text x="200.00" y="470.06" font-size="8.2" text-anchor="end" fill="#222"  stroke="#222" stroke-width="0.16">40</text>
<line x1="201.20" y1="452.94" x2="205.00" y2="452.94" stroke="#333" stroke-width="1.0" />
<text x="200.00" y="455.74" font-size="8.2" text-anchor="end" fill="#222"  stroke="#222" stroke-width="0.16">60</text>
<line x1="201.20" y1="438.62" x2="205.00" y2="438.62" stroke="#333" stroke-width="1.0" />
<text x="200.00" y="441.42" font-size="8.2" text-anchor="end" fill="#222"  stroke="#222" stroke-width="0.16">80</text>
<line x1="201.20" y1="424.30" x2="205.00" y2="424.30" stroke="#333" stroke-width="1.0" />
<text x="200.00" y="427.10" font-size="8.2" text-anchor="end" fill="#222"  stroke="#222" stroke-width="0.16">100</text>
<line x1="205.00" y1="499.20" x2="205.00" y2="502.20" stroke="#333" stroke-width="0.9" />
<text x="205.00" y="512.00" font-size="8.2" text-anchor="middle" fill="#222"  stroke="#222" stroke-width="0.16">0</text>
<line x1="223.70" y1="499.20" x2="223.70" y2="502.20" stroke="#333" stroke-width="0.9" />
<text x="223.70" y="512.00" font-size="8.2" text-anchor="middle" fill="#222"  stroke="#222" stroke-width="0.16">6</text>
<line x1="242.40" y1="499.20" x2="242.40" y2="502.20" stroke="#333" stroke-width="0.9" />
<text x="242.40" y="512.00" font-size="8.2" text-anchor="middle" fill="#222"  stroke="#222" stroke-width="0.16">12</text>
<line x1="261.11" y1="499.20" x2="261.11" y2="502.20" stroke="#333" stroke-width="0.9" />
<text x="261.11" y="512.00" font-size="8.2" text-anchor="middle" fill="#222"  stroke="#222" stroke-width="0.16">18</text>
<line x1="279.81" y1="499.20" x2="279.81" y2="502.20" stroke="#333" stroke-width="0.9" />
<text x="279.81" y="512.00" font-size="8.2" text-anchor="middle" fill="#222"  stroke="#222" stroke-width="0.16">24</text>
<line x1="298.51" y1="499.20" x2="298.51" y2="502.20" stroke="#333" stroke-width="0.9" />
<text x="298.51" y="512.00" font-size="8.2" text-anchor="middle" fill="#222"  stroke="#222" stroke-width="0.16">30</text>
<line x1="317.21" y1="499.20" x2="317.21" y2="502.20" stroke="#333" stroke-width="0.9" />
<text x="317.21" y="512.00" font-size="8.2" text-anchor="middle" fill="#222"  stroke="#222" stroke-width="0.16">36</text>
<text x="265.40" y="521.90" font-size="8.2" text-anchor="middle" fill="#222"  stroke="#222" stroke-width="0.16">Time (mo)</text>
<text x="265.80" y="413.00" font-size="8.2" text-anchor="middle" fill="#222"  stroke="#222" stroke-width="0.16">dMMR cases (<tspan font-style="italic">n</tspan> = 224)</text>
<text x="313.40" y="455.80" font-size="7.48" text-anchor="end" fill="#222"  stroke="#222" stroke-width="0.16"><tspan font-style="italic">P</tspan> &lt; 0.0001</text>
<line x1="211.50" y1="481.50" x2="221.10" y2="481.50" stroke="#f0c4c8" stroke-width="1.0" />
<text x="225.50" y="483.90" font-size="8.3" text-anchor="start" fill="#222"  stroke="#222" stroke-width="0.16">Low KRT17 expression</text>
<line x1="211.50" y1="492.00" x2="221.10" y2="492.00" stroke="#8cc4b8" stroke-width="1.0" />
<text x="225.50" y="494.40" font-size="8.3" text-anchor="start" fill="#222"  stroke="#222" stroke-width="0.16">High KRT17 expression</text>
<g transform="translate(179.50,461.00) rotate(-90)">
<text x="0.00" y="0.00" font-size="8.2" text-anchor="middle" fill="#222"  stroke="#222" stroke-width="0.16">Overall survival (%)</text>
</g>
<path d="M371.00,424.30H374.12H381.60V425.02H439.57V425.30H448.93V426.30H460.15V427.31H462.48V428.06H464.82V428.81H476.67V429.53H483.21V429.67" fill="none" stroke="#eca4ae" stroke-width="1.25"/>
<path d="M371.00,424.30H374.12H381.60V425.02H439.57V425.30H448.93V426.30H460.15V427.31H462.48V428.06H464.82V428.81H476.67V429.53H483.21V429.67" fill="none" stroke="#90b4ac" stroke-width="1.25"/>
<rect x="371.00" y="420.30" width="119.60" height="78.90" fill="none" stroke="#2a2a2a" stroke-width="1.2" />
<line x1="367.20" y1="495.90" x2="371.00" y2="495.90" stroke="#333" stroke-width="1.0" />
<text x="366.00" y="498.70" font-size="8.2" text-anchor="end" fill="#222"  stroke="#222" stroke-width="0.16">0</text>
<line x1="367.20" y1="481.58" x2="371.00" y2="481.58" stroke="#333" stroke-width="1.0" />
<text x="366.00" y="484.38" font-size="8.2" text-anchor="end" fill="#222"  stroke="#222" stroke-width="0.16">20</text>
<line x1="367.20" y1="467.26" x2="371.00" y2="467.26" stroke="#333" stroke-width="1.0" />
<text x="366.00" y="470.06" font-size="8.2" text-anchor="end" fill="#222"  stroke="#222" stroke-width="0.16">40</text>
<line x1="367.20" y1="452.94" x2="371.00" y2="452.94" stroke="#333" stroke-width="1.0" />
<text x="366.00" y="455.74" font-size="8.2" text-anchor="end" fill="#222"  stroke="#222" stroke-width="0.16">60</text>
<line x1="367.20" y1="438.62" x2="371.00" y2="438.62" stroke="#333" stroke-width="1.0" />
<text x="366.00" y="441.42" font-size="8.2" text-anchor="end" fill="#222"  stroke="#222" stroke-width="0.16">80</text>
<line x1="367.20" y1="424.30" x2="371.00" y2="424.30" stroke="#333" stroke-width="1.0" />
<text x="366.00" y="427.10" font-size="8.2" text-anchor="end" fill="#222"  stroke="#222" stroke-width="0.16">100</text>
<line x1="371.00" y1="499.20" x2="371.00" y2="502.20" stroke="#333" stroke-width="0.9" />
<text x="371.00" y="512.00" font-size="8.2" text-anchor="middle" fill="#222"  stroke="#222" stroke-width="0.16">0</text>
<line x1="389.70" y1="499.20" x2="389.70" y2="502.20" stroke="#333" stroke-width="0.9" />
<text x="389.70" y="512.00" font-size="8.2" text-anchor="middle" fill="#222"  stroke="#222" stroke-width="0.16">6</text>
<line x1="408.40" y1="499.20" x2="408.40" y2="502.20" stroke="#333" stroke-width="0.9" />
<text x="408.40" y="512.00" font-size="8.2" text-anchor="middle" fill="#222"  stroke="#222" stroke-width="0.16">12</text>
<line x1="427.11" y1="499.20" x2="427.11" y2="502.20" stroke="#333" stroke-width="0.9" />
<text x="427.11" y="512.00" font-size="8.2" text-anchor="middle" fill="#222"  stroke="#222" stroke-width="0.16">18</text>
<line x1="445.81" y1="499.20" x2="445.81" y2="502.20" stroke="#333" stroke-width="0.9" />
<text x="445.81" y="512.00" font-size="8.2" text-anchor="middle" fill="#222"  stroke="#222" stroke-width="0.16">24</text>
<line x1="464.51" y1="499.20" x2="464.51" y2="502.20" stroke="#333" stroke-width="0.9" />
<text x="464.51" y="512.00" font-size="8.2" text-anchor="middle" fill="#222"  stroke="#222" stroke-width="0.16">30</text>
<line x1="483.21" y1="499.20" x2="483.21" y2="502.20" stroke="#333" stroke-width="0.9" />
<text x="483.21" y="512.00" font-size="8.2" text-anchor="middle" fill="#222"  stroke="#222" stroke-width="0.16">36</text>
<text x="429.30" y="521.90" font-size="8.2" text-anchor="middle" fill="#222"  stroke="#222" stroke-width="0.16">Time (mo)</text>
<text x="435.40" y="413.00" font-size="8.2" text-anchor="middle" fill="#222"  stroke="#222" stroke-width="0.16">pMMR cases (<tspan font-style="italic">n</tspan> = 222)</text>
<text x="479.10" y="449.30" font-size="7.48" text-anchor="end" fill="#222"  stroke="#222" stroke-width="0.16"><tspan font-style="italic">P</tspan> = 0.6218</text>
<line x1="377.80" y1="481.50" x2="387.40" y2="481.50" stroke="#f0c4c8" stroke-width="1.0" />
<text x="391.80" y="483.90" font-size="8.3" text-anchor="start" fill="#222"  stroke="#222" stroke-width="0.16">Low KRT17 expression</text>
<line x1="377.80" y1="492.00" x2="387.40" y2="492.00" stroke="#8cc4b8" stroke-width="1.0" />
<text x="391.80" y="494.40" font-size="8.3" text-anchor="start" fill="#222"  stroke="#222" stroke-width="0.16">High KRT17 expression</text>
<g transform="translate(345.00,461.00) rotate(-90)">
<text x="0.00" y="0.00" font-size="8.2" text-anchor="middle" fill="#222"  stroke="#222" stroke-width="0.16">Overall survival (%)</text>
</g>
<text x="1.50" y="539.70" font-size="12" text-anchor="start" fill="#111" font-weight="bold" stroke="#111" stroke-width="0.55">I</text>
<path d="M37.60,560.60H46.95H40.16V561.24H42.71V561.89H45.27V562.53H47.82V563.18H50.38V563.82H54.22V564.59H58.07V565.35H61.91V566.11H62.89V566.84H63.87V567.57H64.85V568.29H65.83V569.02H66.81V569.74H67.79V570.47H68.77V571.20H72.72V571.84H76.67V572.49H80.61V573.13H82.33V573.79H84.04V574.45H85.76V575.12H87.47V575.78H93.60V576.42H99.73V577.07H105.86V577.71H111.63V578.68H117.40V579.65H125.50V580.43H133.60V581.22H137.03V582.04H140.46V582.87H149.81" fill="none" stroke="#eca4ae" stroke-width="1.25"/>
<path d="M46.95,560.60H47.89V561.32H71.26V562.03H78.12V562.89H84.98V563.75H112.72V564.90H113.03V565.61H113.34V566.33H113.65V567.04H113.97V567.76H149.81V568.33" fill="none" stroke="#3cb8a0" stroke-width="1.25"/>
<rect x="37.60" y="556.50" width="118.70" height="79.40" fill="none" stroke="#2a2a2a" stroke-width="1.2" />
<line x1="33.80" y1="632.20" x2="37.60" y2="632.20" stroke="#333" stroke-width="1.0" />
<text x="31.60" y="635.00" font-size="8.2" text-anchor="end" fill="#222"  stroke="#222" stroke-width="0.16">0</text>
<line x1="33.80" y1="617.88" x2="37.60" y2="617.88" stroke="#333" stroke-width="1.0" />
<text x="31.60" y="620.68" font-size="8.2" text-anchor="end" fill="#222"  stroke="#222" stroke-width="0.16">20</text>
<line x1="33.80" y1="603.56" x2="37.60" y2="603.56" stroke="#333" stroke-width="1.0" />
<text x="31.60" y="606.36" font-size="8.2" text-anchor="end" fill="#222"  stroke="#222" stroke-width="0.16">40</text>
<line x1="33.80" y1="589.24" x2="37.60" y2="589.24" stroke="#333" stroke-width="1.0" />
<text x="31.60" y="592.04" font-size="8.2" text-anchor="end" fill="#222"  stroke="#222" stroke-width="0.16">60</text>
<line x1="33.80" y1="574.92" x2="37.60" y2="574.92" stroke="#333" stroke-width="1.0" />
<text x="31.60" y="577.72" font-size="8.2" text-anchor="end" fill="#222"  stroke="#222" stroke-width="0.16">80</text>
<line x1="33.80" y1="560.60" x2="37.60" y2="560.60" stroke="#333" stroke-width="1.0" />
<text x="31.60" y="563.40" font-size="8.2" text-anchor="end" fill="#222"  stroke="#222" stroke-width="0.16">100</text>
<line x1="37.60" y1="635.90" x2="37.60" y2="638.90" stroke="#333" stroke-width="0.9" />
<text x="37.60" y="648.20" font-size="8.2" text-anchor="middle" fill="#222"  stroke="#222" stroke-width="0.16">0</text>
<line x1="56.30" y1="635.90" x2="56.30" y2="638.90" stroke="#333" stroke-width="0.9" />
<text x="56.30" y="648.20" font-size="8.2" text-anchor="middle" fill="#222"  stroke="#222" stroke-width="0.16">6</text>
<line x1="75.00" y1="635.90" x2="75.00" y2="638.90" stroke="#333" stroke-width="0.9" />
<text x="75.00" y="648.20" font-size="8.2" text-anchor="middle" fill="#222"  stroke="#222" stroke-width="0.16">12</text>
<line x1="93.71" y1="635.90" x2="93.71" y2="638.90" stroke="#333" stroke-width="0.9" />
<text x="93.71" y="648.20" font-size="8.2" text-anchor="middle" fill="#222"  stroke="#222" stroke-width="0.16">18</text>
<line x1="112.41" y1="635.90" x2="112.41" y2="638.90" stroke="#333" stroke-width="0.9" />
<text x="112.41" y="648.20" font-size="8.2" text-anchor="middle" fill="#222"  stroke="#222" stroke-width="0.16">24</text>
<line x1="131.11" y1="635.90" x2="131.11" y2="638.90" stroke="#333" stroke-width="0.9" />
<text x="131.11" y="648.20" font-size="8.2" text-anchor="middle" fill="#222"  stroke="#222" stroke-width="0.16">30</text>
<line x1="149.81" y1="635.90" x2="149.81" y2="638.90" stroke="#333" stroke-width="0.9" />
<text x="149.81" y="648.20" font-size="8.2" text-anchor="middle" fill="#222"  stroke="#222" stroke-width="0.16">36</text>
<text x="92.90" y="657.80" font-size="8.2" text-anchor="middle" fill="#222"  stroke="#222" stroke-width="0.16">Time (mo)</text>
<text x="99.10" y="547.70" font-size="8.2" text-anchor="middle" fill="#222"  stroke="#222" stroke-width="0.16">All cases (<tspan font-style="italic">n</tspan> = 446)</text>
<text x="147.20" y="596.80" font-size="7.48" text-anchor="end" fill="#222"  stroke="#222" stroke-width="0.16"><tspan font-style="italic">P</tspan> &lt; 0.0001</text>
<line x1="44.90" y1="617.50" x2="54.50" y2="617.50" stroke="#f0c4c8" stroke-width="1.0" />
<text x="58.90" y="619.90" font-size="8.3" text-anchor="start" fill="#222"  stroke="#222" stroke-width="0.16">Low KRT17 expression</text>
<line x1="44.90" y1="627.50" x2="54.50" y2="627.50" stroke="#8cc4b8" stroke-width="1.0" />
<text x="58.90" y="629.90" font-size="8.3" text-anchor="start" fill="#222"  stroke="#222" stroke-width="0.16">High KRT17 expression</text>
<g transform="translate(12.00,594.50) rotate(-90)">
<text x="0.00" y="0.00" font-size="8.2" text-anchor="middle" fill="#222"  stroke="#222" stroke-width="0.16">Disease-free survival (%)</text>
</g>
<path d="M204.80,560.60H213.84H209.94V561.39H215.09V562.18H215.40V562.84H215.71V563.50H216.02V564.16H216.33V564.82H216.64V565.49H216.96V566.15H217.27V566.81H217.58V567.47H218.39V568.20H219.20V568.93H220.01V569.66H220.82V570.39H221.63V571.13H222.75V571.81H223.88V572.50H225.00V573.19H226.12V573.87H227.24V574.56H228.36V575.25H229.49V575.94H230.61V576.62H231.73V577.31H232.85V578.00H236.80V578.81H240.75V579.62H244.70V580.43H246.30V581.12H247.90V581.80H249.51V582.49H251.11V583.17H252.71V583.86H254.32V584.55H255.92V585.23H262.93V585.98H269.95V586.73H273.69V587.38H277.43V588.02H281.17V588.67H284.91V589.31H299.87V590.03H317.01" fill="none" stroke="#eca4ae" stroke-width="1.25"/>
<path d="M204.80,560.60H232.85V560.81H237.53V561.67H242.20V562.53H246.46V563.30H250.72V564.06H254.98V564.82H279.92V565.54H281.17V566.21H282.41V566.88H283.66V567.55H307.35V568.33H317.01V568.62" fill="none" stroke="#3cb8a0" stroke-width="1.25"/>
<rect x="204.80" y="556.50" width="118.30" height="79.40" fill="none" stroke="#2a2a2a" stroke-width="1.2" />
<line x1="201.00" y1="632.20" x2="204.80" y2="632.20" stroke="#333" stroke-width="1.0" />
<text x="198.80" y="635.00" font-size="8.2" text-anchor="end" fill="#222"  stroke="#222" stroke-width="0.16">0</text>
<line x1="201.00" y1="617.88" x2="204.80" y2="617.88" stroke="#333" stroke-width="1.0" />
<text x="198.80" y="620.68" font-size="8.2" text-anchor="end" fill="#222"  stroke="#222" stroke-width="0.16">20</text>
<line x1="201.00" y1="603.56" x2="204.80" y2="603.56" stroke="#333" stroke-width="1.0" />
<text x="198.80" y="606.36" font-size="8.2" text-anchor="end" fill="#222"  stroke="#222" stroke-width="0.16">40</text>
<line x1="201.00" y1="589.24" x2="204.80" y2="589.24" stroke="#333" stroke-width="1.0" />
<text x="198.80" y="592.04" font-size="8.2" text-anchor="end" fill="#222"  stroke="#222" stroke-width="0.16">60</text>
<line x1="201.00" y1="574.92" x2="204.80" y2="574.92" stroke="#333" stroke-width="1.0" />
<text x="198.80" y="577.72" font-size="8.2" text-anchor="end" fill="#222"  stroke="#222" stroke-width="0.16">80</text>
<line x1="201.00" y1="560.60" x2="204.80" y2="560.60" stroke="#333" stroke-width="1.0" />
<text x="198.80" y="563.40" font-size="8.2" text-anchor="end" fill="#222"  stroke="#222" stroke-width="0.16">100</text>
<line x1="204.80" y1="635.90" x2="204.80" y2="638.90" stroke="#333" stroke-width="0.9" />
<text x="204.80" y="648.20" font-size="8.2" text-anchor="middle" fill="#222"  stroke="#222" stroke-width="0.16">0</text>
<line x1="223.50" y1="635.90" x2="223.50" y2="638.90" stroke="#333" stroke-width="0.9" />
<text x="223.50" y="648.20" font-size="8.2" text-anchor="middle" fill="#222"  stroke="#222" stroke-width="0.16">6</text>
<line x1="242.20" y1="635.90" x2="242.20" y2="638.90" stroke="#333" stroke-width="0.9" />
<text x="242.20" y="648.20" font-size="8.2" text-anchor="middle" fill="#222"  stroke="#222" stroke-width="0.16">12</text>
<line x1="260.91" y1="635.90" x2="260.91" y2="638.90" stroke="#333" stroke-width="0.9" />
<text x="260.91" y="648.20" font-size="8.2" text-anchor="middle" fill="#222"  stroke="#222" stroke-width="0.16">18</text>
<line x1="279.61" y1="635.90" x2="279.61" y2="638.90" stroke="#333" stroke-width="0.9" />
<text x="279.61" y="648.20" font-size="8.2" text-anchor="middle" fill="#222"  stroke="#222" stroke-width="0.16">24</text>
<line x1="298.31" y1="635.90" x2="298.31" y2="638.90" stroke="#333" stroke-width="0.9" />
<text x="298.31" y="648.20" font-size="8.2" text-anchor="middle" fill="#222"  stroke="#222" stroke-width="0.16">30</text>
<line x1="317.01" y1="635.90" x2="317.01" y2="638.90" stroke="#333" stroke-width="0.9" />
<text x="317.01" y="648.20" font-size="8.2" text-anchor="middle" fill="#222"  stroke="#222" stroke-width="0.16">36</text>
<text x="265.80" y="657.80" font-size="8.2" text-anchor="middle" fill="#222"  stroke="#222" stroke-width="0.16">Time (mo)</text>
<text x="265.80" y="547.70" font-size="8.2" text-anchor="middle" fill="#222"  stroke="#222" stroke-width="0.16">dMMR cases (<tspan font-style="italic">n</tspan> = 224)</text>
<text x="311.50" y="602.90" font-size="7.48" text-anchor="end" fill="#222"  stroke="#222" stroke-width="0.16"><tspan font-style="italic">P</tspan> &lt; 0.0001</text>
<line x1="212.60" y1="617.50" x2="222.20" y2="617.50" stroke="#f0c4c8" stroke-width="1.0" />
<text x="226.60" y="619.90" font-size="8.3" text-anchor="start" fill="#222"  stroke="#222" stroke-width="0.16">Low KRT17 expression</text>
<line x1="212.60" y1="627.50" x2="222.20" y2="627.50" stroke="#8cc4b8" stroke-width="1.0" />
<text x="226.60" y="629.90" font-size="8.3" text-anchor="start" fill="#222"  stroke="#222" stroke-width="0.16">High KRT17 expression</text>
<g transform="translate(179.00,594.50) rotate(-90)">
<text x="0.00" y="0.00" font-size="8.2" text-anchor="middle" fill="#222"  stroke="#222" stroke-width="0.16">Disease-free survival (%)</text>
</g>
<path d="M371.00,560.60H374.12H375.68V561.24H380.35V561.89H385.03V562.53H397.49V563.82H398.24V564.47H398.99V565.11H399.74V565.76H400.49V566.40H401.23V567.04H404.66V567.78H408.09V568.51H411.52V569.25H414.95V569.98H419.94V570.67H424.92V571.36H429.91V572.06H435.73V572.87H441.55V573.68H447.37V574.49H456.25V575.42H465.13V576.35H467.63V577.19H470.12V578.02H472.61V578.86H483.21" fill="none" stroke="#eca4ae" stroke-width="1.25"/>
<path d="M371.00,560.60H374.12H377.34V561.24H383.68V561.89H390.01V562.53H401.23H395.00V563.39H399.99V564.25H404.98V565.11H422.43V566.40H426.17V567.26H429.91V568.12H444.87H435.73V568.91H441.55V569.69H447.37V570.48H483.21" fill="none" stroke="#3cb8a0" stroke-width="1.25"/>
<rect x="371.00" y="556.50" width="118.80" height="79.40" fill="none" stroke="#2a2a2a" stroke-width="1.2" />
<line x1="367.20" y1="632.20" x2="371.00" y2="632.20" stroke="#333" stroke-width="1.0" />
<text x="365.00" y="635.00" font-size="8.2" text-anchor="end" fill="#222"  stroke="#222" stroke-width="0.16">0</text>
<line x1="367.20" y1="617.88" x2="371.00" y2="617.88" stroke="#333" stroke-width="1.0" />
<text x="365.00" y="620.68" font-size="8.2" text-anchor="end" fill="#222"  stroke="#222" stroke-width="0.16">20</text>
<line x1="367.20" y1="603.56" x2="371.00" y2="603.56" stroke="#333" stroke-width="1.0" />
<text x="365.00" y="606.36" font-size="8.2" text-anchor="end" fill="#222"  stroke="#222" stroke-width="0.16">40</text>
<line x1="367.20" y1="589.24" x2="371.00" y2="589.24" stroke="#333" stroke-width="1.0" />
<text x="365.00" y="592.04" font-size="8.2" text-anchor="end" fill="#222"  stroke="#222" stroke-width="0.16">60</text>
<line x1="367.20" y1="574.92" x2="371.00" y2="574.92" stroke="#333" stroke-width="1.0" />
<text x="365.00" y="577.72" font-size="8.2" text-anchor="end" fill="#222"  stroke="#222" stroke-width="0.16">80</text>
<line x1="367.20" y1="560.60" x2="371.00" y2="560.60" stroke="#333" stroke-width="1.0" />
<text x="365.00" y="563.40" font-size="8.2" text-anchor="end" fill="#222"  stroke="#222" stroke-width="0.16">100</text>
<line x1="371.00" y1="635.90" x2="371.00" y2="638.90" stroke="#333" stroke-width="0.9" />
<text x="371.00" y="648.20" font-size="8.2" text-anchor="middle" fill="#222"  stroke="#222" stroke-width="0.16">0</text>
<line x1="389.70" y1="635.90" x2="389.70" y2="638.90" stroke="#333" stroke-width="0.9" />
<text x="389.70" y="648.20" font-size="8.2" text-anchor="middle" fill="#222"  stroke="#222" stroke-width="0.16">6</text>
<line x1="408.40" y1="635.90" x2="408.40" y2="638.90" stroke="#333" stroke-width="0.9" />
<text x="408.40" y="648.20" font-size="8.2" text-anchor="middle" fill="#222"  stroke="#222" stroke-width="0.16">12</text>
<line x1="427.11" y1="635.90" x2="427.11" y2="638.90" stroke="#333" stroke-width="0.9" />
<text x="427.11" y="648.20" font-size="8.2" text-anchor="middle" fill="#222"  stroke="#222" stroke-width="0.16">18</text>
<line x1="445.81" y1="635.90" x2="445.81" y2="638.90" stroke="#333" stroke-width="0.9" />
<text x="445.81" y="648.20" font-size="8.2" text-anchor="middle" fill="#222"  stroke="#222" stroke-width="0.16">24</text>
<line x1="464.51" y1="635.90" x2="464.51" y2="638.90" stroke="#333" stroke-width="0.9" />
<text x="464.51" y="648.20" font-size="8.2" text-anchor="middle" fill="#222"  stroke="#222" stroke-width="0.16">30</text>
<line x1="483.21" y1="635.90" x2="483.21" y2="638.90" stroke="#333" stroke-width="0.9" />
<text x="483.21" y="648.20" font-size="8.2" text-anchor="middle" fill="#222"  stroke="#222" stroke-width="0.16">36</text>
<text x="429.80" y="657.80" font-size="8.2" text-anchor="middle" fill="#222"  stroke="#222" stroke-width="0.16">Time (mo)</text>
<text x="435.40" y="547.70" font-size="8.2" text-anchor="middle" fill="#222"  stroke="#222" stroke-width="0.16">pMMR cases (<tspan font-style="italic">n</tspan> = 222)</text>
<text x="481.40" y="595.00" font-size="7.48" text-anchor="end" fill="#222"  stroke="#222" stroke-width="0.16"><tspan font-style="italic">P</tspan> = 0.0471</text>
<line x1="379.60" y1="617.50" x2="389.20" y2="617.50" stroke="#f0c4c8" stroke-width="1.0" />
<text x="393.60" y="619.90" font-size="8.3" text-anchor="start" fill="#222"  stroke="#222" stroke-width="0.16">Low KRT17 expression</text>
<line x1="379.60" y1="627.50" x2="389.20" y2="627.50" stroke="#8cc4b8" stroke-width="1.0" />
<text x="393.60" y="629.90" font-size="8.3" text-anchor="start" fill="#222"  stroke="#222" stroke-width="0.16">High KRT17 expression</text>
<g transform="translate(344.50,594.50) rotate(-90)">
<text x="0.00" y="0.00" font-size="8.2" text-anchor="middle" fill="#222"  stroke="#222" stroke-width="0.16">Disease-free survival (%)</text>
</g></g>
</svg>
</body></html>
